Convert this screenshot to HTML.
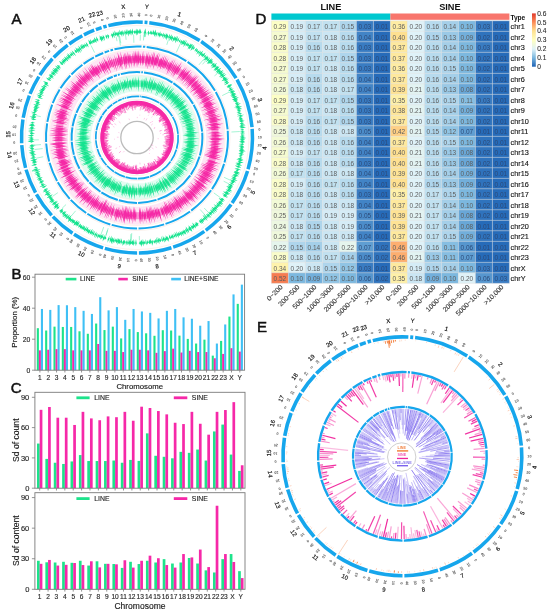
<!DOCTYPE html>
<html><head><meta charset="utf-8"><title>Figure</title><style>html,body{margin:0;padding:0;background:#fff;width:550px;height:614px;overflow:hidden}svg{display:block}</style></head><body>
<svg width="550" height="614" viewBox="0 0 550 614" font-family="'Liberation Sans', Arial, sans-serif">
<rect width="550" height="614" fill="#fff"/>
<g id="A">
<circle cx="137.0" cy="137.5" r="38.2" fill="none" stroke="#f7e2d6" stroke-width="0.5"/>
<circle cx="137.0" cy="137.5" r="43.2" fill="none" stroke="#f7e2d6" stroke-width="0.5"/>
<circle cx="137.0" cy="137.5" r="62.5" fill="none" stroke="#f7e2d6" stroke-width="0.5"/>
<circle cx="137.0" cy="137.5" r="67.3" fill="none" stroke="#f7e2d6" stroke-width="0.5"/>
<circle cx="137.0" cy="137.5" r="88.0" fill="none" stroke="#f7e2d6" stroke-width="0.5"/>
<circle cx="137.0" cy="137.5" r="93.0" fill="none" stroke="#f7e2d6" stroke-width="0.5"/>
<circle cx="137.0" cy="137.5" r="112.0" fill="none" stroke="#f7e2d6" stroke-width="0.5"/>
<path d="M149.27 22.65A115.5 115.5 0 0 1 199.65 40.47" stroke="#16a6ec" stroke-width="3.5" fill="none"/><path d="M201.17 41.47A115.5 115.5 0 0 1 236.05 78.1" stroke="#16a6ec" stroke-width="3.5" fill="none"/><path d="M236.98 79.66A115.5 115.5 0 0 1 252.03 127.13" stroke="#16a6ec" stroke-width="3.5" fill="none"/><path d="M252.18 128.94A115.5 115.5 0 0 1 248.05 169.24" stroke="#16a6ec" stroke-width="3.5" fill="none"/><path d="M247.54 170.98A115.5 115.5 0 0 1 232.13 203" stroke="#16a6ec" stroke-width="3.5" fill="none"/><path d="M231.09 204.49A115.5 115.5 0 0 1 205.78 230.29" stroke="#16a6ec" stroke-width="3.5" fill="none"/><path d="M204.32 231.35A115.5 115.5 0 0 1 173.17 247.19" stroke="#16a6ec" stroke-width="3.5" fill="none"/><path d="M171.44 247.74A115.5 115.5 0 0 1 138.91 252.98" stroke="#16a6ec" stroke-width="3.5" fill="none"/><path d="M137.1 253A115.5 115.5 0 0 1 104.87 248.44" stroke="#16a6ec" stroke-width="3.5" fill="none"/><path d="M103.13 247.92A115.5 115.5 0 0 1 74.01 234.31" stroke="#16a6ec" stroke-width="3.5" fill="none"/><path d="M72.5 233.31A115.5 115.5 0 0 1 52.87 216.64" stroke="#16a6ec" stroke-width="3.5" fill="none"/><path d="M51.64 215.31A115.5 115.5 0 0 1 36.42 194.29" stroke="#16a6ec" stroke-width="3.5" fill="none"/><path d="M35.54 192.7A115.5 115.5 0 0 1 26.06 169.63" stroke="#16a6ec" stroke-width="3.5" fill="none"/><path d="M25.57 167.88A115.5 115.5 0 0 1 21.75 145.05" stroke="#16a6ec" stroke-width="3.5" fill="none"/><path d="M21.64 143.24A115.5 115.5 0 0 1 22.91 119.53" stroke="#16a6ec" stroke-width="3.5" fill="none"/><path d="M23.2 117.74A115.5 115.5 0 0 1 29.35 95.64" stroke="#16a6ec" stroke-width="3.5" fill="none"/><path d="M30.02 93.95A115.5 115.5 0 0 1 38.89 76.55" stroke="#16a6ec" stroke-width="3.5" fill="none"/><path d="M39.86 75.02A115.5 115.5 0 0 1 52.46 58.8" stroke="#16a6ec" stroke-width="3.5" fill="none"/><path d="M53.71 57.48A115.5 115.5 0 0 1 67.73 45.08" stroke="#16a6ec" stroke-width="3.5" fill="none"/><path d="M69.19 44A115.5 115.5 0 0 1 82.33 35.76" stroke="#16a6ec" stroke-width="3.5" fill="none"/><path d="M83.94 34.91A115.5 115.5 0 0 1 94.2 30.22" stroke="#16a6ec" stroke-width="3.5" fill="none"/><path d="M95.89 29.56A115.5 115.5 0 0 1 101.6 27.56" stroke="#16a6ec" stroke-width="3.5" fill="none"/><path d="M103.33 27.02A115.5 115.5 0 0 1 106.62 26.07" stroke="#16a6ec" stroke-width="3.5" fill="none"/><path d="M108.37 25.6A115.5 115.5 0 0 1 142.74 22.14" stroke="#16a6ec" stroke-width="3.5" fill="none"/><path d="M144.55 22.25A115.5 115.5 0 0 1 147.47 22.48" stroke="#16a6ec" stroke-width="3.5" fill="none"/>
<path d="M146.67 47.02A91 91 0 0 1 186.36 61.05" stroke="#16a6ec" stroke-width="2" fill="none"/><path d="M187.56 61.84A91 91 0 0 1 215.04 90.7" stroke="#16a6ec" stroke-width="2" fill="none"/><path d="M215.77 91.93A91 91 0 0 1 227.63 129.33" stroke="#16a6ec" stroke-width="2" fill="none"/><path d="M227.75 130.76A91 91 0 0 1 224.5 162.51" stroke="#16a6ec" stroke-width="2" fill="none"/><path d="M224.09 163.88A91 91 0 0 1 211.95 189.11" stroke="#16a6ec" stroke-width="2" fill="none"/><path d="M211.13 190.28A91 91 0 0 1 191.19 210.6" stroke="#16a6ec" stroke-width="2" fill="none"/><path d="M190.04 211.45A91 91 0 0 1 165.5 223.92" stroke="#16a6ec" stroke-width="2" fill="none"/><path d="M164.14 224.36A91 91 0 0 1 138.51 228.49" stroke="#16a6ec" stroke-width="2" fill="none"/><path d="M137.08 228.5A91 91 0 0 1 111.69 224.91" stroke="#16a6ec" stroke-width="2" fill="none"/><path d="M110.32 224.5A91 91 0 0 1 87.37 213.78" stroke="#16a6ec" stroke-width="2" fill="none"/><path d="M86.18 212.99A91 91 0 0 1 70.72 199.85" stroke="#16a6ec" stroke-width="2" fill="none"/><path d="M69.75 198.8A91 91 0 0 1 57.76 182.24" stroke="#16a6ec" stroke-width="2" fill="none"/><path d="M57.07 180.99A91 91 0 0 1 49.59 162.81" stroke="#16a6ec" stroke-width="2" fill="none"/><path d="M49.2 161.44A91 91 0 0 1 46.19 143.45" stroke="#16a6ec" stroke-width="2" fill="none"/><path d="M46.11 142.02A91 91 0 0 1 47.11 123.34" stroke="#16a6ec" stroke-width="2" fill="none"/><path d="M47.34 121.93A91 91 0 0 1 52.19 104.52" stroke="#16a6ec" stroke-width="2" fill="none"/><path d="M52.72 103.19A91 91 0 0 1 59.7 89.48" stroke="#16a6ec" stroke-width="2" fill="none"/><path d="M60.47 88.27A91 91 0 0 1 70.39 75.5" stroke="#16a6ec" stroke-width="2" fill="none"/><path d="M71.37 74.46A91 91 0 0 1 82.43 64.68" stroke="#16a6ec" stroke-width="2" fill="none"/><path d="M83.58 63.83A91 91 0 0 1 93.93 57.34" stroke="#16a6ec" stroke-width="2" fill="none"/><path d="M95.19 56.67A91 91 0 0 1 103.28 52.98" stroke="#16a6ec" stroke-width="2" fill="none"/><path d="M104.61 52.46A91 91 0 0 1 109.11 50.88" stroke="#16a6ec" stroke-width="2" fill="none"/><path d="M110.47 50.45A91 91 0 0 1 113.06 49.7" stroke="#16a6ec" stroke-width="2" fill="none"/><path d="M114.45 49.34A91 91 0 0 1 141.52 46.61" stroke="#16a6ec" stroke-width="2" fill="none"/><path d="M142.95 46.69A91 91 0 0 1 145.25 46.87" stroke="#16a6ec" stroke-width="2" fill="none"/>
<path d="M143.95 72.47A65.4 65.4 0 0 1 172.48 82.56" stroke="#16a6ec" stroke-width="2" fill="none"/><path d="M173.33 83.12A65.4 65.4 0 0 1 193.09 103.87" stroke="#16a6ec" stroke-width="2" fill="none"/><path d="M193.61 104.75A65.4 65.4 0 0 1 202.14 131.63" stroke="#16a6ec" stroke-width="2" fill="none"/><path d="M202.22 132.65A65.4 65.4 0 0 1 199.88 155.47" stroke="#16a6ec" stroke-width="2" fill="none"/><path d="M199.59 156.46A65.4 65.4 0 0 1 190.87 174.59" stroke="#16a6ec" stroke-width="2" fill="none"/><path d="M190.28 175.43A65.4 65.4 0 0 1 175.95 190.04" stroke="#16a6ec" stroke-width="2" fill="none"/><path d="M175.12 190.64A65.4 65.4 0 0 1 157.48 199.61" stroke="#16a6ec" stroke-width="2" fill="none"/><path d="M156.5 199.92A65.4 65.4 0 0 1 138.08 202.89" stroke="#16a6ec" stroke-width="2" fill="none"/><path d="M137.06 202.9A65.4 65.4 0 0 1 118.81 200.32" stroke="#16a6ec" stroke-width="2" fill="none"/><path d="M117.82 200.03A65.4 65.4 0 0 1 101.33 192.32" stroke="#16a6ec" stroke-width="2" fill="none"/><path d="M100.48 191.75A65.4 65.4 0 0 1 89.36 182.31" stroke="#16a6ec" stroke-width="2" fill="none"/><path d="M88.67 181.56A65.4 65.4 0 0 1 80.05 169.65" stroke="#16a6ec" stroke-width="2" fill="none"/><path d="M79.55 168.76A65.4 65.4 0 0 1 74.18 155.69" stroke="#16a6ec" stroke-width="2" fill="none"/><path d="M73.9 154.7A65.4 65.4 0 0 1 71.74 141.78" stroke="#16a6ec" stroke-width="2" fill="none"/><path d="M71.68 140.75A65.4 65.4 0 0 1 72.4 127.33" stroke="#16a6ec" stroke-width="2" fill="none"/><path d="M72.56 126.31A65.4 65.4 0 0 1 76.05 113.8" stroke="#16a6ec" stroke-width="2" fill="none"/><path d="M76.43 112.84A65.4 65.4 0 0 1 81.45 102.99" stroke="#16a6ec" stroke-width="2" fill="none"/><path d="M82 102.12A65.4 65.4 0 0 1 89.13 92.94" stroke="#16a6ec" stroke-width="2" fill="none"/><path d="M89.84 92.19A65.4 65.4 0 0 1 97.78 85.17" stroke="#16a6ec" stroke-width="2" fill="none"/><path d="M98.61 84.56A65.4 65.4 0 0 1 106.04 79.89" stroke="#16a6ec" stroke-width="2" fill="none"/><path d="M106.95 79.41A65.4 65.4 0 0 1 112.77 76.76" stroke="#16a6ec" stroke-width="2" fill="none"/><path d="M113.72 76.38A65.4 65.4 0 0 1 116.95 75.25" stroke="#16a6ec" stroke-width="2" fill="none"/><path d="M117.93 74.94A65.4 65.4 0 0 1 119.8 74.4" stroke="#16a6ec" stroke-width="2" fill="none"/><path d="M120.79 74.14A65.4 65.4 0 0 1 140.25 72.18" stroke="#16a6ec" stroke-width="2" fill="none"/><path d="M141.28 72.24A65.4 65.4 0 0 1 142.93 72.37" stroke="#16a6ec" stroke-width="2" fill="none"/>
<path d="M141.38 96.53A41.2 41.2 0 0 1 159.35 102.89" stroke="#16a6ec" stroke-width="1.7" fill="none"/><path d="M159.89 103.24A41.2 41.2 0 0 1 172.33 116.31" stroke="#16a6ec" stroke-width="1.7" fill="none"/><path d="M172.66 116.87A41.2 41.2 0 0 1 178.03 133.8" stroke="#16a6ec" stroke-width="1.7" fill="none"/><path d="M178.09 134.45A41.2 41.2 0 0 1 176.61 148.82" stroke="#16a6ec" stroke-width="1.7" fill="none"/><path d="M176.43 149.44A41.2 41.2 0 0 1 170.93 160.87" stroke="#16a6ec" stroke-width="1.7" fill="none"/><path d="M170.56 161.4A41.2 41.2 0 0 1 161.54 170.6" stroke="#16a6ec" stroke-width="1.7" fill="none"/><path d="M161.01 170.98A41.2 41.2 0 0 1 149.9 176.63" stroke="#16a6ec" stroke-width="1.7" fill="none"/><path d="M149.29 176.83A41.2 41.2 0 0 1 137.68 178.69" stroke="#16a6ec" stroke-width="1.7" fill="none"/><path d="M137.04 178.7A41.2 41.2 0 0 1 125.54 177.07" stroke="#16a6ec" stroke-width="1.7" fill="none"/><path d="M124.92 176.89A41.2 41.2 0 0 1 114.53 172.03" stroke="#16a6ec" stroke-width="1.7" fill="none"/><path d="M113.99 171.68A41.2 41.2 0 0 1 106.99 165.73" stroke="#16a6ec" stroke-width="1.7" fill="none"/><path d="M106.55 165.25A41.2 41.2 0 0 1 101.12 157.76" stroke="#16a6ec" stroke-width="1.7" fill="none"/><path d="M100.81 157.19A41.2 41.2 0 0 1 97.43 148.96" stroke="#16a6ec" stroke-width="1.7" fill="none"/><path d="M97.25 148.34A41.2 41.2 0 0 1 95.89 140.19" stroke="#16a6ec" stroke-width="1.7" fill="none"/><path d="M95.85 139.55A41.2 41.2 0 0 1 96.3 131.09" stroke="#16a6ec" stroke-width="1.7" fill="none"/><path d="M96.41 130.45A41.2 41.2 0 0 1 98.6 122.57" stroke="#16a6ec" stroke-width="1.7" fill="none"/><path d="M98.84 121.97A41.2 41.2 0 0 1 102 115.76" stroke="#16a6ec" stroke-width="1.7" fill="none"/><path d="M102.35 115.21A41.2 41.2 0 0 1 106.84 109.43" stroke="#16a6ec" stroke-width="1.7" fill="none"/><path d="M107.29 108.96A41.2 41.2 0 0 1 112.29 104.53" stroke="#16a6ec" stroke-width="1.7" fill="none"/><path d="M112.81 104.15A41.2 41.2 0 0 1 117.5 101.21" stroke="#16a6ec" stroke-width="1.7" fill="none"/><path d="M118.07 100.91A41.2 41.2 0 0 1 121.73 99.23" stroke="#16a6ec" stroke-width="1.7" fill="none"/><path d="M122.34 99A41.2 41.2 0 0 1 124.37 98.28" stroke="#16a6ec" stroke-width="1.7" fill="none"/><path d="M124.99 98.09A41.2 41.2 0 0 1 126.16 97.75" stroke="#16a6ec" stroke-width="1.7" fill="none"/><path d="M126.79 97.59A41.2 41.2 0 0 1 139.05 96.35" stroke="#16a6ec" stroke-width="1.7" fill="none"/><path d="M139.69 96.39A41.2 41.2 0 0 1 140.73 96.47" stroke="#16a6ec" stroke-width="1.7" fill="none"/>
<circle cx="137.0" cy="137.5" r="16.2" fill="none" stroke="#bbbbbb" stroke-width="1.3"/>
<path d="M148.69 30.47L149.32 32.72L148.09 35.97L147.59 32.53ZM150.66 30.19L150.96 32.93L150.07 34.77L149.68 32.76ZM152.04 30.21L152.45 33.14L151.37 34.97L150.83 32.91ZM153.89 29.53L154.21 33.41L152.98 35.34L152.41 33.13ZM155.69 29.53L156.05 33.73L154.45 36.68L153.94 33.37ZM156.86 31.94L157.19 33.95L155.79 37.61L155.82 33.69ZM158.83 32.15L159.1 34.34L157.89 36.68L157.71 34.05ZM160.38 31.35L160.55 34.66L158.97 37.72L158.83 34.28ZM161.59 32.9L162.06 35.02L160.7 36.69L160.23 34.59ZM163.63 32.5L163.74 35.45L162.31 37.71L162.13 35.04ZM165.21 33.23L165.27 35.86L163.59 39.24L163.84 35.47ZM167.08 33.07L167.12 36.39L165.36 39.06L165.28 35.86ZM167.99 34.05L168.06 36.67L166.08 40.41L166.49 36.21ZM170.13 33.53L169.65 37.18L168.37 39.04L168.41 36.78ZM171.69 34.27L171.57 37.82L169.44 40.94L169.63 37.17ZM172.98 35.61L172.97 38.32L170.97 41.29L171.29 37.73ZM174.85 35.93L174.63 38.94L172.51 42.22L173.05 38.35ZM176.42 35.99L176.05 39.49L174.49 40.97L174.33 38.83ZM177.99 35.77L177.18 39.95L175.02 43.15L175.68 39.35ZM179.34 37.16L178.66 40.58L177.29 42.01L177.36 40.03ZM180.51 39.11L180.29 41.29L178.88 42.79L179.03 40.74ZM182.19 39.52L181.79 41.98L180.04 44.18L180.58 41.42ZM183.88 39.79L183.54 42.82L181.29 45.19L181.73 41.95ZM185.52 39.48L184.51 43.31L182.71 45.16L183.1 42.6ZM186.87 40.1L185.71 43.92L183.22 47.24L184.45 43.27ZM187.8 42.36L187.48 44.86L185.58 46.52L185.9 44.02ZM189.24 43.05L188.76 45.57L187.18 46.76L187.36 44.8ZM191.18 43.31L190.35 46.48L187.57 49.59L188.86 45.62ZM192.3 43.82L191.52 47.18L188.9 49.6L189.74 46.13ZM194.34 44.6L193.1 48.15L190.36 51.04L191.72 47.3ZM195.16 46.19L194.23 48.87L192.58 50.25L193.12 48.17ZM196.9 47.87L196.16 50.15L194.4 51.6L195.07 49.42ZM197.84 49.11L197.47 51.05L195.59 52.38L196.16 50.15ZM199.48 50.19L198.96 52.11L196.12 54.87L197.83 51.3ZM200.98 50.61L200.11 52.96L198 54.67L199.01 52.14ZM203.22 50.49L201.56 54.06L198.36 56.88L200.21 53.04ZM203.33 52.9L202.68 54.94L200.83 56.09L201.5 54.02ZM205.56 52.39L204.01 56.01L201.82 57.05L202.36 54.69ZM206.65 54.22L205.17 56.98L203.3 58.22L204.19 56.16ZM208.06 55.42L206.77 58.36L203.34 60.88L205.34 57.13ZM208.53 56.68L207.65 59.15L205.15 60.51L206.19 57.86ZM210.27 57.37L208.73 60.14L205.72 62.35L207.65 59.15ZM212.19 58.24L210.32 61.65L206.74 63.98L208.88 60.28ZM213.09 59.09L211.09 62.39L207.98 64.36L209.85 61.19ZM213.4 60.94L212.06 63.36L210.2 64.15L210.99 62.29ZM214.81 62.71L213.63 64.99L210.56 66.79L212.48 63.79ZM217.12 62.79L214.7 66.13L211.11 68.39L213.62 64.97ZM216.63 64.8L215.4 66.9L213.18 67.95L214.43 65.84ZM218.73 65.69L216.81 68.51L213.28 70.48L215.7 67.24ZM219.54 66.52L217.59 69.42L214.17 71.14L216.38 68.01ZM221.36 67.72L218.83 70.91L215.46 72.6L217.75 69.61ZM220.87 69.89L219.76 72.07L216.26 73.61L218.51 70.52ZM223.42 70.04L220.81 73.42L217.99 74.27L219.51 71.75ZM223.85 71.57L221.45 74.27L219.27 75.04L220.61 73.15ZM225.19 72.65L222.58 75.81L218.98 77.21L221.4 74.2ZM226.39 74L223.51 77.12L220.25 78.36L222.5 75.69ZM225.9 76.85L224.67 78.81L222.63 79.08L223.63 77.28ZM227.4 77.39L225.41 79.94L221.49 81.32L224.28 78.23ZM228.84 78.27L226.07 80.97L223.73 81.57L225.25 79.69ZM228.54 80.42L226.95 82.38L223.8 83.38L226.09 80.99ZM229.2 82.01L227.82 83.81L223.98 85.15L226.96 82.38ZM232.37 83.76L229.33 86.46L226.47 87.09L228.49 84.97ZM232.11 85.12L229.81 87.34L226.74 88.08L229.01 85.88ZM232.39 87.42L230.73 89.08L228.81 89.3L230.08 87.83ZM233.69 88.41L231.42 90.43L227.91 91.34L230.72 89.05ZM234.58 89.97L232.14 91.91L229.03 92.68L231.55 90.7ZM235.24 91.11L232.81 93.34L230.23 93.48L231.98 91.57ZM235.95 92.95L233.62 95.14L230.33 95.48L232.77 93.24ZM236.41 94.36L234.12 96.29L230.78 96.8L233.43 94.71ZM237.61 95.66L234.73 97.77L231.75 98.1L234.09 96.21ZM238.87 97.18L235.48 99.66L231.86 99.96L234.7 97.7ZM237.96 99.35L236.04 101.15L232.75 101.32L235.33 99.27ZM238.14 100.68L236.36 102.03L234.17 102.12L235.91 100.79ZM238.97 102.28L237.03 103.98L234.85 103.7L236.39 102.13ZM240.99 103.37L237.52 105.48L235.18 105.28L236.95 103.72ZM239.82 105.64L237.99 106.97L234.03 107.44L237.56 105.58ZM242.07 106.35L238.45 108.55L235.51 108.3L237.84 106.48ZM242.24 107.99L238.81 109.85L236.48 109.61L238.35 108.19ZM241.51 109.82L239.22 111.41L236.79 111.07L238.74 109.57ZM241.19 111.67L239.55 112.73L236.36 112.87L239.25 111.5ZM242.31 113.13L239.93 114.36L236.57 114.46L239.63 113.07ZM244.27 114.7L240.33 116.23L236.58 116.33L240.05 114.9ZM242.88 116.54L240.63 117.75L238.63 117.38L240.34 116.27ZM242.88 118.29L240.98 119.65L238.04 119.17L240.62 117.68ZM243.47 119.85L241.22 121.12L238.95 120.6L240.93 119.37ZM244.69 120.75L241.39 122.21L239.26 121.59L241.1 120.36ZM244.35 123.05L241.68 124.33L239.6 123.69L241.43 122.52ZM245.45 124.52L241.83 125.61L239.77 125.2L241.67 124.3ZM245.74 125.81L241.99 127.09L239.02 126.53L241.8 125.35ZM246.05 127.3L242.12 128.54L239.61 127.91L241.96 126.82ZM244.27 129.62L242.27 130.49L240.04 129.94L242.16 129.06ZM244.89 131.69L242.39 132.58L239.82 131.96L242.3 131.07ZM245.41 133.04L242.43 133.8L240.19 133.25L242.38 132.52ZM244.87 134.95L242.49 135.88L240.63 135.05L242.45 134.13ZM244.75 136.72L242.5 137.41L239.56 136.76L242.49 136.06ZM246.26 138.07L242.49 139.06L239.66 138.04L242.5 137.05ZM245.22 139.84L242.45 140.85L239.46 139.71L242.49 138.7ZM245.05 141.48L242.39 142.3L238.63 141.25L242.46 140.47ZM245.15 142.7L242.34 143.26L239.75 142.44L242.41 141.88ZM244.25 144.42L242.23 145L238.71 144.06L242.32 143.59ZM244.13 146.45L242.05 147.21L238.33 145.96L242.21 145.35ZM244.49 147.74L241.94 148.34L239.65 147.28L242.1 146.68ZM244.03 149.32L241.74 150.14L239.01 148.77L241.97 148.02ZM245.78 151.17L241.54 151.71L238.59 150.27L241.8 149.6ZM244 152.44L241.37 152.88L238.86 151.72L241.59 151.3ZM244.14 154.25L241.1 154.65L238.26 153.33L241.36 152.95ZM242.77 155.61L240.85 156.11L238.59 154.9L241.12 154.51ZM242.55 157.37L240.54 157.74L238.86 156.67L240.81 156.29ZM243.45 159.52L240.12 159.77L237.31 158.25L240.5 157.96ZM243.46 160.96L239.86 160.96L236.21 159.36L240.19 159.45ZM243.67 162.94L239.4 162.87L237.52 161.47L239.83 161.08ZM241.06 164.1L238.98 164.51L235.53 162.69L239.43 162.75ZM242.37 165.63L238.7 165.55L235.31 163.75L239.15 163.88ZM241.28 167.5L238.11 167.63L234.73 165.61L238.66 165.7ZM241.42 170.27L237.44 169.79L234.38 168.06L237.88 168.39ZM239.02 171L237.02 171.06L235.22 169.75L237.44 169.77ZM240.26 173.34L236.37 172.95L233.7 171.06L236.96 171.23ZM239.5 174.39L235.93 174.15L233.47 172.22L236.6 172.29ZM238.95 176.32L235.26 175.91L232.78 173.97L235.92 174.17ZM236.9 177.09L234.83 176.98L231.76 175.05L235.32 175.75ZM236.74 178.75L234.12 178.71L231.21 176.46L234.86 176.93ZM237.62 181.04L233.48 180.17L231.08 178.21L234.16 178.62ZM236.25 182.42L232.73 181.83L229.8 179.5L233.49 180.16ZM234.34 183.08L232.13 183.11L230.59 181.33L232.95 181.37ZM234.2 184.65L231.63 184.14L229.08 182.16L232.21 182.95ZM233.19 186.48L230.59 186.2L227.97 183.82L231.44 184.53ZM232.56 187.82L229.95 187.4L227.66 185.24L230.74 185.91ZM231.5 188.92L229.16 188.86L226.21 186.03L230.18 186.98ZM232.34 191.46L228.32 190.33L227.21 188.56L229.3 188.59ZM231.64 192.83L227.71 191.37L225.59 189.29L228.44 190.12ZM230.63 194.41L226.79 192.88L225.19 191.09L227.51 191.7ZM229.06 195.03L225.93 194.25L223 191.24L226.99 192.56ZM227.94 196.71L225.01 195.68L222.12 192.92L225.81 194.45ZM228.06 198.23L224.42 196.56L222.3 194.39L225.12 195.51ZM224.96 200.83L222.16 199.78L220.57 197.67L223.07 198.5ZM223.78 201.89L221.15 201.14L218.66 198.09L222.3 199.58ZM223.42 204.44L219.82 202.86L218.75 200.83L220.98 201.35ZM222.74 205.55L219.13 203.72L217.68 201.54L220.13 202.45ZM221.88 206.99L218.11 204.96L216.15 202.29L219.15 203.69ZM219.6 207.02L217.07 206.2L216.25 204.2L218.36 204.66ZM218.49 208.35L216.12 207.28L213.56 204.07L217.11 206.15ZM217.76 210L214.79 208.76L213.83 206.47L216.21 207.19ZM217.19 211.95L213.6 210.04L211.57 206.73L215.02 208.51ZM216.11 213.29L212.73 210.96L210.93 208.33L213.63 210.01ZM214.58 214.15L211.4 212.3L210 209.62L212.69 210.99ZM212.58 214.63L210.34 213.34L209.49 211.49L211.32 212.37ZM212 215.81L209.28 214.35L208.16 211.79L210.67 213.02ZM211.46 217.98L208.08 215.46L207 213.16L209.2 214.42ZM209.8 218.14L207.17 216.28L205.85 213.77L208.21 215.34ZM207.85 218.75L205.79 217.49L203.73 214.02L206.89 216.53ZM207.72 221.07L204.62 218.48L202.44 214.84L205.68 217.59ZM205.41 220.76L203.45 219.44L202.69 217.46L204.49 218.59ZM204.09 221.97L201.81 220.75L201.11 218.22L203.42 219.47ZM203.63 223.89L200.74 221.56L199.73 218.83L202.12 220.51ZM201.96 224.03L199.73 222.32L198.77 219.78L200.94 221.42ZM198.35 225.9L196.32 224.75L195.44 221.7L197.99 223.58ZM197.33 226.86L195.36 225.39L194.67 222.9L196.71 224.48ZM195.94 228.44L193.52 226.58L192.16 222.6L195.24 225.47ZM194.09 228.41L192.23 227.39L192.11 225.25L193.98 226.29ZM193.67 229.95L191.45 227.87L190.46 224.71L192.82 227.02ZM192.33 232.02L189.37 229.08L188.38 225.29L191.21 228.01ZM190.48 231.21L188.54 229.55L188.27 227.34L190.05 228.69ZM189.23 233.1L186.77 230.52L185.64 226.52L188.39 229.64ZM187.97 234L185.69 231.09L184.92 228.23L186.84 230.48ZM186.3 234.91L183.81 232.04L183.57 229.53L185.46 231.21ZM184.71 234.42L182.76 232.56L182.66 230.27L184.41 231.75ZM183.74 235.94L181.47 233.17L181.37 230.93L183.03 232.43ZM182.04 236.43L179.89 233.89L179.58 231.03L181.53 233.14ZM179.84 235.9L178.14 234.65L178.11 231.92L180.08 233.8ZM178.92 237.95L176.95 235.14L176.12 231.24L178.31 234.58ZM176.9 237.74L175.3 235.8L174.5 231.71L176.73 235.23ZM175.2 237.83L173.78 236.38L173.48 233.29L175.31 235.8ZM173.71 238.98L172.2 236.95L171.73 233.51L173.58 236.46ZM172.31 238.91L170.8 237.44L170.83 234.67L172.57 236.82ZM170.69 239.87L169.16 237.98L168.82 234.19L170.79 237.44ZM169.16 242.3L167.25 238.57L167.2 235.92L168.65 238.14ZM167.4 240.96L165.72 239.01L165.72 235.24L167.76 238.42ZM166.05 242.03L164.46 239.36L164.64 236.98L166.03 238.93ZM164.61 242.84L162.97 239.75L162.72 235.61L164.53 239.34ZM162.75 242.19L161.57 240.1L161.21 235.93L162.84 239.79ZM160.6 242.32L159.17 240.64L159.57 237.75L161.17 240.19ZM159.32 244.25L157.83 240.92L157.73 236.66L159.35 240.61ZM157.57 243.26L156.5 241.18L156.36 237.09L157.77 240.94ZM156.4 244.65L155.03 241.45L155.32 238.65L156.56 241.17ZM154.64 243.75L153.5 241.7L153.99 239.79L155.06 241.44ZM152.86 245.94L151.55 241.99L151.96 239.81L152.98 241.78ZM151.12 244.73L149.96 242.2L150.28 238.36L151.59 241.99ZM149.7 244.17L148.43 242.38L149.12 239.34L150.51 242.13ZM147.77 244.72L146.91 242.53L147.28 239.81L148.19 242.41ZM146.28 245.39L145.39 242.67L145.72 238.88L146.68 242.55ZM144.47 244.62L143.6 242.79L144.21 240.8L145.09 242.69ZM143.33 246.41L142.37 242.86L142.89 238.87L143.87 242.78ZM141.75 247L140.62 242.94L141.43 239.62L142.52 242.86ZM140.21 245.51L139.17 242.98L140.06 240.49L141.11 242.92ZM135.9 246.32L135.2 242.98L135.97 238.93L136.67 243ZM133.64 245.89L132.93 242.92L133.86 238.86L134.54 242.97ZM132.33 245.3L131.38 242.85L132.55 240.07L133.48 242.94ZM130.54 245.05L129.68 242.75L130.9 239.09L131.68 242.87ZM129.08 246.37L128.57 242.66L129.58 239.47L130.11 242.78ZM127.68 245.27L127.19 242.54L128.22 238.94L128.62 242.67ZM125.96 246.05L125.68 242.39L126.56 240.08L126.96 242.52ZM123.77 245.32L123.13 242.08L124.46 239.65L125.17 242.33ZM122.58 246.22L122.46 241.99L123.45 239.67L123.8 242.17ZM120.87 244.79L120.59 241.72L121.84 238.36L122.05 241.93ZM119.13 244.32L118.64 241.39L120.14 238.31L120.55 241.71ZM117.69 245.11L117.37 241.16L118.97 238L119.36 241.51ZM116.15 243.47L115.69 240.83L117.25 237.91L117.58 241.2ZM114.68 242.94L114.46 240.57L115.64 238.37L115.83 240.85ZM112.66 244.18L112.75 240.17L114.24 237.25L114.32 240.53ZM111.05 244.07L111.07 239.76L112.75 237.07L113 240.23ZM109.72 242.89L109.75 239.42L111.61 235.59L111.38 239.84ZM107.5 242.71L107.89 238.91L109.55 235.41L109.14 239.26ZM104.7 240.12L104.48 237.86L106.01 235.98L106.18 238.4ZM102.61 241.49L103.08 237.4L104.72 235.11L104.66 237.92ZM101.51 239.42L101.67 236.91L103.51 233.67L102.95 237.35ZM100.14 239.79L100.49 236.48L102.35 233.66L101.99 237.02ZM98.96 238.19L98.88 235.87L100.52 234.05L100.56 236.51ZM97.14 238.8L97.65 235.39L99.21 233.54L99.09 235.95ZM95.4 238.17L96.04 234.72L97.56 232.93L97.37 235.28ZM93.92 237.85L94.76 234.17L96.61 231.58L96 234.71ZM92.45 236.15L92.97 233.37L94.86 230.81L94.19 233.92ZM91.33 235.03L91.57 232.72L93.73 229.9L92.94 233.36ZM89.76 234.66L90.07 231.99L92.66 228.7L91.67 232.76ZM87.91 233.88L88.16 231.02L90.39 229.01L90.08 231.99ZM86.53 233.18L87.14 230.47L88.84 228.8L88.42 231.15ZM85.67 231.74L85.66 229.67L88.43 226.67L87.42 230.62ZM83.75 231.78L84.51 229.01L87.05 225.95L85.73 229.71ZM82.7 230.09L82.74 227.98L85.21 225.81L84.53 229.03ZM81.36 229.5L81.67 227.33L84.11 224.96L83.14 228.22ZM79.82 228.71L80.08 226.33L82.28 224.79L81.85 227.44ZM78.34 227.66L78.57 225.34L81.08 223.43L80.36 226.5ZM76.38 226.41L76.87 224.19L79.86 221.31L78.27 225.14ZM75.46 225.55L75.71 223.37L78.87 220.67L77.41 224.56ZM73.45 225.8L74.58 222.55L77.58 220.06L76.18 223.7ZM72.33 223.79L72.93 221.32L75.39 219.71L74.54 222.52ZM71.32 222.9L72 220.6L74.1 219.29L73.37 221.65ZM69.81 222.34L70.75 219.61L72.8 218.56L72.25 220.79ZM67.59 222.13L69.35 218.45L71.3 217.61L70.85 219.69ZM67.87 219.68L68.4 217.65L71.54 215.32L69.78 218.81ZM65.73 219.47L67.16 216.58L69.95 214.62L68.4 217.65ZM64.27 218.28L65.8 215.35L68.3 213.81L67.03 216.46ZM63.31 216.93L64.63 214.26L66.51 213.48L65.87 215.42ZM62.37 215.38L63.41 213.09L66.52 211.05L64.62 214.25ZM61.61 214.45L62.68 212.38L65.22 210.76L63.66 213.34ZM59.87 213.57L61.28 210.97L63.32 210.16L62.49 212.19ZM59.56 211.91L60.27 209.9L63.33 208.29L61.6 211.29ZM55.94 209.66L57.67 207.04L59.64 206.36L58.73 208.24ZM53.9 208.93L56.3 205.45L58.61 204.88L57.7 207.08ZM53.51 207.66L55.55 204.55L59.11 202.96L56.93 206.19ZM52.6 205.66L54.48 203.23L58.11 201.21L55.37 204.33ZM51.37 205.25L53.78 202.34L57.43 200.46L54.75 203.57ZM50.08 203.46L52.5 200.67L54.69 199.95L53.41 201.87ZM49.13 202.43L51.53 199.35L53.87 198.92L52.77 201.03ZM49.34 200.24L50.76 198.27L53.18 197.48L51.66 199.53ZM48.86 198.85L49.82 196.91L52.25 196.49L51.02 198.63ZM46.66 198.36L48.96 195.63L52.78 194.24L50.06 197.26ZM46.72 195.99L48.03 194.2L51.04 193.19L48.89 195.53ZM44.32 195.61L47.08 192.67L50.27 191.88L48.17 194.41ZM45.01 193.22L46.35 191.46L50.34 189.99L47.18 192.84ZM42.62 192.45L45.38 189.81L47.93 189.36L46.28 191.35ZM42.89 190.81L44.86 188.88L48.37 187.71L45.56 190.11ZM42.15 187.91L43.41 186.2L47.17 185.24L44.27 187.82ZM39.27 187.25L42.63 184.67L45.84 183.91L43.33 186.05ZM40.79 185.02L42.01 183.41L44.1 183.39L42.82 185.04ZM38.94 183.56L41.22 181.73L44.25 181.06L41.8 182.98ZM38.94 182.38L40.81 180.83L44.13 180.01L41.34 181.98ZM37.9 180.81L40.04 179.08L42.21 178.93L40.63 180.42ZM36.79 179.61L39.39 177.53L42.7 177.13L40.09 179.21ZM36.22 177.54L38.69 175.77L40.93 175.67L39.23 177.14ZM36.43 175.91L38.08 174.19L40.34 174.42L38.81 176.1ZM34.52 175.14L37.75 173.27L40.56 172.92L38.19 174.46ZM34.25 173.42L37.11 171.44L40.38 171.27L37.72 173.18ZM34.09 171.46L36.59 169.86L40.66 169.29L37.05 171.27ZM32.58 170.36L36.12 168.39L38.18 168.59L36.61 169.94ZM33.58 168.16L35.67 166.87L37.71 166.93L36.03 168.09ZM31.11 165.63L34.81 163.71L37.11 164.03L35.27 165.46ZM31.61 163.37L34.38 161.96L37.79 161.86L34.71 163.34ZM31.81 162.15L34.05 160.57L36.74 161L34.52 162.58ZM30.34 160.83L33.72 159.05L37.37 159.29L34.16 161.03ZM29.99 158.71L33.35 157.19L36.37 157.45L33.68 158.83ZM30.97 157.19L33.16 156.12L35.29 156.39L33.39 157.4ZM30.37 155.32L32.78 153.9L36.49 154.3L33.12 155.89ZM29.24 153.93L32.58 152.59L35.12 153.04L32.83 154.22ZM28.84 152.51L32.38 151.09L35.53 151.58L32.63 152.91ZM28.16 150.51L32.17 149.39L34.55 149.75L32.32 150.66ZM29.67 148.78L31.97 147.47L34.43 148.28L32.19 149.57ZM28.34 147.16L31.85 146.07L34.49 146.61L31.99 147.62ZM29.43 145.59L31.73 144.47L35.76 145.11L31.87 146.35ZM27.43 141.62L31.54 140.52L34.5 141.36L31.61 142.41ZM27.67 140.03L31.51 139.05L34.38 139.87L31.55 140.83ZM28.97 138.43L31.5 137.74L33.81 138.39L31.51 139.07ZM27.51 137.17L31.5 136.51L33.65 137.19L31.5 137.86ZM27.49 135.44L31.53 134.87L34.15 135.56L31.51 136.16ZM29.67 133.53L31.61 132.66L35.03 133.73L31.54 134.54ZM28.08 131.84L31.69 131.24L33.6 132.13L31.6 132.82ZM28 129.98L31.8 129.58L35.51 130.5L31.71 130.9ZM28.01 128.28L31.93 127.93L35.86 128.95L31.82 129.29ZM29.68 127.38L32.07 126.59L34.03 127.79L31.88 128.6ZM28.46 125.08L32.29 124.59L35.48 125.88L32.08 126.41ZM29.85 124.07L32.44 123.41L34.34 124.63L32.2 125.34ZM30.29 122.26L32.65 121.95L35.1 122.95L32.47 123.22ZM30.67 118.7L33.25 118.37L36.58 119.74L32.98 119.89ZM29.42 116.46L33.64 116.36L36.41 117.83L33.29 118.15ZM31.89 115.56L33.93 114.99L36.46 116.52L33.53 116.9ZM31.51 113.74L34.24 113.61L37.48 115.09L33.92 115.03ZM30.72 111.67L34.65 111.9L36.45 113.06L34.32 113.27ZM33.12 110.62L35.14 110.03L37.08 111.64L34.6 112.11ZM33.48 109.21L35.5 108.74L38.1 110.48L34.98 110.65ZM33.48 107.62L35.92 107.28L38.51 109.07L35.37 109.21ZM33.76 106.04L36.3 106.05L39.97 107.93L35.87 107.44ZM33.21 104.26L36.81 104.45L39.38 106.24L36.25 106.2ZM35.26 102.8L37.47 102.52L40.64 104.64L36.83 104.38ZM34.5 101.01L37.88 101.36L40.11 103L37.34 102.88ZM34.58 98.93L38.5 99.72L40.15 101.03L38.04 100.92ZM37.16 96.49L39.72 96.68L43.08 98.92L39.11 98.16ZM36.42 94.42L40.37 95.17L42.19 96.89L39.68 96.77ZM37.41 92.92L41.03 93.67L44 95.87L40.39 95.11ZM39.09 91.73L41.82 91.98L43.4 93.74L41.04 93.66ZM38.78 90.05L42.43 90.73L43.99 92.57L41.58 92.49ZM39.87 88.73L43.18 89.24L44.6 91.11L42.26 91.08ZM41.29 87.73L43.84 87.99L45.4 89.87L42.97 89.67ZM40.73 85.68L44.46 86.84L46.01 88.53L43.75 88.15ZM42.62 84.83L45.25 85.41L47.54 87.58L44.5 86.77ZM43.9 83.25L46.19 83.8L49.42 86.47L45.51 84.97ZM43.02 81.08L47.11 82.28L48.3 84.25L46 84.12ZM45.88 77.57L49.37 78.76L51.23 81.09L48.36 80.29ZM48.12 76.93L50.18 77.56L51.71 79.38L49.45 78.63ZM48.59 75.03L51.34 75.92L53.86 78.75L50.35 77.32ZM48.88 73.66L52.1 74.88L53.92 77.31L51.04 76.34ZM50.6 72.25L53.31 73.27L55.66 76.08L52.31 74.58ZM51.08 70.95L54.04 72.32L56.44 75.1L53.14 73.48ZM51.97 69.25L55.32 70.73L57.77 73.91L54.13 72.21ZM52.71 67.84L56.21 69.65L58.32 72.48L55.15 70.94ZM54.53 67.68L57.01 68.71L59.01 71.47L55.96 69.96ZM54.99 65.43L58.24 67.31L60.39 70.18L57.26 68.42ZM56.72 64.78L59.36 66.07L60.95 68.61L58.27 67.28ZM58.86 60.74L62.43 62.87L63.34 65.14L61.06 64.27ZM61.1 60.34L63.48 61.84L65.1 64.41L62.56 62.75ZM61.93 59.02L64.84 60.54L65.59 62.84L63.32 61.99ZM63.07 58.02L65.78 59.66L66.53 61.75L64.51 60.85ZM64 56.53L67.1 58.48L68.38 61.4L65.61 59.82ZM65.69 55.65L68.25 57.48L69.53 60.05L67.15 58.43ZM66.6 54.36L69.35 56.55L70.59 59.08L68.3 57.43ZM67.05 53.05L70.28 55.77L71.39 58.29L69.12 56.73ZM69.4 52.94L71.77 54.59L72.27 56.53L70.49 55.61ZM70.17 51.42L72.88 53.72L73.92 56.26L71.73 54.62ZM71.56 50.23L74.29 52.66L76.14 56.34L73.13 53.53ZM74.33 49.25L76.71 50.92L77.25 53.37L75.12 52.06ZM75.29 47.36L78.13 49.95L79.28 53.19L76.68 50.95ZM77.37 47.64L79.43 49.09L80.94 53.02L77.91 50.1ZM78.04 45.51L80.71 48.27L82.1 51.84L79.43 49.09ZM79.99 45.05L82.3 47.29L82.73 49.49L80.95 48.12ZM80.76 43.73L83.38 46.64L84 49.12L82.1 47.41ZM82.49 43.89L84.74 45.85L85.04 48.27L83.09 46.82ZM84.26 43.28L86.21 45.03L86.63 47.53L84.73 45.86ZM85.73 42.07L87.77 44.19L88.65 47.5L86.37 44.94ZM88.33 39.58L90.97 42.57L90.91 44.76L89.12 43.49ZM89.89 39L92.31 41.93L92.41 44.25L90.66 42.72ZM92.24 39.94L93.84 41.23L93.76 43.27L92.16 42ZM93.01 38.97L94.66 40.87L94.82 43.03L93.32 41.47ZM94.02 37.16L96.41 40.12L96.5 42.94L94.51 40.94ZM95.98 36.3L98.21 39.39L98.2 41.77L96.54 40.07ZM99.63 35.21L101.74 38.07L102.15 42.11L99.85 38.76ZM101.39 35.78L103.06 37.61L103.29 41.19L101.24 38.25ZM102.77 34.7L104.39 37.17L104.91 41.12L102.96 37.64ZM105.71 34.51L107.14 36.32L107.2 39.41L105.53 36.8ZM107.55 33.96L108.98 35.79L108.95 38.89L107.3 36.27ZM111.74 33.2L113.03 34.76L113.07 38.67L111.31 35.17ZM112.92 31.3L114.47 34.43L114.52 38.33L112.87 34.8ZM114.56 30.22L116.3 34.05L115.8 36.17L114.5 34.43ZM116.64 32.08L118.03 33.72L117.62 37.12L115.97 34.12ZM118.01 31.09L119.3 33.5L119.19 37.73L117.63 33.79ZM119.54 29.45L121.07 33.21L120.47 35.21L119.27 33.5ZM121.14 30.56L122.36 33.02L122.1 36.97L120.69 33.27ZM122.61 29.9L123.83 32.82L123.5 36.55L122.2 33.04ZM124.67 29.89L125.75 32.6L125.35 35.79L124.24 32.77ZM126 28.77L127.13 32.46L126.66 35.29L125.63 32.61ZM127.81 29.37L129.05 32.3L128.42 36.5L127.08 32.47ZM129.25 29.68L130.33 32.21L129.62 34.83L128.54 32.34ZM130.67 28.86L131.82 32.13L131.08 35.85L129.91 32.24ZM132.3 28.18L133.24 32.07L132.6 35.2L131.71 32.13ZM134.59 30.21L135.53 32.01L134.68 34.28L133.72 32.05ZM136.19 28.62L137.13 32L136.25 35.7L135.31 32.01ZM137.7 28.72L138.58 32.01L137.66 35.31L136.78 32ZM139.34 28.59L140.1 32.05L139.21 34.33L138.43 32.01ZM140.68 28.43L141.2 32.08L140.48 34.1L139.91 32.04ZM145.36 28.33L146.05 32.39L144.79 35.67L144.05 32.24Z" fill="#16e38f"/>
<path d="M148.23 32.42L149.05 33.45L150 33.27L151.01 32.68L151.93 32.88L152.81 33.27L153.86 32.54L154.78 32.75L155.55 33.74L156.49 33.78L157.7 32.46L158.18 34.8L159.36 33.69L160.24 34.06L161.04 34.72L161.94 34.98L162.9 34.97L163.72 35.5L164.88 34.77L165.56 35.83L166.44 36.12L167.37 36.28L168.38 36.15L168.86 37.73L169.92 37.45L170.65 38.19L172.04 37L172.54 38.39L173.26 39.12L174.04 39.67L175.21 39.21L175.95 39.84L177.15 39.36L177.89 40.02L178.6 40.71L179.39 41.22L180.15 41.8L180.93 42.32L182.19 41.81L182.28 43.77L183.7 42.96L184.65 43.14L185.5 43.53L185.99 44.6L187.22 44.27L187.5 45.68L188.88 45.12L189.28 46.3L190.71 45.69L192.48 44.55L192.25 46.75L193.25 46.92L193.4 48.44L194.4 48.6" fill="none" stroke="#16e38f" stroke-width="0.5" stroke-linejoin="round"/><path d="M196.16 48.96L197.12 49.22L197.22 50.73L197.51 51.93L198.33 52.38L199.46 52.41L200.48 52.6L200.89 53.61L201.44 54.42L201.57 55.75L202.77 55.73L204.16 55.5L204.92 56.04L205.43 56.9L206.16 57.48L206.38 58.63L207.42 58.86L208.25 59.34L208.42 60.53L209.26 60.99L210.14 61.42L211.73 61.12L211.12 63.08L212.45 63.07L213.1 63.74L213.47 64.68L214.29 65.19L215.53 65.32L215.53 66.59L216.92 66.61L215.96 68.69L217.35 68.72L217.98 69.41L218 70.61L219.06 70.94L219.54 71.75L219.19 73.21L220.74 73.18L220.54 74.5L220.95 75.34L222.19 75.58L223.21 76L223.11 77.21L223.94 77.77L224.55 78.48L225.79 78.78L225.67 79.97L225.95 80.91L226.85 81.44L226.8 82.56L227.52 83.22" fill="none" stroke="#16e38f" stroke-width="0.5" stroke-linejoin="round"/><path d="M227.72 85.01L229.13 85.29L229.25 86.29L228.98 87.51L230.41 87.79L230.17 88.98L231.33 89.43L231.84 90.23L230.72 91.82L233.07 91.73L232.13 93.2L233.7 93.51L233.77 94.51L234.04 95.42L232.79 96.97L234.74 97.16L234.9 98.1L235.25 98.98L235.83 99.75L235.86 100.75L235.85 101.74L236.22 102.6L236.95 103.34L237.86 104.02L237.54 105.12L237.68 106.05L238.25 106.86L238.64 107.72L239.07 108.58L239.42 109.46L238.66 110.63L239.28 111.44L237.91 112.73L239.71 113.26L240.32 114.08L240.67 114.96L241.23 115.81L240.07 117L240.16 117.93L239.85 118.94L241.35 119.62L241.03 120.62L241.42 121.51L241.9 122.38L242.59 123.24L242.04 124.26L242.51 125.15L241.77 126.18L240.98 127.2L241.67 128.07" fill="none" stroke="#16e38f" stroke-width="0.5" stroke-linejoin="round"/><path d="M241.47 129.74L243.19 130.55L242.39 131.53L243.01 132.44L242.06 133.41L241.52 134.35L241.37 135.28L242.52 136.18L242.18 137.11L240.89 138.03L241.81 138.96L241.42 139.88L241.91 140.82L242.64 141.77L242.33 142.69L242.96 143.66L241.11 144.47L241.06 145.39L241.53 146.35L241.96 147.32L241.31 148.19L242.15 149.21L242.08 150.14L241.88 151.06L241.95 152.01L242.72 153.06L241.4 153.81L241.53 154.78L240.21 155.5L240.25 156.44L240.78 157.49L240.32 158.34L240.88 159.41L240.26 160.23L240.02 161.13L239.68 162.01L239.81 163L238.04 163.51L239.79 164.93L238.42 165.52L237.71 166.28" fill="none" stroke="#16e38f" stroke-width="0.5" stroke-linejoin="round"/><path d="M238.15 168.14L237.66 168.96L237.89 170.01L236.36 170.49L237.33 171.8L236.48 172.49L236.07 173.33L236.17 174.36L236.13 175.35L234.63 175.76L235.07 176.94L234.98 177.91L234.26 178.62L234.37 179.69L233.27 180.22L233.1 181.16L233.72 182.48L232.54 182.96L231.32 183.41L230.92 184.24L231.25 185.45L230.77 186.25L230.42 187.12L229.79 187.84L230.52 189.31L229.32 189.72L228.97 190.59L228.25 191.26L226.35 191.21L226.86 192.6L226.32 193.36L226.77 194.75L224.7 194.53L225.15 195.93L223.96 196.26L223.75 197.23" fill="none" stroke="#16e38f" stroke-width="0.5" stroke-linejoin="round"/><path d="M222.05 198.05L222.53 199.53L222.09 200.35L221.87 201.34L221.01 201.84L220.06 202.28L219.45 202.97L219.38 204.09L218.56 204.61L217.91 205.27L216.9 205.62L217.22 207.11L215.61 206.93L216.06 208.56L214.39 208.29L213.3 208.53L213.78 210.23L213.18 210.94L212.41 211.48L211.5 211.87L211.34 213.02L210.34 213.32L209.57 213.83L208.61 214.16L208.15 215.01L207.6 215.77L207.43 216.97L206.9 217.77L206.17 218.35L205.37 218.83L203.96 218.59L203.75 219.78L202.72 219.98L201.99 220.53L201.07 220.85L200.77 221.98L199.51 221.82" fill="none" stroke="#16e38f" stroke-width="0.5" stroke-linejoin="round"/><path d="M198.62 223.42L197.28 223.15L197.73 225.45L195.76 224.24L196.18 226.56L194.85 226.27L193.85 226.46L192.74 226.47L192.15 227.3L191.63 228.27L190.16 227.63L190.22 229.6L189.08 229.51L188.33 230.12L187.4 230.39L186.1 229.95L185.14 230.13L184.57 231.07L184.1 232.22L182.78 231.68L182.07 232.36L181.27 232.85L180.75 233.98L179.87 234.33L179.15 235.06L178.23 235.32L177 234.82L175.83 234.42L175.3 235.62L174.42 235.95L173.64 236.55L172.45 236.05L171.7 236.75L170.95 237.44L170.04 237.7" fill="none" stroke="#16e38f" stroke-width="0.5" stroke-linejoin="round"/><path d="M168.62 238.7L167.47 238.19L166.76 239.1L165.77 239.07L165.07 240.11L163.69 238.61L163.08 239.99L162.28 240.72L161.15 240.05L160.26 240.4L159.2 239.95L158.42 240.84L157.39 240.47L156.43 240.45L155.64 241.38L154.79 241.98L153.92 242.57L152.67 240.69L151.9 241.86L150.96 241.99L150.04 242.21L149.08 242.13L148.17 242.47L147.26 242.85L146.39 243.79L145.35 242.72L144.4 242.72L143.54 244.05L142.5 242.46L141.54 242.09L140.61 242.18L139.71 243.53L138.75 243.3" fill="none" stroke="#16e38f" stroke-width="0.5" stroke-linejoin="round"/><path d="M137.09 243.19L136.16 243.44L135.23 242.58L134.29 243.34L133.38 242.55L132.48 241.73L131.47 243.48L130.6 242.27L129.63 242.86L128.63 243.74L127.77 242.77L126.83 242.76L125.85 243.12L125.12 241.28L124.05 242.42L123.13 242.21L122.14 242.55L121.33 241.63L120.28 242.33L119.57 240.89L118.77 240.12L117.94 239.54L116.58 241.68L115.86 240.54L114.89 240.64L113.76 241.42L112.92 240.87L111.94 240.95L111.21 239.98L110.41 239.36L109.68 238.47L108.42 239.55L107.33 239.96" fill="none" stroke="#16e38f" stroke-width="0.5" stroke-linejoin="round"/><path d="M105.97 238.69L105.47 237.18L104.18 238.21L103.35 237.77L102.8 236.55L101.39 237.78L101.11 235.83L100.27 235.48L99.36 235.29L97.95 236.37L97.05 236.14L96.49 235.07L96.11 233.6L94.54 234.91L94.05 233.74L92.83 234.2L92.62 232.46L91.3 233.1L90.43 232.77L89.48 232.61L88.69 232.1L88.33 230.79L88.03 229.41L86.66 230.01L85.64 229.96L85.03 229.18L83.67 229.68L83.74 227.74L82.12 228.65L81.87 227.28L80.97 227L80.53 225.97L79.51 225.86" fill="none" stroke="#16e38f" stroke-width="0.5" stroke-linejoin="round"/><path d="M79.27 223.25L77.61 224.03L76.58 223.87L75.98 223.09L74.64 223.34L74.53 221.89L73.78 221.33L73.05 220.73L72.62 219.77L70.9 220.43L69.64 220.47L69.67 218.94L68.85 218.45L68.4 217.52L66.61 218.14L66.44 216.89L65.9 216.07L65.98 214.59L62.9 216.5L64.55 213.38L63.96 212.63L63.06 212.22L62.29 211.66L62.37 210.26L60.34 210.92L59.33 210.57" fill="none" stroke="#16e38f" stroke-width="0.5" stroke-linejoin="round"/><path d="M59.14 208.47L58.42 207.84L57.83 207.1L56.83 206.7L56.76 205.52L55.64 205.21L55.37 204.2L54.86 203.4L53.53 203.23L52.99 202.44L53.02 201.22L52.41 200.49L52.2 199.47L52.11 198.37L50.65 198.25L49.83 197.66L49.41 196.79L49.33 195.7L49.28 194.6L47.57 194.58L47.48 193.5L46.45 193.02L46.72 191.74L45.42 191.41L45.11 190.48L45.68 189.06" fill="none" stroke="#16e38f" stroke-width="0.5" stroke-linejoin="round"/><path d="M43.81 188.21L43.1 187.5L42.53 186.71L42.76 185.52L42.48 184.59L41.6 183.96L41.74 182.84L42.11 181.61L40.52 181.3L40.76 180.15L40.38 179.28L40.16 178.34L39.85 177.44L39.46 176.58L38.67 175.87L39.19 174.65L38.73 173.82L37.55 173.24L37.32 172.31L37.02 171.41L36.76 170.49L31.93 171.03L36.76 168.5L36.6 167.56L35.85 166.79" fill="none" stroke="#16e38f" stroke-width="0.5" stroke-linejoin="round"/><path d="M35.45 165.19L35.22 164.3L33.82 163.7L34 162.7L34.72 161.58L34.73 160.64L34.08 159.85L33.98 158.93L34.29 157.93L34.2 157.02L33.3 156.25L33.33 155.31L32.35 154.54L32.92 153.52L32.62 152.63L32.04 151.78L32.34 150.81L32.65 149.85L31.79 149.02L31.21 148.15L32.66 147.09L31.67 146.25L31.14 145.37L32.14 144.37" fill="none" stroke="#16e38f" stroke-width="0.5" stroke-linejoin="round"/><path d="M31.53 142.75L31.89 141.79L30.78 140.88L32.77 139.89L32.17 138.96L31.56 138.02L31.12 137.08L31.59 136.14L32.11 135.2L30.96 134.23L30.68 133.27L31.38 132.35L31.44 131.4L31.51 130.46L31.4 129.5L31.91 128.59L32.31 127.68L31.6 126.66L32.16 125.77L32.35 124.84L33.1 123.99L32.57 122.96L32.42 121.99L33.29 121.17" fill="none" stroke="#16e38f" stroke-width="0.5" stroke-linejoin="round"/><path d="M33.18 119.47L33.32 118.53L33.95 117.68L32.87 116.49L34.74 115.91L33.59 114.69L34.2 113.85L34.07 112.83L35.17 112.12L35.83 111.31L34.13 109.87L35.38 109.22L33.78 107.77L35.6 107.3L35.1 106.14L36.24 105.49L37.22 104.81L37.65 103.95L37.57 102.92L38.25 102.15L38.53 101.24L38.39 100.18L38.14 99.06" fill="none" stroke="#16e38f" stroke-width="0.5" stroke-linejoin="round"/><path d="M38.72 97.49L39.71 96.88L40.5 96.2L40.58 95.21L40.31 94.06L41.15 93.41L40.44 92.04L42 91.73L42.66 91.01L42.28 89.77L43.24 89.2L43.12 88.07L43.46 87.18L44.25 86.54L44.8 85.76L44.71 84.63L45.39 83.93L46.32 83.38L47.16 82.79L47.65 81.99" fill="none" stroke="#16e38f" stroke-width="0.5" stroke-linejoin="round"/><path d="M47.87 80.17L48.23 79.28L49.87 79.24L50.31 78.41L51.26 77.93L50.2 76.04L51.99 76.17L51.72 74.81L51.59 73.53L53.77 74.01L53.2 72.38L53.81 71.66L54.28 70.82L56.11 71.1L57.06 70.68L56.12 68.66L57.54 68.65L59.06 68.74L58.27 66.79L58.4 65.62L60.17 65.98" fill="none" stroke="#16e38f" stroke-width="0.5" stroke-linejoin="round"/><path d="M60.48 63.99L61.9 64.05L62.24 63.05L62.84 62.3L63.34 61.44L64.5 61.28L64.97 60.4L65.54 59.61L65.72 58.38L66.77 58.12L67.5 57.5L68.52 57.23L69.3 56.67L69.91 55.92L70.3 54.88L71.4 54.73L71.88 53.8L72.32 52.81L74.2 53.71" fill="none" stroke="#16e38f" stroke-width="0.5" stroke-linejoin="round"/><path d="M75.46 52.64L75.17 50.62L76.86 51.37L77.55 50.7L78.4 50.29L78.85 49.26L79.91 49.14L81.14 49.34L81.45 48.06L82.41 47.81L82.57 46.25L83.37 45.74L84.63 46.02L85.28 45.24L86.54 45.57L87.27 44.95" fill="none" stroke="#16e38f" stroke-width="0.5" stroke-linejoin="round"/><path d="M88.81 44.34L89.58 43.79L89.95 42.44L91.16 42.77L91.93 42.22L92.53 41.28L93.31 40.72L94.14 40.25L95.44 40.89L96.06 39.95L96.66 38.94L97.94 39.6" fill="none" stroke="#16e38f" stroke-width="0.5" stroke-linejoin="round"/><path d="M99.91 40.12L100.27 38.46L101.42 38.95L102.41 39.01L102.78 37.25L103.63 36.91L104.77 37.41" fill="none" stroke="#16e38f" stroke-width="0.5" stroke-linejoin="round"/><path d="M105.99 35.75L107.2 36.14L108.04 35.25L109.37 36.16" fill="none" stroke="#16e38f" stroke-width="0.5" stroke-linejoin="round"/><path d="M111.08 36.19L111.54 34.17L112.64 34.75L113.59 34.75L114.47 34.4L115.27 33.69L116.34 34.27L116.99 32.68L118.1 33.53L119.16 34.19L119.92 33.08L120.9 33.33L121.63 31.9L122.73 32.94L123.8 34L124.69 33.69L125.48 32.39L126.55 33.67L127.35 32.35L128.34 33L129.15 31.45L130.17 32.58L131.06 31.89L132.01 32.29L132.96 32.67L133.84 31.24L134.81 32.76L135.72 31.57L136.66 32.65L137.6 30.91L138.52 32.08L139.45 32.1L140.36 32.88L141.3 32.51L142.25 31.96" fill="none" stroke="#16e38f" stroke-width="0.5" stroke-linejoin="round"/><path d="M143.89 32.36L144.86 37.05L146.55 32.57" fill="none" stroke="#16e38f" stroke-width="0.5" stroke-linejoin="round"/>
<path d="M34.28 145.12L41.01 144.62M203.83 59.12L198.92 64.87M139.42 240.47L139.31 236.03M220.54 197.75L213.8 192.88M116.11 36.64L117.05 41.19M34.7 149.51L42.65 148.58M229.42 92.02L222.2 95.58M180.22 44.01L176.34 52.42M131.34 240.34L131.74 233.1M101.13 234.05L103.74 227.01M143.85 34.73L143.47 40.43M52.5 196.4L57.84 192.68M105.9 235.69L107.63 230.26M125.61 35.13L126.13 39.8M36.11 158.22L43.26 156.75M230.67 180.34L224.13 177.34M119.57 35.99L120.82 43.25M204.91 214.94L200.14 209.49M217.61 73.38L214.47 75.87M140.4 34.56L140.19 40.71M90.98 45.35L94.6 52.6M70.89 216.49L75.66 210.79M239.83 131.52L231.43 132.01M205.68 60.74L202.44 64.36M36.34 115.68L40.74 116.64M168.53 39.44L166.79 44.85M228.96 183.9L223.65 181.22M105.82 235.67L108.17 228.27M118.73 36.13L120.41 45.48M34.03 139.95L38.83 139.84M130.45 240.29L130.85 234.06M133.6 34.56L133.87 42.76M62.13 208.24L66.07 204.52M208.06 212.07L204.2 208.02" stroke="#16e38f" stroke-width="0.7" stroke-opacity="0.55"/>
<path d="M137 59.2A78.3 78.3 0 1 1 136.99 59.2" stroke="#f52aa6" stroke-width="18" fill="none" stroke-opacity="0.12"/>
<path d="M137 59.2A78.3 78.3 0 1 1 136.99 59.2" stroke="#f52aa6" stroke-width="7" fill="none" stroke-opacity="0.45"/>
<path d="M146.89 52.14L146.74 59.81L145.08 67.73L145.29 59.64ZM148.3 51.8L148.08 59.99L146.22 67.52L146.38 59.76ZM149.82 53.85L149.76 60.25L147.42 69.54L147.97 59.97ZM151.48 52.82L150.84 60.43L148.95 67.6L149.55 60.21ZM153.68 51.16L152.65 60.78L150.4 68.13L151.05 60.47ZM154.98 52L154.04 61.08L151.84 66.94L152.19 60.69ZM156.64 54.18L155.91 61.52L153.08 69.27L154.01 61.07ZM158.44 52.53L157.08 61.82L154.88 66.64L155.24 61.35ZM159.85 53.15L158.15 62.11L156.01 67.34L156.8 61.74ZM160.87 57.16L160.08 62.68L157.36 68.94L158.51 62.21ZM162.68 55.88L161.47 63.12L158.86 68L159.52 62.51ZM164.67 55.26L162.85 63.59L159.66 70.16L161.08 63ZM166.48 55.55L164.21 64.08L161.55 69.23L162.79 63.57ZM167.43 57.17L165.42 64.54L162.54 70.06L164.04 64.02ZM168.6 58.37L166.81 65.1L164.15 69.51L165.26 64.48ZM169.78 60.61L168.36 65.76L165.4 70.89L167.05 65.2ZM171.87 60.07L169.72 66.37L166.6 71.77L168.57 65.85ZM173.63 59.16L170.87 66.9L166.23 74.99L169.46 66.25ZM175.57 59.23L172.16 67.54L168.03 74.52L171.06 67ZM176.46 61.64L173.77 68.37L169.98 74.1L172.49 67.7ZM177.88 62.59L175.16 69.13L170.56 76L173.85 68.41ZM179.31 63.52L176.46 69.87L171.96 76.38L175.29 69.2ZM181.91 61.64L177.64 70.57L172.53 77.49L176.13 69.68ZM181.88 65.37L179 71.42L175.54 75.56L177.72 70.62ZM185.51 66.75L181.78 73.27L175.91 80.76L180.78 72.58ZM186.98 67.19L183.14 74.24L178.13 79.64L181.59 73.14ZM188.01 69.04L184.41 75.19L179.38 80.62L183.16 74.25ZM189.52 69.7L185.64 76.14L180.32 81.58L184.25 75.06ZM191.18 69.43L186.45 76.79L181.4 81.72L185.07 75.69ZM192.25 71.5L187.75 77.88L181.58 84.24L186.76 77.05ZM192.43 73.85L188.9 78.87L184.89 82.51L187.94 78.04ZM193.08 75.31L189.89 79.76L183.56 85.86L188.97 78.93ZM196.24 74.19L190.95 80.75L184.66 86.58L190.05 79.91ZM197.53 75.35L192.36 82.12L186.68 86.49L190.89 80.7ZM198.95 75.87L193.03 82.8L185.87 88.88L191.99 81.76ZM199.42 78.5L194.39 84.24L190.25 87.17L193.41 83.2ZM199.27 80.22L195.27 85.2L189.8 88.94L193.97 83.79ZM201.53 80.53L196.1 86.14L190.03 90.68L195.29 85.22ZM201.81 82.78L197.44 87.72L189.7 93.01L196.21 86.26ZM202.36 83.81L198.02 88.43L192.86 91.61L196.97 87.16ZM204.01 84.93L199.12 89.84L192.84 93.69L198.08 88.51ZM204.86 86.1L200 91.01L192.23 95.66L198.81 89.44ZM206.64 86.91L200.83 92.15L196.1 94.57L199.86 90.82ZM207 88.68L201.63 93.29L194.8 97.18L200.81 92.12ZM209.67 89.16L202.71 94.92L196.82 97.71L201.67 93.36ZM209.81 91.24L203.5 96.17L196.95 99.41L202.66 94.85ZM211.72 91.61L204.17 97.27L199.22 99.29L203.27 95.79ZM212.91 93.75L205.17 98.99L200.2 101.08L204.5 97.82ZM214.06 95.19L206.02 100.53L198.79 103.57L205.24 99.11ZM213.6 96.96L206.52 101.48L198.8 104.79L205.88 100.27ZM215.29 98.43L207.36 103.15L201.94 105.1L206.75 101.93ZM212.65 101.45L208.11 104.72L202.74 106.17L207.25 102.92ZM214.62 101.94L208.59 105.78L200.64 108.34L207.77 104ZM216.47 102.77L209.1 106.96L203.46 108.46L208.39 105.33ZM214.21 105.67L209.65 108.3L200.9 111.16L209.12 107.02ZM217.38 106.34L210.24 109.82L203.86 111.58L209.77 108.58ZM219.58 107.5L210.82 111.38L204.37 113.02L210.37 110.14ZM219.51 108.98L211.2 112.5L201.65 115.15L210.8 111.35ZM218.01 111.11L211.7 114.03L203.65 115.79L211.19 112.46ZM217.22 113.39L212.21 115.71L204.98 117.07L211.76 114.22ZM220.51 114.21L212.59 117.09L207.05 117.96L212.25 115.84ZM222.14 115.58L213.03 118.77L203.16 120.47L212.62 117.19ZM219.44 117.83L213.34 120.11L206.61 120.89L212.97 118.54ZM222.88 118.55L213.66 121.57L208.12 121.81L213.25 119.69ZM221.55 120.27L213.85 122.51L206.17 123.4L213.59 121.23ZM220.35 122.67L214.21 124.47L204.77 125.44L213.97 123.11ZM223.82 123.6L214.47 126.11L209.22 125.94L214.15 124.13ZM221.2 125.7L214.63 127.25L204.91 127.99L214.45 126.03ZM221.32 127.06L214.81 128.78L207.51 128.77L214.59 126.98ZM220.74 128.79L214.94 130.02L205.99 130.33L214.81 128.78ZM220.62 132.37L215.2 133.55L207.41 133.18L215.1 131.86ZM222.52 133.72L215.25 134.68L210.06 134.27L215.19 133.4ZM223.51 135.38L215.29 136.32L209.62 135.72L215.25 134.83ZM222.17 136.77L215.3 137.5L206.98 136.9L215.29 136.16ZM225 138.89L215.27 139.7L208.63 138.63L215.3 137.77ZM222.66 140L215.23 140.75L209.52 139.62L215.29 138.82ZM220.77 141.84L215.16 142.19L207.72 141.16L215.23 140.91ZM222.42 143.57L215.04 143.86L209.3 142.64L215.16 142.24ZM221.8 145.07L214.93 145.14L209.02 143.93L215.05 143.78ZM220.41 146.86L214.72 147.04L208.65 145.54L214.9 145.43ZM224 149.01L214.51 148.56L209.59 147.1L214.73 146.97ZM223.29 150.43L214.33 149.79L206.67 147.94L214.54 148.42ZM222.87 151.77L214.14 150.93L208.55 149.39L214.34 149.73ZM220.83 153.1L213.79 152.78L206.52 150.44L214.15 150.87ZM219.01 154.35L213.52 154.09L205.97 151.67L213.86 152.43ZM222.11 156.58L213.25 155.31L205.06 152.76L213.55 153.95ZM220.83 157.97L212.86 156.91L203.43 153.72L213.26 155.24ZM220.82 159.89L212.4 158.61L203.88 155.36L212.89 156.8ZM220.81 164.01L211.42 161.84L206.84 159.59L211.88 160.38ZM218 164.35L211.03 163L206.16 160.43L211.6 161.28ZM218.73 166.42L210.6 164.23L205.39 161.7L211.03 163ZM215.91 167.12L209.94 165.96L204.6 162.87L210.65 164.07ZM219.01 170.2L209.43 167.25L201.41 163.18L210.03 165.75ZM217.29 171.51L208.76 168.83L200.31 164.32L209.43 167.24ZM213.95 171.91L208.09 170.31L201.06 166.15L208.85 168.61ZM212.93 172.86L207.7 171.16L200.19 166.93L208.26 169.96ZM216.04 176.47L206.94 172.71L199.73 168.43L207.51 171.54ZM214.62 177.76L206.08 174.36L197.91 169.09L206.92 172.74ZM213.96 179.06L205.52 175.39L197.97 170.43L206.26 174.02ZM213.02 180.67L204.73 176.79L197.33 171.76L205.44 175.54ZM212.74 182.51L203.98 178.06L197.73 173.59L204.64 176.95ZM212.14 183.58L203.25 179.24L196.13 173.76L204.24 177.62ZM208.07 183.14L202.51 180.39L197.85 176.57L203.26 179.22ZM208.18 185.34L201.48 181.92L194.07 175.85L202.48 180.43ZM207.6 188.72L199.79 184.28L193.12 178.21L200.96 182.67ZM207.01 189.87L199.17 185.1L194.07 180.19L200.22 183.7ZM205.83 191.5L198.01 186.58L193.33 181.7L199.18 185.08ZM204.66 192.62L197.32 187.42L193.81 183.78L198.08 186.49ZM201.01 191.66L196.22 188.72L189.86 182.22L197.32 187.42ZM201.36 193.92L195.38 189.68L190.86 184.72L196.36 188.56ZM201.66 196.49L194.42 190.74L188.86 184.82L195.27 189.8ZM198.37 195.81L193.15 192.07L187.59 185.58L194.36 190.8ZM199.03 198.98L192.18 193.05L188.64 188.67L193.05 192.18ZM198.1 200.02L191.01 194.19L187.59 189.26L192.44 192.79ZM195.02 199.77L189.74 195.37L186.2 190.31L190.99 194.2ZM195.78 202.68L188.69 196.31L184.77 190.47L190.18 194.97ZM193.41 202.2L187.74 197.14L181.92 189.02L189.17 195.89ZM191.14 201.87L186.89 197.85L182.49 191.58L187.91 196.99ZM191.94 206.28L185.32 199.11L181.33 193L186.41 198.24ZM188.94 204.86L184.04 200.09L181.45 195.15L185.57 198.92ZM187.92 206.64L182.64 201.12L179.35 195.01L184.21 199.96ZM184.93 206.09L181.02 202.25L177.2 195.03L182.67 201.1ZM184.3 208.25L179.89 203.01L175.9 195.69L181.14 202.17ZM183.22 209.92L178.44 203.94L174.61 196.44L179.8 203.07ZM181.88 209.83L177.47 204.53L173.07 195.64L179.09 203.53ZM181.08 212.18L176.01 205.39L172.84 198.22L177.58 204.46ZM179.97 214.01L174.81 206.07L171.11 198.23L175.87 205.47ZM177.05 212.39L173.06 207L171.24 201.54L174.78 206.08ZM175.41 212.23L172.24 207.42L169.16 200.08L173.34 206.86ZM174.48 214.08L170.77 208.14L167.58 199.98L172.06 207.51ZM173.84 216.44L169.41 208.78L167.39 202.6L170.82 208.12ZM172.6 218.19L167.8 209.49L165.28 201.59L169.41 208.78ZM169.95 216.07L166.46 210.05L163.49 200.66L168.1 209.36ZM168.33 216.18L165.09 210.59L163.82 204.85L166.85 209.89ZM168 219.08L164.05 210.98L162.42 204.4L165.57 210.4ZM166.19 220.18L162.44 211.55L161.13 205.85L163.7 211.11ZM163.99 217.95L161.18 211.97L160.23 206.74L162.62 211.49ZM161.84 222.04L158.11 212.9L157.4 206.93L160.02 212.34ZM159.12 218.83L156.93 213.22L155.82 206.68L158.17 212.88ZM157.67 219.54L155.16 213.67L154.43 206.67L157.11 213.17ZM155.77 220.03L153.6 214.02L153.03 207.98L155.13 213.67ZM154.85 223.14L152.27 214.3L151.31 206.14L153.69 214ZM152.77 220.07L150.87 214.56L150.04 205.78L152.51 214.25ZM151.75 222.89L149.59 214.78L148.84 206.02L151.07 214.53ZM150.29 224.38L147.99 215.03L147.68 207.34L149.69 214.76ZM148.35 221.33L146.56 215.21L146.32 206.32L148.44 214.96ZM146.33 223.13L144.78 215.41L144.75 208.61L146.18 215.26ZM144.79 221.66L143.31 215.55L143.73 210.14L145.13 215.38ZM143.17 223.97L141.93 215.64L142.07 208.56L143.21 215.55ZM141.31 222.23L140.11 215.74L140.56 207.49L141.84 215.65ZM140.13 224.2L138.83 215.78L139.5 206.88L140.82 215.71ZM135.67 222.5L135.03 215.78L135.88 208.83L136.51 215.8ZM134.24 221.68L133.62 215.73L134.74 206.4L135.25 215.78ZM132.77 224.04L132.44 215.67L133.64 206.21L133.91 215.74ZM131.08 220.92L130.5 215.53L131.96 208.56L132.41 215.67ZM129.28 223.79L129.19 215.41L130.72 207.63L130.86 215.56ZM127.59 221.64L127.35 215.2L129.32 206.15L129.25 215.42ZM126.08 220.84L126.03 215.03L127.92 206.85L127.63 215.24ZM123.94 224.31L124.42 214.78L126.76 205.54L126.29 215.06ZM122.89 222.89L123.35 214.6L125.76 205.48L125.12 214.89ZM121.11 222.85L122.06 214.36L124.15 206.55L123.28 214.59ZM119.58 222.04L120.53 214.05L123.04 205.26L121.87 214.32ZM118.13 219.78L118.52 213.59L120.72 208.49L120.48 214.04ZM115.84 222.21L117.42 213.31L119.67 206.87L118.63 213.62ZM114.63 222.08L116.14 212.97L118.67 206.79L117.81 213.41ZM113.94 218.27L114.75 212.57L117.25 206.66L116.25 213ZM110.3 220.65L112.45 211.85L114.65 207.1L113.67 212.24ZM109.95 217.47L111.22 211.43L114.52 203.95L112.61 211.9ZM107.56 218.46L109.6 210.85L112.32 205.36L110.89 211.32ZM105.69 219.2L108.41 210.4L112.22 202.17L109.55 210.83ZM104.27 218.31L106.89 209.78L109.53 205.31L108.32 210.36ZM104 214.33L105.32 209.11L109.31 201.96L106.87 209.77ZM101.92 215.25L104.17 208.58L107.91 201.98L105.43 209.15ZM99.3 216.62L102.42 207.75L107.61 199.18L104.23 208.61ZM99.43 213.69L101.65 207.37L106.76 198.82L103.08 208.07ZM98.07 211.9L99.91 206.46L104.07 200.44L101.5 207.29ZM96.17 212.7L98.97 205.94L102.84 200.42L100.31 206.67ZM94.85 210.98L97.34 205.01L101.01 200.24L98.75 205.82ZM93.07 210.84L96.19 204.32L99.84 199.53L97.35 205.02ZM92.13 209.26L94.64 203.35L99.62 197.28L96.35 204.42ZM89.33 210.32L93.36 202.51L99.45 194.86L94.87 203.5ZM89.61 206.39L91.83 201.46L96.04 197.04L93.42 202.55ZM86.24 208.05L90.67 200.62L96.03 194.44L91.88 201.49ZM86.2 204.55L89.14 199.47L94.64 193.4L90.29 200.34ZM85.61 203.34L88.06 198.62L92.44 194.6L89.6 199.82ZM82.1 205.4L87.28 197.98L92.35 192.73L88.27 198.79ZM82.72 201.7L85.67 196.63L92.18 190.51L87.22 197.94ZM79 203.49L84.6 195.68L91.23 189.57L86.02 196.93ZM80.34 199.44L83.56 194.72L87.89 191.18L84.75 195.82ZM79.14 198.87L82.58 193.8L87.58 189.92L84.01 195.14ZM75.77 199.1L81.25 192.48L88.66 186.13L82.36 193.58ZM74.6 198.07L80.16 191.35L85.78 187.22L81.48 192.72ZM75.21 193.46L78.46 189.5L83.46 185.99L79.47 190.62ZM74.08 192.16L77.37 188.25L84.8 182.85L78.41 189.44ZM73.02 191.18L76.61 187.34L84.25 181.75L77.42 188.3ZM70.77 190.64L75.43 185.87L82.26 181.42L76.43 187.12ZM68.77 190.66L74.64 184.85L79.99 181.92L75.84 186.4ZM68.66 188.4L73.82 183.74L78.63 180.97L74.59 184.79ZM68.44 186.55L72.82 182.35L79.24 178.82L73.83 183.76ZM65.62 186.95L72.12 181.34L78.55 177.99L73.15 182.82ZM67.29 183.58L71.2 179.94L77.82 176.62L72.17 181.41ZM63.54 183.87L70.32 178.54L76.03 175.98L71.26 180.04ZM63.61 181.68L69.48 177.15L74.81 174.94L70.36 178.61ZM64.53 179.2L68.79 175.95L74.5 173.46L69.48 177.15ZM60.01 178.54L67.48 173.53L75.95 170.04L68.34 175.13ZM62.49 175.16L66.7 171.98L72 170.35L67.55 173.65ZM61.98 174.15L66.22 170.98L71.36 169.57L67.09 172.76ZM60.29 172.68L65.47 169.35L73.43 166.66L66.19 170.93ZM56.63 173.08L65.16 168.65L71.18 166.64L65.65 169.75ZM56.5 170.72L64.28 166.54L69.72 165.26L64.97 168.19ZM58.72 168.62L63.94 165.67L72.64 163.09L64.54 167.18ZM58.36 166.54L63.21 163.69L71.93 161.53L63.89 165.54ZM58.38 165.05L62.8 162.5L71.84 160.34L63.42 164.29ZM55.48 164.3L62.33 161.07L70.31 159.43L62.91 162.84ZM57.02 162.14L61.96 159.87L67.21 159L62.39 161.24ZM56.51 159.1L61.14 156.88L69.8 155.53L61.63 158.71ZM52.19 158.46L60.78 155.44L68.06 154.54L61.2 157.13ZM54.76 156.17L60.43 153.85L67.61 153.25L60.87 155.82ZM52.76 154.95L60.15 152.49L66.95 152.01L60.52 154.26ZM50.95 153.6L59.9 151.16L69.12 150.2L60.18 152.64ZM53.34 151.47L59.63 149.56L68.46 148.95L59.91 151.24ZM49.76 150.45L59.46 148.38L68.3 147.7L59.64 149.62ZM53.77 147.85L59.2 146.35L67.7 146.12L59.4 147.97ZM51.89 146.42L59.04 144.8L66.13 144.93L59.22 146.53ZM49.43 144.86L58.9 143.08L67.61 143.33L59.06 145.04ZM49.73 143.67L58.84 142.14L67.46 142.42L58.96 143.9ZM51.6 140.57L58.72 139.32L68.14 139.97L58.79 141.31ZM51.5 138.88L58.7 138.05L67.24 138.63L58.73 139.49ZM51.96 137.35L58.71 136.58L65.32 137.37L58.7 138.15ZM48.83 135.09L58.76 134.44L67 135.59L58.71 136.28ZM49.6 133.56L58.81 133.26L68.74 134.42L58.75 134.68ZM52.6 132.54L58.88 132.22L65.88 133.32L58.8 133.6ZM49.55 130.47L59.03 130.31L68.53 132L58.88 132.15ZM50.29 128.55L59.2 128.64L68.51 130.43L59.03 130.27ZM53.76 127.6L59.35 127.4L68.31 129.33L59.15 129.11ZM52.73 125.41L59.59 125.72L67.1 127.47L59.4 127.04ZM51.93 121.54L60.19 122.31L67.6 124.48L59.9 123.82ZM50.97 119.63L60.47 120.95L68.61 123.29L60.21 122.19ZM54.74 118.8L60.78 119.56L66.92 121.57L60.52 120.73ZM54.89 117.12L61.17 117.99L69.33 120.7L60.85 119.29ZM54.39 115.51L61.57 116.48L69.49 119.53L61.11 118.24ZM53.23 113.77L61.83 115.58L67.67 117.86L61.5 116.75ZM54 112.26L62.39 113.76L67.87 116.48L61.8 115.68ZM54.8 110.5L62.88 112.26L70.17 115.55L62.35 113.87ZM54.96 109.22L63.18 111.39L69.14 114.1L62.77 112.57ZM58.73 108.77L63.72 109.92L69.89 112.87L63.28 111.13ZM55.62 103.64L65.07 106.57L72.5 110.66L64.36 108.27ZM59.91 103.66L65.62 105.32L70.34 108.23L65 106.73ZM58.37 100.86L66.3 103.85L72.58 107.48L65.76 105ZM58.03 98.76L66.97 102.47L72.73 105.97L66.44 103.56ZM59.25 97.48L67.82 100.83L72.83 104.47L66.96 102.5ZM60.46 96.87L68.16 100.19L73.48 103.78L67.53 101.38ZM60.45 94.46L69.17 98.39L73.8 101.96L68.34 99.86ZM62.16 93.91L69.66 97.54L74.44 101.06L69.02 98.64ZM61.82 91.36L70.71 95.83L76.16 100.16L69.83 97.26ZM66.99 91.77L71.8 94.14L75.69 97.46L71.09 95.23ZM64.11 87.98L72.6 92.96L77.87 97.33L71.87 94.04ZM65.65 87.3L73.44 91.78L78.08 96.04L72.5 93.11ZM69.52 87.72L74.42 90.44L79.01 94.72L73.57 91.59ZM69.19 85.91L75.1 89.55L81.71 95.43L74.28 90.63ZM70.88 85.05L76.2 88.16L81.08 93.14L75.12 89.52ZM70.79 83.15L77.04 87.14L83.71 93.75L75.93 88.5ZM70.45 80.72L77.95 86.09L82.13 90.68L76.93 87.27ZM74.54 81.52L79.12 84.77L84.13 90.11L78.27 85.71ZM75.38 80.58L79.96 83.86L84.92 89.39L79.02 84.88ZM76.93 78.94L81.49 82.28L84.76 86.57L80.38 83.41ZM75.05 75.02L82.36 81.42L87.34 87.42L81.38 82.39ZM77.31 74.18L84.03 79.84L88.65 86.21L82.57 81.22ZM78.19 72.59L85.03 78.93L88.15 83.59L83.82 80.03ZM81.43 73.84L86.03 78.06L89.36 82.92L85 78.96ZM83.2 73.36L87.29 77.01L90.74 82.36L86.07 78.02ZM82.16 70.02L88.19 76.28L91 80.91L87.05 77.2ZM85.03 71.09L89.26 75.44L93.87 82.38L88.24 76.24ZM83.87 67.07L90.33 74.63L94.31 80.9L89.37 75.35ZM87.44 67.37L92.56 73.03L94.77 77.74L91.07 74.08ZM88.75 66.33L93.77 72.22L96.52 77.8L92.36 73.17ZM89.98 64.83L95.3 71.23L97.57 76.57L93.63 72.31ZM90.9 63.72L96.34 70.58L100.43 78.97L94.68 71.62ZM93.88 65.17L97.75 69.75L100.05 75.51L96.07 70.75ZM95.21 64.97L98.59 69.27L100.95 74.93L97.24 70.05ZM96.87 63.7L100.34 68.31L102.44 73.95L98.85 69.12ZM98.89 61.18L102.92 67.01L105.77 74.96L101.13 67.9ZM101.01 61.08L104.55 66.24L106.79 73.34L102.74 67.09ZM102.02 59.2L105.69 65.73L109.13 75.1L104.44 66.29ZM103.09 56.87L107.38 65.02L108.98 70.86L105.92 65.63ZM105.36 59.22L108.37 64.62L111.33 74L106.95 65.2ZM106.62 56.36L110.16 63.94L111.34 68.96L108.92 64.41ZM108.06 54.99L111.75 63.38L112.74 68.33L110.42 63.85ZM110.29 56.2L113.19 62.91L115 70.53L111.94 63.32ZM112.69 57.2L114.94 62.37L117.16 71.94L113.69 62.75ZM114.16 54.68L116.78 61.86L118.28 69.64L115.59 62.19ZM116.48 55.9L118.65 61.38L119.84 69.25L117.16 61.75ZM117.51 51.95L120.58 60.94L121.45 69.26L118.63 61.39ZM119.49 54.69L121.41 60.77L122.81 70.39L120.2 61.02ZM120.22 51.24L122.75 60.51L123.1 66.06L121.34 60.78ZM122.96 53.93L124.79 60.16L125.65 69.98L123.26 60.41ZM124.34 52.49L126.33 59.93L126.83 69.2L124.6 60.19ZM125.61 52.39L127.49 59.78L127.36 65.43L125.75 60.01ZM127.64 51.78L129.5 59.56L129.47 68.62L127.5 59.78ZM129.45 53.58L130.82 59.44L130.47 64.87L129.16 59.59ZM130.65 53.53L131.79 59.37L131.74 67.86L130.41 59.48ZM132.49 52.49L133.47 59.28L133.25 66.92L132.22 59.35ZM133.92 50.55L135.1 59.22L134.51 67.37L133.34 59.29ZM135.58 50.21L136.61 59.2L135.81 64.26L134.84 59.23ZM137.05 50.65L138.05 59.21L137.04 67.44L136.05 59.21ZM138.89 50.29L139.7 59.25L138.57 65.38L137.7 59.2ZM140.79 53.25L141.49 59.33L140.2 66.32L139.54 59.24ZM143.18 50.74L143.48 59.47L142.08 66.18L141.65 59.34ZM144.28 53.88L144.5 59.56L143.26 65.59L143.09 59.44Z" fill="#f52aa6"/>
<path d="M137 83.5A54 54 0 1 1 136.99 83.5" stroke="#16e38f" stroke-width="16" fill="none" stroke-opacity="0.12"/>
<path d="M137 83.5A54 54 0 1 1 136.99 83.5" stroke="#16e38f" stroke-width="6.5" fill="none" stroke-opacity="0.45"/>
<path d="M143.29 78.75L143.37 83.88L142.08 90.02L142.12 83.74ZM145.28 77.06L145.06 84.11L143.17 92.47L143.59 83.9ZM146.77 76.75L146.36 84.32L144.56 90.48L144.78 84.06ZM147.89 79.95L147.78 84.59L145.66 91.72L146.3 84.31ZM150.81 76.4L149.75 85.03L147.19 92.43L148.06 84.64ZM152.24 78.2L151.1 85.37L148.57 92.49L149.78 85.03ZM153.57 77.97L152.38 85.74L149.92 91.06L150.57 85.23ZM155.41 79.25L154.07 86.27L150.81 93.78L152.46 85.76ZM156.24 81.35L155.35 86.71L153.02 90.73L153.64 86.13ZM157.57 81.49L156.24 87.04L153.96 91.32L154.99 86.58ZM159.94 80.45L157.8 87.67L155.46 91.59L156.48 87.14ZM161.41 80.99L159 88.18L154.94 95.95L157.82 87.67ZM163.45 80.85L160.51 88.89L156.18 96.43L159.18 88.26ZM164.38 83.28L162.05 89.66L158.69 94.54L160.63 88.94ZM165.15 84.95L163.08 90.21L160.26 94.07L161.91 89.59ZM166.58 86.58L164.74 91.17L160.52 97.02L163.51 90.46ZM169.36 84.73L165.91 91.89L161.24 97.98L164.54 91.05ZM171.73 85.55L167.56 92.98L163.17 98.35L166.46 92.24ZM172.94 87.62L169.13 94.1L164.97 98.69L168.01 93.29ZM174.25 88.03L170.15 94.87L164.7 100.71L168.8 93.86ZM174.35 91.41L171.71 96.14L166.25 101.41L170.27 94.96ZM175.65 92.27L172.72 97L168.9 100.18L171.45 95.91ZM176.59 93.63L173.65 97.84L169.61 101.36L172.7 96.98ZM179.1 93.05L174.69 98.83L170.33 102.31L173.57 97.77ZM179.91 94.43L175.75 99.89L169.74 104.64L174.47 98.61ZM180.39 96.86L177.01 101.24L172.21 104.51L175.8 99.94ZM182.57 96.73L177.73 102.04L171 107.08L176.76 100.96ZM183.82 97.86L178.66 103.14L173.92 106.24L177.76 102.08ZM185.51 99.18L179.99 104.82L173.05 109.02L178.75 103.25ZM186.47 100.26L180.68 105.75L175.48 108.53L179.6 104.31ZM184.81 103.37L181.31 106.63L175.16 110.26L180.59 105.63ZM187.69 104.09L182.61 108.59L177.78 110.61L181.55 106.98ZM188.12 105.16L183.06 109.32L178.11 111.49L182.2 107.95ZM189.43 108.2L184.58 111.97L177.52 114.85L183.68 110.35ZM189.2 110.09L185.18 113.11L180.56 114.63L184.43 111.69ZM190.46 111.18L185.76 114.3L178.83 116.9L185.12 112.99ZM192.2 112.61L186.53 115.99L179.33 118.41L185.91 114.62ZM192.79 114.3L187.18 117.56L179.02 120.03L186.53 115.98ZM191.97 116.21L187.61 118.66L181.33 120.33L187.09 117.33ZM192.33 118.01L188.14 120.17L179.71 122.45L187.71 118.94ZM194.47 118.6L188.49 121.22L181.49 122.87L188.1 120.04ZM196.18 119.94L188.94 122.74L181.28 124.36L188.59 121.53ZM195.25 122.33L189.41 124.48L184.51 125.12L189.1 123.29ZM195.08 123.52L189.65 125.48L181.91 126.69L189.35 124.24ZM194.58 125.58L190.06 127.49L184.78 127.61L189.68 125.63ZM195.34 127.26L190.32 128.93L185.02 129.07L190.05 127.4ZM196.26 128.44L190.52 130.34L185.41 130.1L190.22 128.34ZM195.59 130.53L190.73 132.09L185.04 131.78L190.5 130.15ZM199.15 132L190.86 133.59L184.28 133.32L190.71 131.89ZM197.38 133.66L190.93 134.72L183.33 134.55L190.85 133.42ZM196.28 134.96L190.98 136.13L182.34 135.56L190.9 134.25ZM196.95 136.7L191 137.58L185.43 136.85L190.98 135.99ZM199.75 138.83L190.97 139.37L185.85 138.53L191 137.91ZM196.19 140.06L190.92 140.51L183.25 139.5L190.97 139.16ZM197.12 142.12L190.77 142.48L182.83 141.03L190.9 140.8ZM195.24 143.44L190.61 143.95L182.98 142.19L190.81 142.01ZM199.05 145.75L190.4 145.55L184.67 143.84L190.65 143.68ZM195.93 146.69L190.24 146.55L184.35 144.88L190.47 145.08ZM196.15 148.31L189.93 148.17L185.23 146.32L190.29 146.24ZM195.87 150.41L189.54 149.96L182.68 147.52L189.93 148.17ZM194.8 151.82L189.16 151.47L181.21 148.45L189.65 149.49ZM196.39 153.98L188.84 152.61L181.57 149.87L189.22 151.26ZM194.3 155.74L188.2 154.67L180.73 151.42L188.7 153.1ZM193.55 157.4L187.61 156.32L180.36 152.76L188.25 154.52ZM195.08 159.62L187.1 157.64L179.73 153.77L187.81 155.79ZM193.89 161.38L186.55 158.96L179.96 155.53L187.03 157.83ZM193.76 163.05L185.93 160.34L179.99 156.85L186.54 158.99ZM192.56 164.71L185.19 161.86L178.44 157.79L185.8 160.63ZM190.34 164.9L184.69 162.82L180.08 159.63L185.36 161.52ZM188.33 165.79L183.99 164.11L177.35 159.74L184.59 163.02ZM187.69 167.28L183.15 165.53L176.93 160.96L183.96 164.17ZM187.79 169.87L182.14 167.13L175.83 162.25L182.93 165.9ZM187.88 171.55L181.33 168.34L174.94 162.89L182.41 166.72ZM185 173.23L179.93 170.26L173.69 164.81L180.7 169.23ZM184.94 175.26L178.92 171.54L173.09 165.92L179.91 170.28ZM183.25 176.18L177.98 172.66L172.07 166.83L178.86 171.62ZM181.85 177.44L176.73 174.07L172.8 169.38L177.92 172.74ZM180.4 177.53L176.11 174.73L170.5 168.4L177.26 173.49ZM180.03 179.83L175.05 175.82L170.09 170.05L175.94 174.91ZM178.93 181.46L173.73 177.08L168.73 170.76L174.81 176.05ZM176.82 181.65L172.65 178.06L168.01 171.88L173.68 177.13ZM177.62 184.74L171.63 178.93L166.49 171.8L172.78 177.95ZM175.94 185.17L170.6 179.77L165.79 172.74L171.72 178.86ZM173.61 184.93L169.34 180.75L165.32 174.19L170.65 179.73ZM171.82 188.04L166.79 182.54L164.73 177.76L168.47 181.38ZM170.59 188.32L165.95 183.08L162.41 175.94L167.59 182ZM168.75 189.44L164.52 183.96L161.11 176.95L165.8 183.18ZM168.6 191.39L163.61 184.49L161.58 179.43L165.01 183.67ZM166.47 192.46L161.8 185.47L158.56 177.71L163.23 184.7ZM165.5 193.14L160.85 185.95L158.47 179.41L162.38 185.16ZM163.42 193.54L159.39 186.64L157.33 180.63L160.66 186.04ZM161 192.15L157.98 187.26L156.17 181.17L159.43 186.62ZM159.28 192.02L156.59 187.82L155.71 183.3L158.25 187.14ZM158.8 195.24L155.31 188.3L154.13 182.86L156.83 187.73ZM155.98 193.63L153.65 188.87L152.02 181.94L154.94 188.43ZM154.27 196.63L151.28 189.58L149.98 181.92L153 189.08ZM152 195.26L149.97 189.92L148.53 181.92L151.17 189.61ZM151.6 198.33L149 190.15L148.11 183.78L150.21 189.86ZM149.74 198.1L147.33 190.5L146.58 183.09L148.88 190.18ZM147.8 197.79L145.61 190.81L144.97 182L147.43 190.48ZM145.98 196.37L144.38 190.99L144.34 185.59L145.91 190.76ZM144.54 198.19L142.98 191.17L142.94 185.33L144.34 191ZM142.53 196.1L141.27 191.33L141.58 185.95L142.88 191.18ZM140.85 196.66L139.5 191.44L140.08 184.84L141.51 191.31ZM139.23 198.05L138.31 191.48L138.67 182.91L139.67 191.43ZM136.36 196.62L135.52 191.48L136.47 186.27L137.31 191.5ZM134.39 200.1L133.97 191.42L135.01 185.22L135.52 191.48ZM132.81 197.37L132.57 191.32L133.75 183.92L133.89 191.41ZM131.2 199.45L131.01 191.17L132.61 184.33L132.92 191.35ZM129.12 198.63L129.12 190.92L130.87 185.08L131.08 191.17ZM127.87 197.03L127.99 190.74L129.78 184.59L129.63 191ZM125.58 197.78L126.3 190.43L128.37 183.03L127.59 190.67ZM124.29 196.21L124.75 190.09L127.3 182.3L126.4 190.45ZM122.24 197.11L123.22 189.71L125.45 184.13L124.83 190.11ZM121.44 195.69L122.11 189.41L124.42 184.56L124 189.91ZM118.58 193.15L119.27 188.51L121.88 183.17L120.8 189.01ZM116.63 194L117.92 188.02L121.52 180.45L119.46 188.57ZM114.1 195.65L116.53 187.47L119.87 181L117.9 188.01ZM113.22 192.77L115.01 186.82L118.47 180.56L116.31 187.38ZM111.98 192.14L113.63 186.18L117.09 180.99L115.42 187ZM110.17 192.08L112.34 185.54L115.69 180.86L114.03 186.37ZM109.61 189.97L111.41 185.05L115.46 178.75L112.61 185.68ZM108.3 188.77L110.02 184.28L114.51 177.67L111.23 184.95ZM106.56 187.75L108.26 183.21L111.94 178.87L109.8 184.15ZM103.3 190.03L107.02 182.41L112.47 175.74L108.68 183.48ZM102.16 189.36L106.13 181.81L110.43 177.04L107.65 182.82ZM100.95 188.18L104.92 180.94L109.27 176.48L106.49 182.06ZM99.35 186.43L103.59 179.92L108.38 174.69L104.55 180.67ZM100.38 183.43L102.64 179.16L106.48 175.79L104.04 180.28ZM97.46 184.22L101.6 178.28L105.33 174.91L102.63 179.15ZM95.83 182.67L100.07 176.9L105.6 171.95L101.18 177.91ZM93.78 182.93L99.27 176.14L104.17 172.01L100.29 177.1ZM94.53 179.17L97.83 174.67L104.66 169.23L99.08 175.95ZM93.07 177.29L96.37 173.07L100.8 170.29L97.59 174.42ZM92.23 175.55L95.46 172.01L101.02 168.08L96.25 172.94ZM89.96 175.37L94.45 170.75L101.09 166.41L95.44 171.98ZM87.52 175.33L93.64 169.69L99.73 166L94.57 170.9ZM86.03 173.77L92.53 168.13L99.68 164.06L93.49 169.49ZM88.1 170.72L91.84 167.1L96.68 164.89L92.84 168.57ZM87.56 168.8L90.95 165.7L98.09 162.13L91.82 167.07ZM86.83 167.63L90.26 164.54L97.51 161.22L91.16 166.05ZM82.26 165.82L88.58 161.42L94.59 159.43L89.5 163.19ZM80.91 165.06L88.21 160.63L94.95 158.16L88.87 161.99ZM82.62 162.02L87.4 158.85L95.42 156.25L88.16 160.54ZM79.79 161.49L86.92 157.71L95.28 154.99L87.49 159.05ZM79.42 159.84L86.42 156.41L91.9 155L86.9 157.65ZM78.5 158.59L85.88 154.89L92.41 153.58L86.54 156.74ZM81 155.62L85.42 153.5L93.71 151.51L85.83 154.75ZM77.69 154.78L84.93 151.79L91.84 150.66L85.4 153.41ZM76.45 153.04L84.54 150.3L89.42 149.71L84.86 151.54ZM78.78 150.67L84.16 148.65L89.2 148.31L84.51 150.17ZM76.56 149.51L83.87 147.17L89.53 146.93L84.21 148.88ZM78.91 147.38L83.65 145.88L90.29 145.45L83.88 147.23ZM76.33 146.34L83.43 144.31L89.2 144.46L83.71 146.26ZM74.87 144.75L83.27 142.93L92.1 142.74L83.47 144.59ZM75.26 142.95L83.13 141.29L90.94 141.57L83.3 143.21ZM74.47 140.18L83.02 138.9L89.58 139.53L83.1 140.72ZM77.88 138.43L83 137.34L90.43 138.23L83.03 139.37ZM76.18 136.72L83.02 135.94L90.69 136.9L83 137.67ZM76.95 134.6L83.1 134.29L88.63 135.16L83.04 135.5ZM76.62 132.88L83.24 132.41L88.02 133.75L83.09 134.35ZM78.64 131.65L83.37 131.22L89.73 132.76L83.19 133.01ZM75.91 129.33L83.57 129.68L89.4 131.14L83.39 131.01ZM78.59 128.58L83.73 128.68L91.53 130.55L83.52 130.01ZM78.14 126.14L84.13 126.49L89.09 128.26L83.83 128.05ZM76.59 124.11L84.43 125.14L89.72 127.02L84.14 126.49ZM76.49 122.27L84.87 123.43L91.55 126.06L84.42 125.22ZM78.06 120.99L85.22 122.18L91.54 124.77L84.8 123.69ZM80.71 120.07L85.69 120.68L93.47 124.02L85.16 122.37ZM78.51 117.84L86.12 119.4L91.03 122.05L85.52 121.19ZM78.13 116.1L86.56 118.22L94.21 121.94L85.95 119.88ZM81.47 114.15L87.53 115.84L92.03 118.6L86.92 117.31ZM81.85 112.32L88.23 114.32L93.02 117.42L87.54 115.83ZM81.48 110.42L88.9 112.96L94.79 116.91L88.05 114.71ZM84.01 109.19L89.68 111.48L96.98 116.12L89.07 112.63ZM83.81 107.62L90.33 110.33L97.47 115.29L89.52 111.78ZM85.59 106.85L90.95 109.29L94.59 112.22L90.29 110.41ZM85.95 103.73L92.46 106.97L97.74 111.52L91.48 108.45ZM87.73 103.16L93.18 105.95L99.74 111.53L92.23 107.3ZM86.86 100.67L93.99 104.85L99.43 109.9L92.98 106.22ZM89.76 100.84L94.97 103.6L101.19 109.71L93.73 105.19ZM91.71 100.03L95.83 102.55L98.89 105.97L94.96 103.61ZM91.46 97.39L97.06 101.15L100.24 105.12L95.9 102.47ZM92.11 95.55L98.16 99.99L103.75 106.42L96.95 101.28ZM95.58 96.17L99.49 98.65L102.11 102.69L98.07 100.08ZM95.63 94.26L100.23 97.95L104.47 103.5L99.11 99.02ZM95.56 90.87L101.58 96.74L105.8 102.39L100.68 97.54ZM98.81 92.04L102.76 95.74L105.66 100.19L101.78 96.56ZM98.17 88.52L104.09 94.68L106.96 99.61L102.82 95.69ZM100.86 89.74L105.13 93.91L109.64 101.34L103.71 94.98ZM100.44 87.34L105.93 93.33L110.33 100.91L104.46 94.41ZM103.35 88.23L107.27 92.42L109.44 97.15L105.82 93.41ZM103.51 84.61L108.84 91.42L112.8 99.29L107.39 92.34ZM105.49 84.91L109.96 90.76L111.92 95.63L108.54 91.61ZM107.31 85.31L110.87 90.24L114.44 97.84L109.73 90.89ZM110.24 84.76L113.16 89.05L115.74 95.62L111.97 89.65ZM110.91 82.73L114.48 88.42L116.78 95.04L113.09 89.08ZM112.06 82.01L115.58 87.93L116.74 92.41L114.16 88.57ZM114.24 82.51L117.22 87.25L119.31 94.77L115.48 87.98ZM116.34 82.35L118.75 86.68L120.35 93.07L117.37 87.2ZM117.12 78.99L120.53 86.07L121.38 91.54L118.73 86.68ZM120.11 79.23L122.61 85.45L124.33 93.77L121.32 85.83ZM122.26 80.52L124.32 85.01L124.96 90.96L122.64 85.45ZM123.8 78.64L126.15 84.6L126.46 90.49L124.22 85.03ZM125.45 79.08L127.25 84.39L127.53 89.59L125.81 84.67ZM126.69 75.95L128.74 84.14L129.32 91.68L127.42 84.36ZM129.18 79.33L130.67 83.87L130.48 88.96L128.95 84.1ZM130.24 78.71L131.63 83.77L131.65 91L130.02 83.95ZM132.26 77.75L133.63 83.61L133.12 88.59L131.83 83.75ZM133.83 76.89L134.96 83.54L134.46 88.79L133.4 83.62ZM135.66 76.17L136.42 83.5L135.93 88.4L135.23 83.53ZM136.89 78.04L137.53 83.5L136.91 89.71L136.27 83.5ZM138.68 76.07L139.19 83.54L138.24 92.29L137.77 83.51ZM142.12 78.26L142.42 83.77L141.11 89.9L140.87 83.64Z" fill="#16e38f"/>
<path d="M137 102.5A35 35 0 1 1 136.99 102.5" stroke="#f52aa6" stroke-width="3.4" fill="none"/>
<path d="M141.03 103.22L141.7 104.43L140.68 106.18L140.09 104.24ZM141.85 103.28L142.24 104.51L141.44 106.22L141.14 104.36ZM143.17 102.57L143.39 104.72L142.49 106.37L142.22 104.51ZM144.15 102.33L144.18 104.88L143.2 107.03L143.13 104.67ZM145.13 103.28L145.43 105.18L144.44 106.17L144 104.84ZM145.92 103.32L146.15 105.38L144.79 107.66L144.72 105ZM147.16 103.29L146.99 105.63L146.17 106.61L146.02 105.34ZM148.08 103.95L148.17 106.02L146.8 107.83L146.77 105.56ZM148.93 104.61L149.17 106.4L147.66 108.11L147.6 105.83ZM149.88 104.85L149.94 106.71L148.89 107.37L148.56 106.16ZM151.15 104.63L150.93 107.14L149.41 108.67L149.47 106.51ZM152.11 105.32L151.85 107.58L150.69 108.34L150.54 106.97ZM152.54 106.8L152.79 108.07L151.6 108.65L151.37 107.35ZM154.42 106L153.83 108.65L152.44 109.59L152.49 107.91ZM155.27 106.73L154.67 109.15L153.06 110.45L153.44 108.42ZM155.97 107L155.21 109.5L153.64 110.76L154.07 108.79ZM156.83 108.73L156.53 110.4L155.05 111.32L155.38 109.61ZM157.57 109.49L157.3 110.98L155.92 111.74L156.23 110.19ZM158.49 109.79L158 111.53L156.2 112.74L156.93 110.7ZM159.33 110.76L158.99 112.36L156.98 113.58L157.82 111.38ZM160.45 111.21L159.73 113.02L158.3 113.62L158.73 112.13ZM160.91 111.94L160.35 113.62L158.82 114.18L159.27 112.61ZM162.26 112.26L161.03 114.3L159.38 115.15L160.23 113.5ZM162.46 113.3L161.63 114.94L160.07 115.57L160.78 114.05ZM163.5 113.72L162.24 115.62L160.24 116.65L161.47 114.77ZM164.37 114.65L163.09 116.64L161.07 117.4L162.18 115.55ZM164.76 115.36L163.49 117.16L161.99 117.57L162.73 116.2ZM164.68 116.99L164.26 118.2L161.8 119.13L163.4 117.04ZM166.44 116.87L164.7 118.83L162.48 119.64L164 117.84ZM166.01 118.69L165.38 119.89L163.12 120.57L164.66 118.78ZM166.86 119.26L165.88 120.73L164.28 120.84L165.11 119.46ZM168.41 120.41L166.64 122.1L164.24 122.68L166.03 120.98ZM168.09 121.65L167 122.82L164.48 123.49L166.5 121.84ZM168.63 122.86L167.56 124.02L165.06 124.51L167.05 122.92ZM169.82 123.29L167.87 124.74L165.42 125.19L167.42 123.72ZM170.06 124.2L168.28 125.79L166.5 125.63L167.68 124.29ZM170.01 125.57L168.6 126.69L166.87 126.7L168.21 125.6ZM169.69 126.69L168.86 127.48L167.17 127.52L168.55 126.54ZM170.53 127.49L169.21 128.65L166.88 128.58L168.79 127.25ZM171.17 128.27L169.43 129.49L167.99 129.13L169.05 128.09ZM171.43 129.37L169.68 130.6L168.08 130.16L169.32 129.06ZM172.16 130.47L169.88 131.63L168.41 131.22L169.61 130.28ZM171.41 131.58L170.03 132.54L168.87 132.02L169.79 131.13ZM172 132.46L170.14 133.3L168.26 133L169.97 132.19ZM171.69 133.67L170.28 134.63L168.54 134.01L170.1 133.03ZM172.9 135.11L170.36 135.86L168.94 135.37L170.28 134.71ZM172.3 135.86L170.39 136.72L168.76 136.03L170.32 135.19ZM172.7 137.23L170.4 137.91L168.97 137.26L170.39 136.59ZM172.97 138.14L170.38 138.66L169.31 138.07L170.4 137.52ZM172.35 139.38L170.31 139.96L168.11 139.16L170.38 138.59ZM171.92 140.1L170.26 140.56L168.03 139.81L170.35 139.4ZM172.37 141.58L170.12 141.85L168.49 141.13L170.24 140.81ZM171.83 142.16L170.03 142.44L168.78 141.75L170.17 141.41ZM171.06 143.28L169.81 143.74L168.36 142.82L170.03 142.43ZM171.18 144.39L169.57 144.92L167.66 143.68L169.9 143.28ZM170.77 145.36L169.38 145.67L167.76 144.66L169.67 144.46ZM171.55 146.81L169.08 146.78L167.96 145.84L169.4 145.59ZM170.79 148.01L168.73 147.91L167.08 146.85L169.04 146.92ZM171 149.12L168.36 148.98L167.1 147.79L168.83 147.62ZM169.97 149.98L167.95 150.06L166.81 148.79L168.51 148.59ZM169.19 151.09L167.53 151.05L166.23 149.84L168.01 149.92ZM168.91 151.98L167.11 151.95L166.27 150.78L167.71 150.64ZM168.61 152.79L166.72 152.73L165.58 151.33L167.39 151.35ZM168.12 153.79L166.24 153.65L164.53 151.91L166.93 152.33ZM166.91 154.59L165.63 154.7L164.82 153.4L166.35 153.44ZM167.37 155.84L165.3 155.24L164.05 153.84L165.88 154.29ZM166.08 156.39L164.69 156.17L163.31 154.58L165.32 155.2ZM164.89 158.01L163.51 157.82L162.31 156.11L164.3 156.75ZM164.5 159L162.9 158.59L161.83 156.91L163.71 157.55ZM164.17 160.18L162.17 159.46L161.71 158.13L163.1 158.34ZM163.26 161.05L161.4 160.31L160.38 158.48L162.32 159.28ZM162.15 161.49L160.69 161.05L159.93 159.37L161.64 160.05ZM162.13 162.72L159.98 161.74L159.46 160.04L161.16 160.56ZM161.55 163.44L159.44 162.24L158.55 160.27L160.46 161.27ZM159.65 163.46L158.4 163.15L157.32 160.79L159.52 162.17ZM159.36 164.2L157.84 163.6L156.93 161.3L159.04 162.6ZM158.56 165.36L156.93 164.3L156.81 163.1L157.95 163.51ZM156.84 166.94L155.2 165.51L154.63 163.66L156.13 164.88ZM156.43 167.61L154.6 165.89L154.27 164.27L155.62 165.23ZM154.62 167.17L153.6 166.48L153.49 165.26L154.51 165.94ZM153.92 167.74L152.6 167.03L152.59 165.37L154.01 166.24ZM153.29 169.43L151.6 167.54L151.09 165.12L152.75 166.95ZM152.28 169.74L150.6 168.01L150.68 166.37L152 167.34ZM151.59 169.94L149.95 168.29L150.14 166.72L151.44 167.62ZM150.2 170.22L148.99 168.67L148.75 166.64L149.99 168.27ZM149.33 170.81L147.98 169.04L147.99 167.19L149.2 168.59ZM148.27 170.34L147.13 169.33L147.02 166.7L148.55 168.84ZM146.59 170.95L145.66 169.76L145.62 167.58L146.75 169.45ZM145.58 171.17L144.6 170.02L144.63 167.42L145.9 169.69ZM144.51 171.89L143.39 170.28L143.9 169.11L144.86 169.96ZM143.82 172.65L142.76 170.4L143.06 168.75L143.96 170.17ZM142.64 172.62L141.63 170.58L141.97 168.45L142.96 170.36ZM141.44 171.86L140.62 170.7L140.97 168.18L141.94 170.53ZM140.4 173L139.58 170.8L140.06 169.44L140.8 170.68ZM139.53 173.11L138.66 170.86L139.29 169.67L140.08 170.76ZM138.32 172.65L137.69 170.89L138.19 169.27L138.82 170.85ZM136.68 171.9L135.91 170.88L136.71 168.62L137.47 170.9ZM135.46 172.75L135.01 170.84L135.63 168.91L136.08 170.89ZM134.28 173.04L133.69 170.74L134.56 169.34L135.21 170.85ZM133.41 172.8L132.9 170.65L133.86 168.44L134.35 170.79ZM132.44 173.13L132.13 170.54L132.93 169.34L133.39 170.7ZM131.44 172.27L130.94 170.35L131.92 169.26L132.51 170.6ZM130.45 171.9L130.08 170.17L130.99 169.09L131.44 170.43ZM129.35 171.35L129.01 169.93L130.03 168.36L130.27 170.21ZM128.43 171.65L128.08 169.69L129.44 167.63L129.66 170.08ZM127.24 170.82L126.95 169.35L127.91 168.54L128.28 169.74ZM126.35 170.58L126.06 169.06L127.46 167.15L127.48 169.51ZM125.23 170.21L125.11 168.71L126.34 167.12L126.28 169.13ZM124.11 170.22L124.08 168.3L125.16 167.55L125.44 168.84ZM123.31 169.32L123.32 167.97L124.54 166.45L124.28 168.38ZM122.16 170.02L122.61 167.64L124.13 165.71L123.66 168.12ZM121.72 168.47L121.63 167.15L122.84 166.19L122.82 167.74ZM120.53 168.16L120.65 166.63L121.9 165.62L121.75 167.21ZM119.32 168.47L119.95 166.22L121.51 164.63L120.94 166.79ZM119.06 166.86L118.96 165.61L120.38 164.7L120.22 166.38ZM116.37 166.99L117.24 164.43L118.62 163.78L118.48 165.3ZM115.94 165.52L116.46 163.83L118.43 162.21L117.41 164.55ZM115.41 164.43L115.61 163.15L117.68 161.59L116.61 163.95ZM114.13 164.13L114.74 162.4L116.69 161.14L115.74 163.26ZM113.6 163.11L114.01 161.73L115.58 160.94L114.94 162.58ZM112.44 163.07L113.37 161.11L115.18 160.22L114.37 162.06ZM112.04 161.74L112.68 160.4L114.4 159.45L113.41 161.14ZM110.41 161.48L111.73 159.34L114.1 158.15L112.68 160.39ZM109.88 160.27L111.08 158.57L113.22 157.47L111.77 159.39ZM109.56 159.04L110.38 157.68L112.41 156.8L111.08 158.56ZM108.51 158.55L109.85 156.95L111.79 156.13L110.44 157.75ZM108.17 157.53L109.23 156.05L110.82 155.69L109.92 157.05ZM108.07 156.49L108.67 155.18L110.81 154.69L109.51 156.47ZM107.16 155.58L108.16 154.35L110.04 153.84L108.71 155.26ZM106.01 154.97L107.66 153.46L108.87 153.36L108.15 154.33ZM105.93 153.59L107.04 152.27L108.48 152.27L107.65 153.45ZM105.37 152.64L106.62 151.38L107.95 151.4L107.13 152.45ZM104.14 152.08L106.24 150.52L107.94 150.39L106.7 151.56ZM103.68 151L105.76 149.32L107.45 149.48L106.35 150.77ZM104.21 149.82L105.55 148.75L107.8 148.47L105.92 149.74ZM104.31 148.42L105.15 147.55L106.95 147.54L105.5 148.61ZM103.46 147.86L104.93 146.84L107.21 146.7L105.25 147.88ZM102.97 146.04L104.47 145.07L107.03 145.02L104.75 146.18ZM102.6 145.42L104.31 144.36L106.07 144.62L104.6 145.62ZM101.78 144.26L104.07 143.07L105.66 143.52L104.35 144.52ZM102.97 143.18L103.96 142.41L106.5 142.59L104.16 143.59ZM101.77 142.19L103.83 141.38L104.91 141.77L103.97 142.44ZM102.04 141.19L103.73 140.44L104.8 140.9L103.85 141.57ZM102.57 140.07L103.65 139.32L104.83 139.91L103.75 140.66ZM101.33 139.24L103.62 138.55L105.3 139.04L103.67 139.7ZM101.26 137.96L103.6 137.4L104.68 137.91L103.61 138.45ZM101.09 136.95L103.63 136.19L105.26 137.01L103.6 137.78ZM102.48 135.89L103.68 135.25L104.74 136L103.61 136.64ZM101.54 134.87L103.74 134.47L105.13 135.13L103.66 135.58ZM102.09 133.82L103.85 133.41L105.23 134.15L103.73 134.59ZM102.45 133.02L103.99 132.44L105.89 133.46L103.79 133.97ZM102.84 131.04L104.31 130.64L105.34 131.51L104.06 131.95ZM102.27 129.89L104.55 129.57L105.93 130.7L104.21 131.14ZM103.26 128.84L104.87 128.39L107.14 129.83L104.45 130.01ZM102.49 127.56L105.11 127.58L106.26 128.65L104.72 128.94ZM103.91 126.96L105.42 126.63L107.65 128.15L104.95 128.11ZM103.74 125.7L105.71 125.82L106.58 126.71L105.34 126.86ZM104.45 125.15L106.01 125.04L107.63 126.35L105.55 126.26ZM105.22 123.94L106.54 123.79L108.17 125.2L106.03 125ZM104.82 122.65L106.91 123L108.58 124.38L106.45 124.01ZM104.91 121.32L107.46 121.91L108.63 123.2L106.9 123.02ZM105.83 120.49L107.99 120.95L109.6 122.55L107.38 122.06ZM106.43 119.83L108.5 120.08L109.66 121.7L107.68 121.51ZM107.58 117.37L109.89 118L111.57 120.1L109 119.29ZM108.95 116.92L110.56 117.09L111.84 119.04L109.59 118.41ZM108.72 115.66L111.04 116.49L112.47 118.56L110.1 117.7ZM109.85 115.15L111.71 115.68L112.37 117.23L110.73 116.87ZM110.18 113.87L112.31 115.01L113.7 116.97L111.58 115.83ZM111.6 112.97L113.34 113.92L113.94 115.23L112.61 114.68ZM112.78 112.73L114.22 113.08L115.15 115.15L113.09 114.18ZM113.36 111.79L114.83 112.52L115.99 114.65L113.97 113.31ZM114.12 110.97L115.66 111.81L115.85 112.98L114.72 112.62ZM115.29 110.79L116.31 111.28L117.43 113.43L115.55 111.89ZM115.14 108.98L117.08 110.69L117.51 112.08L116.29 111.3ZM116.22 108.67L117.94 110.07L118.6 111.97L117.01 110.74ZM117.43 108.65L118.95 109.4L119.68 111.97L117.56 110.34ZM117.96 107.16L119.67 108.95L119.88 110.22L118.83 109.48ZM118.96 106.88L120.64 108.38L121.21 110.7L119.46 109.07ZM119.75 106.24L121.38 107.98L121.47 109.35L120.36 108.54ZM121.45 106.47L122.72 107.31L122.99 109.55L121.36 107.99ZM122.23 105.32L123.77 106.83L123.88 108.93L122.36 107.48ZM123.24 104.99L124.55 106.51L124.57 108.14L123.41 106.99ZM124.84 104.75L126.04 105.95L126.11 108.19L124.7 106.45ZM125.59 103.93L126.87 105.67L127.06 108.24L125.64 106.09ZM126.93 103.34L128.24 105.27L127.98 106.91L126.88 105.67ZM129.35 103.55L130.18 104.8L130.12 106.96L129.14 105.04ZM130.18 103.56L131.23 104.6L130.77 106.51L129.62 104.93ZM131.16 101.98L132.29 104.43L131.86 106.23L130.88 104.66ZM132.15 103.16L132.84 104.36L132.69 106.96L131.82 104.5ZM133.26 102.58L134.07 104.23L133.55 105.31L132.81 104.36ZM134.4 101.67L135.35 104.14L134.71 105.84L133.83 104.25ZM135.27 102.2L136.03 104.11L135.43 105.52L134.71 104.18ZM136.42 102.47L137.05 104.1L136.48 106.14L135.84 104.12ZM137.34 102.13L137.93 104.11L137.3 106.7L136.72 104.1ZM138.3 103.11L138.9 104.15L138.22 105.27L137.63 104.11ZM140.35 102.14L140.84 104.32L139.91 106.78L139.46 104.19Z" fill="#f52aa6"/>
<g stroke="#f52aa6" stroke-width="0.75"><path d="M141.26 101.35L140.73 105.85" stroke-opacity="0.72"/><path d="M142.05 101.45L141.21 107.45" stroke-opacity="0.58"/><path d="M142.84 101.57L141.96 106.94" stroke-opacity="0.77"/><path d="M143.62 101.71L142.75 106.38" stroke-opacity="0.88"/><path d="M144.4 101.86L142.71 109.98" stroke-opacity="0.6"/><path d="M145.17 102.03L143.67 108.54" stroke-opacity="0.99"/><path d="M145.94 102.22L144.31 108.65" stroke-opacity="0.95"/><path d="M146.71 102.42L145.33 107.42" stroke-opacity="0.96"/><path d="M147.48 102.64L144.83 111.44" stroke-opacity="0.66"/><path d="M148.23 102.88L146.55 108.06" stroke-opacity="0.68"/><path d="M148.99 103.13L146.24 111.01" stroke-opacity="0.7"/><path d="M149.73 103.4L147.35 109.79" stroke-opacity="0.81"/><path d="M150.47 103.69L147.44 111.3" stroke-opacity="1"/><path d="M151.21 103.99L149 109.19" stroke-opacity="0.8"/><path d="M151.94 104.31L148.08 112.88" stroke-opacity="0.83"/><path d="M152.66 104.64L150.04 110.13" stroke-opacity="0.79"/><path d="M153.37 104.99L149.17 113.33" stroke-opacity="0.56"/><path d="M154.07 105.35L150.94 111.26" stroke-opacity="0.58"/><path d="M154.77 105.73L151.55 111.49" stroke-opacity="0.84"/><path d="M155.46 106.13L151.8 112.35" stroke-opacity="0.72"/><path d="M156.14 106.54L152.85 111.87" stroke-opacity="0.79"/><path d="M157.55 107.46L154.55 111.84" stroke-opacity="0.81"/><path d="M158.2 107.91L153.05 115.1" stroke-opacity="0.98"/><path d="M158.84 108.38L155.37 113.01" stroke-opacity="0.72"/><path d="M159.47 108.87L155.45 113.99" stroke-opacity="0.63"/><path d="M160.09 109.36L156.01 114.34" stroke-opacity="0.97"/><path d="M160.7 109.87L157.33 113.8" stroke-opacity="0.77"/><path d="M161.3 110.4L156.63 115.6" stroke-opacity="0.93"/><path d="M161.88 110.93L157.87 115.22" stroke-opacity="0.97"/><path d="M162.46 111.48L158.73 115.29" stroke-opacity="0.62"/><path d="M163.02 112.04L159.26 115.72" stroke-opacity="0.87"/><path d="M163.57 112.62L160.06 115.9" stroke-opacity="0.91"/><path d="M164.1 113.2L160.49 116.45" stroke-opacity="0.92"/><path d="M164.63 113.8L159.2 118.46" stroke-opacity="0.97"/><path d="M165.14 114.41L159.58 118.97" stroke-opacity="0.55"/><path d="M165.63 115.03L158.57 120.57" stroke-opacity="0.59"/><path d="M166.12 115.66L159.06 120.95" stroke-opacity="0.84"/><path d="M166.59 116.3L158.9 121.8" stroke-opacity="0.7"/><path d="M167.04 116.95L159.4 122.18" stroke-opacity="0.69"/><path d="M167.48 117.61L162.28 121" stroke-opacity="0.93"/><path d="M167.91 118.28L163.5 121.02" stroke-opacity="0.66"/><path d="M168.7 119.62L164.49 121.99" stroke-opacity="0.94"/><path d="M169.09 120.31L162.72 123.73" stroke-opacity="0.86"/><path d="M169.45 121.02L165.17 123.19" stroke-opacity="0.9"/><path d="M169.81 121.73L163.12 124.94" stroke-opacity="0.59"/><path d="M170.14 122.45L164.29 125.11" stroke-opacity="0.76"/><path d="M170.46 123.18L164.05 125.92" stroke-opacity="0.6"/><path d="M170.77 123.91L164.55 126.41" stroke-opacity="0.62"/><path d="M171.06 124.65L165.08 126.9" stroke-opacity="0.59"/><path d="M171.33 125.39L166.89 126.96" stroke-opacity="0.66"/><path d="M171.58 126.15L165.23 128.23" stroke-opacity="0.73"/><path d="M171.82 126.9L167.44 128.24" stroke-opacity="0.7"/><path d="M172.05 127.67L165.82 129.41" stroke-opacity="0.87"/><path d="M172.25 128.43L164.41 130.45" stroke-opacity="0.86"/><path d="M172.44 129.2L167.12 130.45" stroke-opacity="0.68"/><path d="M172.61 129.98L166.4 131.29" stroke-opacity="0.65"/><path d="M172.77 130.76L167.65 131.72" stroke-opacity="0.94"/><path d="M172.91 131.54L167.28 132.47" stroke-opacity="0.72"/><path d="M173.03 132.32L163.81 133.65" stroke-opacity="0.75"/><path d="M173.13 133.11L166.53 133.91" stroke-opacity="0.67"/><path d="M173.22 133.9L168.49 134.37" stroke-opacity="0.78"/><path d="M173.33 135.2L166.37 135.64" stroke-opacity="0.74"/><path d="M173.37 135.99L165.43 136.32" stroke-opacity="0.72"/><path d="M173.39 136.79L164.22 136.97" stroke-opacity="0.72"/><path d="M173.4 137.58L167.31 137.57" stroke-opacity="0.88"/><path d="M173.39 138.37L164.91 138.17" stroke-opacity="0.69"/><path d="M173.36 139.17L168.15 138.93" stroke-opacity="0.75"/><path d="M173.32 139.96L166.55 139.5" stroke-opacity="0.96"/><path d="M173.25 140.75L165.35 140.04" stroke-opacity="0.98"/><path d="M173.17 141.54L166.41 140.79" stroke-opacity="0.84"/><path d="M173.08 142.33L165.41 141.3" stroke-opacity="1"/><path d="M172.96 143.12L166.42 142.09" stroke-opacity="0.92"/><path d="M172.83 143.9L166.36 142.74" stroke-opacity="0.65"/><path d="M172.69 144.68L164.93 143.12" stroke-opacity="0.73"/><path d="M172.52 145.46L166.18 144.04" stroke-opacity="0.88"/><path d="M172.34 146.23L165.6 144.56" stroke-opacity="0.65"/><path d="M172.14 147L166.79 145.55" stroke-opacity="0.81"/><path d="M171.72 148.43L162.82 145.63" stroke-opacity="0.83"/><path d="M171.47 149.19L166.96 147.65" stroke-opacity="0.58"/><path d="M171.21 149.93L165.61 147.9" stroke-opacity="0.75"/><path d="M170.93 150.68L163.72 147.88" stroke-opacity="0.71"/><path d="M170.64 151.42L166.08 149.53" stroke-opacity="0.97"/><path d="M170.32 152.15L164.96 149.79" stroke-opacity="0.74"/><path d="M170 152.87L165.2 150.64" stroke-opacity="0.77"/><path d="M169.65 153.59L163.42 150.51" stroke-opacity="0.8"/><path d="M169.29 154.29L165.18 152.16" stroke-opacity="0.62"/><path d="M168.92 154.99L163.26 151.89" stroke-opacity="0.95"/><path d="M168.53 155.69L162.94 152.46" stroke-opacity="0.75"/><path d="M168.13 156.37L163.14 153.35" stroke-opacity="0.57"/><path d="M167.71 157.04L162.5 153.73" stroke-opacity="0.86"/><path d="M167.27 157.71L161.62 153.94" stroke-opacity="0.92"/><path d="M166.42 158.93L162.65 156.19" stroke-opacity="0.8"/><path d="M165.95 159.57L161.92 156.5" stroke-opacity="0.57"/><path d="M165.46 160.2L161.87 157.34" stroke-opacity="0.88"/><path d="M164.96 160.81L160.96 157.48" stroke-opacity="0.75"/><path d="M164.44 161.42L160.7 158.15" stroke-opacity="0.63"/><path d="M163.91 162.01L158.1 156.72" stroke-opacity="0.87"/><path d="M163.37 162.59L158.65 158.1" stroke-opacity="0.82"/><path d="M162.82 163.16L158.93 159.3" stroke-opacity="0.8"/><path d="M162.25 163.72L157.44 158.72" stroke-opacity="0.85"/><path d="M161.67 164.26L157.54 159.78" stroke-opacity="0.6"/><path d="M161.08 164.79L157.72 160.99" stroke-opacity="0.93"/><path d="M160.48 165.31L156.86 161.02" stroke-opacity="0.94"/><path d="M159.87 165.82L154.43 159.08" stroke-opacity="0.69"/><path d="M159.25 166.31L155.42 161.35" stroke-opacity="0.68"/><path d="M157.89 167.31L153.56 161.13" stroke-opacity="0.89"/><path d="M157.24 167.76L153.6 162.32" stroke-opacity="0.99"/><path d="M156.57 168.19L152.83 162.32" stroke-opacity="0.55"/><path d="M155.9 168.61L152.48 162.98" stroke-opacity="0.8"/><path d="M155.21 169.02L152 163.45" stroke-opacity="0.69"/><path d="M154.52 169.41L151.41 163.74" stroke-opacity="0.8"/><path d="M153.82 169.78L150.14 162.71" stroke-opacity="0.57"/><path d="M153.11 170.14L149.95 163.72" stroke-opacity="0.76"/><path d="M152.4 170.48L150.22 165.82" stroke-opacity="0.85"/><path d="M151.67 170.81L148.28 163.12" stroke-opacity="0.75"/><path d="M150.94 171.12L147.69 163.27" stroke-opacity="0.64"/><path d="M150.21 171.42L148.03 165.83" stroke-opacity="0.88"/><path d="M149.46 171.7L147.66 166.74" stroke-opacity="0.7"/><path d="M148.72 171.96L146.99 166.88" stroke-opacity="0.88"/><path d="M147.48 172.36L146.06 167.64" stroke-opacity="0.88"/><path d="M146.71 172.58L145.01 166.43" stroke-opacity="0.62"/><path d="M145.94 172.78L144.68 167.81" stroke-opacity="0.78"/><path d="M145.17 172.97L143.67 166.43" stroke-opacity="0.97"/><path d="M144.4 173.14L143.1 166.9" stroke-opacity="0.86"/><path d="M143.62 173.29L142.68 168.24" stroke-opacity="0.98"/><path d="M142.84 173.43L141.79 166.97" stroke-opacity="0.7"/><path d="M142.05 173.55L141.36 168.6" stroke-opacity="0.74"/><path d="M141.26 173.65L140.49 167.12" stroke-opacity="0.93"/><path d="M140.47 173.73L140.04 169.22" stroke-opacity="0.95"/><path d="M139.68 173.8L139.31 168.78" stroke-opacity="0.6"/><path d="M138.89 173.85L138.64 169.06" stroke-opacity="0.63"/><path d="M138.1 173.88L137.92 167.94" stroke-opacity="0.75"/><path d="M136.63 173.9L136.69 168.08" stroke-opacity="0.9"/><path d="M135.84 173.88L136.08 166.35" stroke-opacity="0.96"/><path d="M135.05 173.85L135.49 165.67" stroke-opacity="0.76"/><path d="M134.25 173.8L134.62 168.97" stroke-opacity="0.95"/><path d="M133.46 173.73L133.92 169" stroke-opacity="0.97"/><path d="M132.67 173.64L133.46 167.09" stroke-opacity="0.87"/><path d="M131.89 173.54L132.71 167.76" stroke-opacity="0.93"/><path d="M131.1 173.42L132.03 167.75" stroke-opacity="0.85"/><path d="M130.32 173.28L131.43 167.32" stroke-opacity="0.74"/><path d="M129.54 173.13L130.99 166.21" stroke-opacity="0.87"/><path d="M128.77 172.96L129.94 167.91" stroke-opacity="0.6"/><path d="M127.99 172.77L129.43 167.13" stroke-opacity="0.63"/><path d="M127.23 172.56L129.05 166.02" stroke-opacity="0.83"/><path d="M125.95 172.18L128.04 165.63" stroke-opacity="0.65"/><path d="M125.19 171.93L127.76 164.45" stroke-opacity="0.97"/><path d="M124.45 171.67L126.34 166.51" stroke-opacity="0.98"/><path d="M123.7 171.38L126.23 164.95" stroke-opacity="0.95"/><path d="M122.97 171.09L125.23 165.68" stroke-opacity="0.97"/><path d="M122.24 170.77L124.92 164.72" stroke-opacity="0.9"/><path d="M121.52 170.44L125.05 162.93" stroke-opacity="0.59"/><path d="M120.8 170.1L123.83 164" stroke-opacity="0.9"/><path d="M120.09 169.74L123.56 163.14" stroke-opacity="0.86"/><path d="M119.39 169.36L122.48 163.78" stroke-opacity="0.57"/><path d="M118.7 168.97L122.55 162.35" stroke-opacity="0.91"/><path d="M118.02 168.56L121.43 162.99" stroke-opacity="0.69"/><path d="M117.35 168.14L119.81 164.3" stroke-opacity="0.77"/><path d="M116.34 167.47L120.12 162" stroke-opacity="0.85"/><path d="M115.69 167.01L119.75 161.39" stroke-opacity="0.98"/><path d="M115.06 166.54L119.12 161.16" stroke-opacity="0.87"/><path d="M114.43 166.06L119.59 159.53" stroke-opacity="0.56"/><path d="M113.81 165.56L118.79 159.53" stroke-opacity="0.82"/><path d="M113.2 165.04L117.99 159.5" stroke-opacity="0.56"/><path d="M112.61 164.52L117.51 159.09" stroke-opacity="0.57"/><path d="M112.02 163.98L116.82 158.9" stroke-opacity="0.88"/><path d="M111.45 163.43L114.87 159.96" stroke-opacity="0.95"/><path d="M110.89 162.87L115.17 158.71" stroke-opacity="0.61"/><path d="M109.83 161.73L114.96 157.16" stroke-opacity="0.55"/><path d="M109.31 161.13L112.84 158.11" stroke-opacity="1"/><path d="M108.8 160.52L114.14 156.16" stroke-opacity="0.93"/><path d="M108.31 159.9L113.53 155.82" stroke-opacity="0.86"/><path d="M107.82 159.27L112.42 155.84" stroke-opacity="0.62"/><path d="M107.36 158.62L112.65 154.85" stroke-opacity="0.61"/><path d="M106.9 157.97L113.32 153.61" stroke-opacity="0.67"/><path d="M106.46 157.31L111.2 154.24" stroke-opacity="0.84"/><path d="M106.04 156.64L111.76 153.1" stroke-opacity="0.78"/><path d="M105.63 155.96L111.64 152.42" stroke-opacity="0.65"/><path d="M104.84 154.55L109.54 152.05" stroke-opacity="0.69"/><path d="M104.47 153.84L109.43 151.35" stroke-opacity="0.57"/><path d="M104.13 153.13L111.31 149.71" stroke-opacity="0.95"/><path d="M103.79 152.41L109.56 149.82" stroke-opacity="0.89"/><path d="M103.48 151.68L109.3 149.22" stroke-opacity="0.64"/><path d="M103.17 150.94L108.74 148.73" stroke-opacity="0.9"/><path d="M102.89 150.2L107.91 148.33" stroke-opacity="0.92"/><path d="M102.62 149.46L111.53 146.36" stroke-opacity="0.6"/><path d="M102.37 148.7L106.9 147.24" stroke-opacity="0.88"/><path d="M102.13 147.94L110.22 145.52" stroke-opacity="0.9"/><path d="M101.78 146.69L107.49 145.2" stroke-opacity="0.96"/><path d="M101.59 145.92L107.56 144.5" stroke-opacity="0.81"/><path d="M101.41 145.15L107.66 143.8" stroke-opacity="0.81"/><path d="M101.25 144.37L106.72 143.32" stroke-opacity="0.74"/><path d="M101.11 143.59L106.93 142.6" stroke-opacity="0.71"/><path d="M100.99 142.8L106.5 141.99" stroke-opacity="0.72"/><path d="M100.88 142.01L107.6 141.18" stroke-opacity="0.56"/><path d="M100.79 141.23L108.44 140.44" stroke-opacity="0.75"/><path d="M100.72 140.44L106.12 140" stroke-opacity="0.66"/><path d="M100.63 138.91L107.31 138.65" stroke-opacity="0.97"/><path d="M100.61 138.12L106.27 138.02" stroke-opacity="0.7"/><path d="M100.6 137.33L107.33 137.36" stroke-opacity="0.93"/><path d="M100.61 136.53L105.75 136.67" stroke-opacity="0.86"/><path d="M100.64 135.74L108.54 136.12" stroke-opacity="0.72"/><path d="M100.69 134.95L107.17 135.4" stroke-opacity="0.94"/><path d="M100.75 134.15L107.57 134.78" stroke-opacity="0.82"/><path d="M100.84 133.36L109.43 134.35" stroke-opacity="0.76"/><path d="M100.93 132.58L105.54 133.2" stroke-opacity="0.88"/><path d="M101.21 130.88L107.62 132.07" stroke-opacity="0.85"/><path d="M101.36 130.1L107.95 131.47" stroke-opacity="0.97"/><path d="M101.53 129.33L106.16 130.39" stroke-opacity="0.81"/><path d="M101.72 128.56L106.68 129.81" stroke-opacity="0.97"/><path d="M101.92 127.79L108.54 129.62" stroke-opacity="0.65"/><path d="M102.14 127.02L107.82 128.73" stroke-opacity="0.7"/><path d="M102.38 126.27L108.59 128.28" stroke-opacity="0.63"/><path d="M102.63 125.51L109.7 127.98" stroke-opacity="0.98"/><path d="M102.9 124.77L109.91 127.38" stroke-opacity="0.82"/><path d="M103.44 123.41L108.53 125.55" stroke-opacity="0.83"/><path d="M103.75 122.68L108.65 124.86" stroke-opacity="0.57"/><path d="M104.08 121.96L109.42 124.48" stroke-opacity="0.63"/><path d="M104.43 121.24L109.84 123.94" stroke-opacity="0.96"/><path d="M104.79 120.54L109.34 122.93" stroke-opacity="0.81"/><path d="M105.17 119.84L110.82 122.97" stroke-opacity="0.62"/><path d="M105.56 119.15L110.4 121.97" stroke-opacity="0.96"/><path d="M105.97 118.47L110.22 121.07" stroke-opacity="0.61"/><path d="M106.6 117.48L111.05 120.41" stroke-opacity="0.73"/><path d="M107.05 116.82L113.39 121.2" stroke-opacity="0.76"/><path d="M107.51 116.17L112.72 119.94" stroke-opacity="0.96"/><path d="M107.98 115.53L113.4 119.64" stroke-opacity="0.66"/><path d="M108.46 114.9L114.8 119.92" stroke-opacity="0.86"/><path d="M108.96 114.29L112.95 117.59" stroke-opacity="0.61"/><path d="M109.48 113.68L115.21 118.64" stroke-opacity="0.86"/><path d="M110 113.08L114.32 116.99" stroke-opacity="0.64"/><path d="M111.03 112L114.84 115.74" stroke-opacity="0.86"/><path d="M111.59 111.44L114.73 114.66" stroke-opacity="0.87"/><path d="M112.16 110.89L115.35 114.31" stroke-opacity="0.67"/><path d="M112.75 110.35L117.12 115.24" stroke-opacity="0.8"/><path d="M113.35 109.83L116.68 113.72" stroke-opacity="0.68"/><path d="M113.96 109.32L117.35 113.48" stroke-opacity="0.91"/><path d="M114.58 108.83L119.87 115.6" stroke-opacity="0.95"/><path d="M115.95 107.8L118.72 111.7" stroke-opacity="0.57"/><path d="M116.61 107.35L119.49 111.61" stroke-opacity="0.79"/><path d="M117.27 106.91L121.74 113.85" stroke-opacity="0.74"/><path d="M117.94 106.49L121.58 112.41" stroke-opacity="0.89"/><path d="M118.62 106.08L120.95 110.06" stroke-opacity="0.99"/><path d="M119.31 105.69L122.53 111.47" stroke-opacity="0.6"/><path d="M120.63 104.99L123.06 109.8" stroke-opacity="0.95"/><path d="M121.34 104.64L123.39 108.93" stroke-opacity="0.64"/><path d="M122.06 104.31L125.94 112.91" stroke-opacity="0.84"/><path d="M122.79 103.99L124.82 108.78" stroke-opacity="0.67"/><path d="M124.42 103.34L126.82 109.88" stroke-opacity="0.57"/><path d="M125.16 103.08L126.91 108.16" stroke-opacity="0.63"/><path d="M126.77 102.57L128.69 109.12" stroke-opacity="0.66"/><path d="M128.36 102.14L129.8 108.04" stroke-opacity="0.85"/><path d="M129.14 101.96L130.21 106.79" stroke-opacity="0.94"/><path d="M129.91 101.8L130.87 106.64" stroke-opacity="0.66"/><path d="M130.69 101.65L131.68 107.26" stroke-opacity="0.8"/><path d="M131.48 101.52L132.87 110.6" stroke-opacity="0.76"/><path d="M132.26 101.41L133.12 107.93" stroke-opacity="0.56"/><path d="M133.05 101.31L133.58 106.14" stroke-opacity="0.82"/><path d="M133.84 101.24L134.44 108.1" stroke-opacity="0.68"/><path d="M134.64 101.18L135.19 109.73" stroke-opacity="0.6"/><path d="M135.43 101.13L135.71 107.61" stroke-opacity="0.73"/><path d="M136.22 101.11L136.35 107.25" stroke-opacity="0.69"/><path d="M137.02 101.1L137.01 106.01" stroke-opacity="0.73"/><path d="M137.81 101.11L137.69 106.57" stroke-opacity="0.8"/><path d="M138.6 101.14L138.36 106.64" stroke-opacity="0.91"/><path d="M139.78 101.21L139.37 106.52" stroke-opacity="0.97"/></g>
<g stroke="#f52aa6" stroke-width="0.6"><path d="M140.62 106.71L140.18 110.45" stroke-opacity="0.61"/><path d="M141.9 106.89L141.47 109.57" stroke-opacity="0.35"/><path d="M143.82 107.26L143.38 109.18" stroke-opacity="0.46"/><path d="M146.32 107.93L145.3 111.17" stroke-opacity="0.65"/><path d="M148.16 108.58L147.05 111.45" stroke-opacity="0.45"/><path d="M149.95 109.34L148.96 111.5" stroke-opacity="0.62"/><path d="M152.83 110.84L151.78 112.62" stroke-opacity="0.58"/><path d="M154.49 111.91L152.64 114.61" stroke-opacity="0.52"/><path d="M156.06 113.06L153.97 115.74" stroke-opacity="0.42"/><path d="M157.56 114.3L156.82 115.14" stroke-opacity="0.62"/><path d="M160.73 117.55L159.73 118.39" stroke-opacity="0.36"/><path d="M161.94 119.08L159.46 120.91" stroke-opacity="0.67"/><path d="M163.39 121.23L162.15 122" stroke-opacity="0.51"/><path d="M163.99 122.26L162.72 122.98" stroke-opacity="0.51"/><path d="M164.31 122.83L161.45 124.36" stroke-opacity="0.46"/><path d="M165.18 124.57L162.13 125.97" stroke-opacity="0.57"/><path d="M166.16 126.97L164.19 127.68" stroke-opacity="0.65"/><path d="M166.94 129.45L164.44 130.12" stroke-opacity="0.68"/><path d="M167.25 130.71L164.18 131.4" stroke-opacity="0.5"/><path d="M167.38 131.35L165.97 131.63" stroke-opacity="0.44"/><path d="M167.61 132.62L165.52 132.96" stroke-opacity="0.7"/><path d="M167.94 139.42L164.43 139.2" stroke-opacity="0.52"/><path d="M167.57 142.64L163.76 142" stroke-opacity="0.59"/><path d="M167.46 143.28L166.25 143.05" stroke-opacity="0.35"/><path d="M166.87 145.81L163.49 144.87" stroke-opacity="0.68"/><path d="M159.58 158.74L156.93 156.25" stroke-opacity="0.64"/><path d="M159.13 159.21L157.37 157.48" stroke-opacity="0.37"/><path d="M157.72 160.56L156.83 159.56" stroke-opacity="0.3"/><path d="M154.8 162.88L153.65 161.23" stroke-opacity="0.66"/><path d="M152.62 164.28L151.22 161.89" stroke-opacity="0.63"/><path d="M150.32 165.49L148.68 162.05" stroke-opacity="0.34"/><path d="M149.14 166.03L148.12 163.63" stroke-opacity="0.68"/><path d="M147.32 166.73L146.73 165.04" stroke-opacity="0.52"/><path d="M145.31 167.37L144.28 163.67" stroke-opacity="0.65"/><path d="M144.05 167.69L143.81 166.66" stroke-opacity="0.47"/><path d="M143.42 167.83L143.05 166.1" stroke-opacity="0.45"/><path d="M139.57 168.39L139.47 167.18" stroke-opacity="0.58"/><path d="M136.7 168.5L136.74 165.1" stroke-opacity="0.48"/><path d="M136.05 168.49L136.17 164.58" stroke-opacity="0.67"/><path d="M133.46 168.3L133.83 165.13" stroke-opacity="0.57"/><path d="M132.82 168.22L133.12 166.01" stroke-opacity="0.52"/><path d="M132.18 168.12L132.43 166.54" stroke-opacity="0.64"/><path d="M129 167.45L129.6 165.21" stroke-opacity="0.37"/><path d="M123.39 165.35L124.96 162.13" stroke-opacity="0.65"/><path d="M121.66 164.44L123.05 162.01" stroke-opacity="0.45"/><path d="M118.37 162.27L119.34 160.97" stroke-opacity="0.33"/><path d="M115.88 160.19L117.22 158.75" stroke-opacity="0.43"/><path d="M113.03 157.16L114.23 156.17" stroke-opacity="0.34"/><path d="M111.84 155.61L112.91 154.84" stroke-opacity="0.6"/><path d="M110.09 152.88L112.19 151.68" stroke-opacity="0.49"/><path d="M108.01 148.48L111.74 147.07" stroke-opacity="0.52"/><path d="M106.57 143.44L108.71 143.02" stroke-opacity="0.68"/><path d="M106.26 141.52L107.86 141.31" stroke-opacity="0.44"/><path d="M106.18 140.87L107.37 140.74" stroke-opacity="0.42"/><path d="M106.01 138.07L109.01 138.01" stroke-opacity="0.3"/><path d="M106.34 132.89L108.56 133.22" stroke-opacity="0.68"/><path d="M107.09 129.35L108.07 129.61" stroke-opacity="0.4"/><path d="M107.46 128.1L109.84 128.86" stroke-opacity="0.31"/><path d="M108.11 126.26L109.34 126.75" stroke-opacity="0.61"/><path d="M109.52 123.16L112.85 124.9" stroke-opacity="0.67"/><path d="M111.47 119.92L113.95 121.63" stroke-opacity="0.55"/><path d="M112.62 118.35L114.66 119.95" stroke-opacity="0.31"/><path d="M114.31 116.38L117.02 118.9" stroke-opacity="0.63"/><path d="M116.76 114.02L118.96 116.57" stroke-opacity="0.62"/><path d="M119.06 112.22L121.08 115.06" stroke-opacity="0.51"/><path d="M120.14 111.49L120.88 112.63" stroke-opacity="0.43"/><path d="M121.24 110.8L122.38 112.74" stroke-opacity="0.61"/><path d="M121.81 110.48L123.15 112.87" stroke-opacity="0.69"/><path d="M123.05 109.82L124.75 113.19" stroke-opacity="0.69"/><path d="M124.22 109.26L124.91 110.79" stroke-opacity="0.43"/><path d="M125.41 108.75L125.85 109.84" stroke-opacity="0.47"/><path d="M126.88 108.2L127.69 110.55" stroke-opacity="0.58"/><path d="M128.27 107.75L128.84 109.68" stroke-opacity="0.47"/><path d="M130.9 107.11L131.28 109" stroke-opacity="0.64"/></g>
<path d="M161.26 130.6L159.14 131.21M123.2 152.35L124.39 151.06M149.71 153.83L149.06 153M118.74 121.43L120.53 123.01M155.22 127.79L153.75 128.57M144.63 117.91L144 119.51M140.09 164.42L139.89 162.65M118.86 152.99L120.49 151.6M150.4 149.52L148.57 147.88M118.41 132.43L119.37 132.69M161.21 133.24L160.2 133.42M139.87 114.74L139.77 115.54M158.79 138.72L157.64 138.66M137.32 116.9L137.3 118.12M156.78 147.46L155.52 146.82M153.26 145.66L151.27 144.67M114.13 139.19L114.94 139.13M163.86 134.67L162.29 134.83M162.17 130.24L159.95 130.88M152.98 120.94L151.76 122.21M151.25 121.81L150 123.18M115.47 148.73L117.11 147.87M149.97 150.96L149.39 150.36M114.28 123.57L116.28 124.79M148.81 114.68L148.31 115.65M153.45 148.87L151.59 147.59M113.11 126.43L114.43 127.04M128.94 118.54L129.64 120.17M118.98 146.92L120.26 146.25M152.29 116.51L151.64 117.41M152.67 123.86L151.25 125.1M119.36 152.64L121.06 151.17M116.9 137.19L118.61 137.22M154.85 127.6L153.94 128.1M147 118.47L145.93 120.51" stroke="#f52aa6" stroke-width="0.7" stroke-opacity="0.35"/>
<text x="179.6" y="14.47" transform="rotate(19.1 179.6 14.47)" font-size="6.0" text-anchor="middle" dominant-baseline="central" fill="#111" stroke="#111" stroke-width="0.15">1</text><text x="151.33" y="15.54" transform="rotate(-83.3 151.33 15.54)" font-size="3.7" text-anchor="middle" dominant-baseline="central" fill="#555" font-weight="bold">0</text><text x="159.17" y="16.72" transform="rotate(-79.6 159.17 16.72)" font-size="3.7" text-anchor="middle" dominant-baseline="central" fill="#555" font-weight="bold">10</text><text x="166.92" y="18.4" transform="rotate(-75.9 166.92 18.4)" font-size="3.7" text-anchor="middle" dominant-baseline="central" fill="#555" font-weight="bold">20</text><text x="174.54" y="20.58" transform="rotate(-72.2 174.54 20.58)" font-size="3.7" text-anchor="middle" dominant-baseline="central" fill="#555" font-weight="bold">30</text><text x="182.01" y="23.24" transform="rotate(-68.5 182.01 23.24)" font-size="3.7" text-anchor="middle" dominant-baseline="central" fill="#555" font-weight="bold">40</text><text x="189.29" y="26.39" transform="rotate(-64.8 189.29 26.39)" font-size="3.7" text-anchor="middle" dominant-baseline="central" fill="#555" font-weight="bold">50</text><text x="196.35" y="29.99" transform="rotate(-61.1 196.35 29.99)" font-size="3.7" text-anchor="middle" dominant-baseline="central" fill="#555" font-weight="bold">60</text><text x="231.55" y="48.71" transform="rotate(46.8 231.55 48.71)" font-size="6.0" text-anchor="middle" dominant-baseline="central" fill="#111" stroke="#111" stroke-width="0.15">2</text><text x="206.29" y="36.12" transform="rotate(-55.65 206.29 36.12)" font-size="3.7" text-anchor="middle" dominant-baseline="central" fill="#555" font-weight="bold">0</text><text x="212.69" y="40.8" transform="rotate(-51.95 212.69 40.8)" font-size="3.7" text-anchor="middle" dominant-baseline="central" fill="#555" font-weight="bold">10</text><text x="218.77" y="45.88" transform="rotate(-48.25 218.77 45.88)" font-size="3.7" text-anchor="middle" dominant-baseline="central" fill="#555" font-weight="bold">20</text><text x="224.51" y="51.35" transform="rotate(-44.55 224.51 51.35)" font-size="3.7" text-anchor="middle" dominant-baseline="central" fill="#555" font-weight="bold">30</text><text x="229.89" y="57.18" transform="rotate(-40.85 229.89 57.18)" font-size="3.7" text-anchor="middle" dominant-baseline="central" fill="#555" font-weight="bold">40</text><text x="234.88" y="63.34" transform="rotate(-37.15 234.88 63.34)" font-size="3.7" text-anchor="middle" dominant-baseline="central" fill="#555" font-weight="bold">50</text><text x="239.46" y="69.81" transform="rotate(-33.45 239.46 69.81)" font-size="3.7" text-anchor="middle" dominant-baseline="central" fill="#555" font-weight="bold">60</text><text x="260.01" y="99.66" transform="rotate(72.9 260.01 99.66)" font-size="6.0" text-anchor="middle" dominant-baseline="central" fill="#111" stroke="#111" stroke-width="0.15">3</text><text x="243.93" y="77.12" transform="rotate(-29.45 243.93 77.12)" font-size="3.7" text-anchor="middle" dominant-baseline="central" fill="#555" font-weight="bold">0</text><text x="247.61" y="84.15" transform="rotate(-25.75 247.61 84.15)" font-size="3.7" text-anchor="middle" dominant-baseline="central" fill="#555" font-weight="bold">10</text><text x="250.82" y="91.4" transform="rotate(-22.05 250.82 91.4)" font-size="3.7" text-anchor="middle" dominant-baseline="central" fill="#555" font-weight="bold">20</text><text x="253.56" y="98.84" transform="rotate(-18.35 253.56 98.84)" font-size="3.7" text-anchor="middle" dominant-baseline="central" fill="#555" font-weight="bold">30</text><text x="255.81" y="106.44" transform="rotate(-14.65 255.81 106.44)" font-size="3.7" text-anchor="middle" dominant-baseline="central" fill="#555" font-weight="bold">40</text><text x="257.56" y="114.17" transform="rotate(-10.95 257.56 114.17)" font-size="3.7" text-anchor="middle" dominant-baseline="central" fill="#555" font-weight="bold">50</text><text x="258.82" y="122" transform="rotate(-7.25 258.82 122)" font-size="3.7" text-anchor="middle" dominant-baseline="central" fill="#555" font-weight="bold">60</text><text x="264.65" y="148.22" transform="rotate(-85.2 264.65 148.22)" font-size="6.0" text-anchor="middle" dominant-baseline="central" fill="#111" stroke="#111" stroke-width="0.15">4</text><text x="259.55" y="129.68" transform="rotate(-3.65 259.55 129.68)" font-size="3.7" text-anchor="middle" dominant-baseline="central" fill="#555" font-weight="bold">0</text><text x="259.8" y="137.61" transform="rotate(0.05 259.8 137.61)" font-size="3.7" text-anchor="middle" dominant-baseline="central" fill="#555" font-weight="bold">10</text><text x="259.54" y="145.53" transform="rotate(3.75 259.54 145.53)" font-size="3.7" text-anchor="middle" dominant-baseline="central" fill="#555" font-weight="bold">20</text><text x="258.76" y="153.42" transform="rotate(7.45 258.76 153.42)" font-size="3.7" text-anchor="middle" dominant-baseline="central" fill="#555" font-weight="bold">30</text><text x="257.48" y="161.25" transform="rotate(11.15 257.48 161.25)" font-size="3.7" text-anchor="middle" dominant-baseline="central" fill="#555" font-weight="bold">40</text><text x="255.7" y="168.97" transform="rotate(14.85 255.7 168.97)" font-size="3.7" text-anchor="middle" dominant-baseline="central" fill="#555" font-weight="bold">50</text><text x="252.81" y="192.49" transform="rotate(-64.6 252.81 192.49)" font-size="6.0" text-anchor="middle" dominant-baseline="central" fill="#111" stroke="#111" stroke-width="0.15">5</text><text x="254.15" y="174.32" transform="rotate(17.45 254.15 174.32)" font-size="3.7" text-anchor="middle" dominant-baseline="central" fill="#555" font-weight="bold">0</text><text x="251.53" y="181.81" transform="rotate(21.15 251.53 181.81)" font-size="3.7" text-anchor="middle" dominant-baseline="central" fill="#555" font-weight="bold">10</text><text x="248.43" y="189.11" transform="rotate(24.85 248.43 189.11)" font-size="3.7" text-anchor="middle" dominant-baseline="central" fill="#555" font-weight="bold">20</text><text x="244.87" y="196.19" transform="rotate(28.55 244.87 196.19)" font-size="3.7" text-anchor="middle" dominant-baseline="central" fill="#555" font-weight="bold">30</text><text x="240.86" y="203.03" transform="rotate(32.25 240.86 203.03)" font-size="3.7" text-anchor="middle" dominant-baseline="central" fill="#555" font-weight="bold">40</text><text x="229.21" y="226.86" transform="rotate(-45.9 229.21 226.86)" font-size="6.0" text-anchor="middle" dominant-baseline="central" fill="#111" stroke="#111" stroke-width="0.15">6</text><text x="236.28" y="209.77" transform="rotate(36.05 236.28 209.77)" font-size="3.7" text-anchor="middle" dominant-baseline="central" fill="#555" font-weight="bold">0</text><text x="231.41" y="216.02" transform="rotate(39.75 231.41 216.02)" font-size="3.7" text-anchor="middle" dominant-baseline="central" fill="#555" font-weight="bold">10</text><text x="226.15" y="221.95" transform="rotate(43.45 226.15 221.95)" font-size="3.7" text-anchor="middle" dominant-baseline="central" fill="#555" font-weight="bold">20</text><text x="220.51" y="227.53" transform="rotate(47.15 220.51 227.53)" font-size="3.7" text-anchor="middle" dominant-baseline="central" fill="#555" font-weight="bold">30</text><text x="214.53" y="232.73" transform="rotate(50.85 214.53 232.73)" font-size="3.7" text-anchor="middle" dominant-baseline="central" fill="#555" font-weight="bold">40</text><text x="194.81" y="252.94" transform="rotate(-26.6 194.81 252.94)" font-size="6.0" text-anchor="middle" dominant-baseline="central" fill="#111" stroke="#111" stroke-width="0.15">7</text><text x="207.52" y="238.03" transform="rotate(54.95 207.52 238.03)" font-size="3.7" text-anchor="middle" dominant-baseline="central" fill="#555" font-weight="bold">0</text><text x="200.89" y="242.37" transform="rotate(58.65 200.89 242.37)" font-size="3.7" text-anchor="middle" dominant-baseline="central" fill="#555" font-weight="bold">10</text><text x="193.99" y="246.28" transform="rotate(62.35 193.99 246.28)" font-size="3.7" text-anchor="middle" dominant-baseline="central" fill="#555" font-weight="bold">20</text><text x="186.85" y="249.73" transform="rotate(66.05 186.85 249.73)" font-size="3.7" text-anchor="middle" dominant-baseline="central" fill="#555" font-weight="bold">30</text><text x="179.5" y="252.71" transform="rotate(69.75 179.5 252.71)" font-size="3.7" text-anchor="middle" dominant-baseline="central" fill="#555" font-weight="bold">40</text><text x="157.16" y="266.23" transform="rotate(-8.9 157.16 266.23)" font-size="6.0" text-anchor="middle" dominant-baseline="central" fill="#111" stroke="#111" stroke-width="0.15">8</text><text x="172.39" y="255.09" transform="rotate(73.25 172.39 255.09)" font-size="3.7" text-anchor="middle" dominant-baseline="central" fill="#555" font-weight="bold">0</text><text x="164.73" y="257.13" transform="rotate(76.95 164.73 257.13)" font-size="3.7" text-anchor="middle" dominant-baseline="central" fill="#555" font-weight="bold">10</text><text x="156.95" y="258.67" transform="rotate(80.65 156.95 258.67)" font-size="3.7" text-anchor="middle" dominant-baseline="central" fill="#555" font-weight="bold">20</text><text x="149.09" y="259.7" transform="rotate(84.35 149.09 259.7)" font-size="3.7" text-anchor="middle" dominant-baseline="central" fill="#555" font-weight="bold">30</text><text x="141.18" y="260.23" transform="rotate(88.05 141.18 260.23)" font-size="3.7" text-anchor="middle" dominant-baseline="central" fill="#555" font-weight="bold">40</text><text x="119.12" y="266.37" transform="rotate(7.9 119.12 266.37)" font-size="6.0" text-anchor="middle" dominant-baseline="central" fill="#111" stroke="#111" stroke-width="0.15">9</text><text x="135.82" y="260.29" transform="rotate(90.55 135.82 260.29)" font-size="3.7" text-anchor="middle" dominant-baseline="central" fill="#555" font-weight="bold">0</text><text x="127.9" y="259.96" transform="rotate(94.25 127.9 259.96)" font-size="3.7" text-anchor="middle" dominant-baseline="central" fill="#555" font-weight="bold">10</text><text x="120.02" y="259.12" transform="rotate(97.95 120.02 259.12)" font-size="3.7" text-anchor="middle" dominant-baseline="central" fill="#555" font-weight="bold">20</text><text x="112.2" y="257.77" transform="rotate(101.65 112.2 257.77)" font-size="3.7" text-anchor="middle" dominant-baseline="central" fill="#555" font-weight="bold">30</text><text x="104.49" y="255.92" transform="rotate(105.35 104.49 255.92)" font-size="3.7" text-anchor="middle" dominant-baseline="central" fill="#555" font-weight="bold">40</text><text x="81.42" y="254.02" transform="rotate(25.5 81.42 254.02)" font-size="6.0" text-anchor="middle" dominant-baseline="central" fill="#111" stroke="#111" stroke-width="0.15">10</text><text x="99.77" y="254.52" transform="rotate(107.65 99.77 254.52)" font-size="3.7" text-anchor="middle" dominant-baseline="central" fill="#555" font-weight="bold">0</text><text x="92.29" y="251.87" transform="rotate(111.35 92.29 251.87)" font-size="3.7" text-anchor="middle" dominant-baseline="central" fill="#555" font-weight="bold">10</text><text x="85.01" y="248.75" transform="rotate(115.05 85.01 248.75)" font-size="3.7" text-anchor="middle" dominant-baseline="central" fill="#555" font-weight="bold">20</text><text x="77.93" y="245.16" transform="rotate(118.75 77.93 245.16)" font-size="3.7" text-anchor="middle" dominant-baseline="central" fill="#555" font-weight="bold">30</text><text x="71.11" y="241.13" transform="rotate(122.45 71.11 241.13)" font-size="3.7" text-anchor="middle" dominant-baseline="central" fill="#555" font-weight="bold">40</text><text x="53.01" y="235.15" transform="rotate(40.7 53.01 235.15)" font-size="6.0" text-anchor="middle" dominant-baseline="central" fill="#111" stroke="#111" stroke-width="0.15">11</text><text x="67.36" y="238.64" transform="rotate(124.55 67.36 238.64)" font-size="3.7" text-anchor="middle" dominant-baseline="central" fill="#555" font-weight="bold">0</text><text x="60.98" y="233.94" transform="rotate(128.25 60.98 233.94)" font-size="3.7" text-anchor="middle" dominant-baseline="central" fill="#555" font-weight="bold">10</text><text x="54.91" y="228.83" transform="rotate(131.95 54.91 228.83)" font-size="3.7" text-anchor="middle" dominant-baseline="central" fill="#555" font-weight="bold">20</text><text x="49.19" y="223.34" transform="rotate(135.65 49.19 223.34)" font-size="3.7" text-anchor="middle" dominant-baseline="central" fill="#555" font-weight="bold">30</text><text x="31.92" y="211.63" transform="rotate(54.8 31.92 211.63)" font-size="6.0" text-anchor="middle" dominant-baseline="central" fill="#111" stroke="#111" stroke-width="0.15">12</text><text x="45.38" y="219.27" transform="rotate(138.25 45.38 219.27)" font-size="3.7" text-anchor="middle" dominant-baseline="central" fill="#555" font-weight="bold">0</text><text x="40.3" y="213.19" transform="rotate(141.95 40.3 213.19)" font-size="3.7" text-anchor="middle" dominant-baseline="central" fill="#555" font-weight="bold">10</text><text x="35.62" y="206.79" transform="rotate(145.65 35.62 206.79)" font-size="3.7" text-anchor="middle" dominant-baseline="central" fill="#555" font-weight="bold">20</text><text x="31.36" y="200.1" transform="rotate(149.35 31.36 200.1)" font-size="3.7" text-anchor="middle" dominant-baseline="central" fill="#555" font-weight="bold">30</text><text x="16.53" y="184.47" transform="rotate(68.7 16.53 184.47)" font-size="6.0" text-anchor="middle" dominant-baseline="central" fill="#111" stroke="#111" stroke-width="0.15">13</text><text x="28.52" y="195.06" transform="rotate(152.05 28.52 195.06)" font-size="3.7" text-anchor="middle" dominant-baseline="central" fill="#555" font-weight="bold">0</text><text x="25.04" y="187.94" transform="rotate(155.75 25.04 187.94)" font-size="3.7" text-anchor="middle" dominant-baseline="central" fill="#555" font-weight="bold">10</text><text x="22.01" y="180.61" transform="rotate(159.45 22.01 180.61)" font-size="3.7" text-anchor="middle" dominant-baseline="central" fill="#555" font-weight="bold">20</text><text x="19.47" y="173.1" transform="rotate(163.15 19.47 173.1)" font-size="3.7" text-anchor="middle" dominant-baseline="central" fill="#555" font-weight="bold">30</text><text x="9.36" y="154.76" transform="rotate(82.3 9.36 154.76)" font-size="6.0" text-anchor="middle" dominant-baseline="central" fill="#111" stroke="#111" stroke-width="0.15">14</text><text x="18.19" y="168.56" transform="rotate(165.35 18.19 168.56)" font-size="3.7" text-anchor="middle" dominant-baseline="central" fill="#555" font-weight="bold">0</text><text x="16.44" y="160.83" transform="rotate(169.05 16.44 160.83)" font-size="3.7" text-anchor="middle" dominant-baseline="central" fill="#555" font-weight="bold">10</text><text x="15.18" y="153" transform="rotate(172.75 15.18 153)" font-size="3.7" text-anchor="middle" dominant-baseline="central" fill="#555" font-weight="bold">20</text><text x="8.24" y="134.35" transform="rotate(-88.6 8.24 134.35)" font-size="6.0" text-anchor="middle" dominant-baseline="central" fill="#111" stroke="#111" stroke-width="0.15">15</text><text x="14.29" y="142.32" transform="rotate(177.75 14.29 142.32)" font-size="3.7" text-anchor="middle" dominant-baseline="central" fill="#555" font-weight="bold">0</text><text x="14.24" y="134.39" transform="rotate(181.45 14.24 134.39)" font-size="3.7" text-anchor="middle" dominant-baseline="central" fill="#555" font-weight="bold">10</text><text x="14.7" y="126.48" transform="rotate(185.15 14.7 126.48)" font-size="3.7" text-anchor="middle" dominant-baseline="central" fill="#555" font-weight="bold">20</text><text x="11.71" y="105.56" transform="rotate(-75.7 11.71 105.56)" font-size="6.0" text-anchor="middle" dominant-baseline="central" fill="#111" stroke="#111" stroke-width="0.15">16</text><text x="16.24" y="115.23" transform="rotate(190.45 16.24 115.23)" font-size="3.7" text-anchor="middle" dominant-baseline="central" fill="#555" font-weight="bold">0</text><text x="17.93" y="107.48" transform="rotate(194.15 17.93 107.48)" font-size="3.7" text-anchor="middle" dominant-baseline="central" fill="#555" font-weight="bold">10</text><text x="20.11" y="99.86" transform="rotate(197.85 20.11 99.86)" font-size="3.7" text-anchor="middle" dominant-baseline="central" fill="#555" font-weight="bold">20</text><text x="20.02" y="81.71" transform="rotate(-64.5 20.02 81.71)" font-size="6.0" text-anchor="middle" dominant-baseline="central" fill="#111" stroke="#111" stroke-width="0.15">17</text><text x="23.75" y="90.01" transform="rotate(202.75 23.75 90.01)" font-size="3.7" text-anchor="middle" dominant-baseline="central" fill="#555" font-weight="bold">0</text><text x="27.05" y="82.8" transform="rotate(206.45 27.05 82.8)" font-size="3.7" text-anchor="middle" dominant-baseline="central" fill="#555" font-weight="bold">10</text><text x="30.81" y="75.82" transform="rotate(210.15 30.81 75.82)" font-size="3.7" text-anchor="middle" dominant-baseline="central" fill="#555" font-weight="bold">20</text><text x="32.98" y="60.53" transform="rotate(-53.5 32.98 60.53)" font-size="6.0" text-anchor="middle" dominant-baseline="central" fill="#111" stroke="#111" stroke-width="0.15">18</text><text x="34.42" y="69.99" transform="rotate(213.35 34.42 69.99)" font-size="3.7" text-anchor="middle" dominant-baseline="central" fill="#555" font-weight="bold">0</text><text x="38.99" y="63.51" transform="rotate(217.05 38.99 63.51)" font-size="3.7" text-anchor="middle" dominant-baseline="central" fill="#555" font-weight="bold">10</text><text x="43.97" y="57.34" transform="rotate(220.75 43.97 57.34)" font-size="3.7" text-anchor="middle" dominant-baseline="central" fill="#555" font-weight="bold">20</text><text x="49.18" y="42.33" transform="rotate(-42.7 49.18 42.33)" font-size="6.0" text-anchor="middle" dominant-baseline="central" fill="#111" stroke="#111" stroke-width="0.15">19</text><text x="49.34" y="51.5" transform="rotate(224.45 49.34 51.5)" font-size="3.7" text-anchor="middle" dominant-baseline="central" fill="#555" font-weight="bold">0</text><text x="55.07" y="46.03" transform="rotate(228.15 55.07 46.03)" font-size="3.7" text-anchor="middle" dominant-baseline="central" fill="#555" font-weight="bold">10</text><text x="61.14" y="40.93" transform="rotate(231.85 61.14 40.93)" font-size="3.7" text-anchor="middle" dominant-baseline="central" fill="#555" font-weight="bold">20</text><text x="66.58" y="29.06" transform="rotate(-33 66.58 29.06)" font-size="6.0" text-anchor="middle" dominant-baseline="central" fill="#111" stroke="#111" stroke-width="0.15">20</text><text x="65.95" y="37.34" transform="rotate(234.65 65.95 37.34)" font-size="3.7" text-anchor="middle" dominant-baseline="central" fill="#555" font-weight="bold">0</text><text x="72.56" y="32.96" transform="rotate(238.35 72.56 32.96)" font-size="3.7" text-anchor="middle" dominant-baseline="central" fill="#555" font-weight="bold">10</text><text x="81.56" y="19.69" transform="rotate(-25.2 81.56 19.69)" font-size="6.0" text-anchor="middle" dominant-baseline="central" fill="#111" stroke="#111" stroke-width="0.15">21</text><text x="81.73" y="27.84" transform="rotate(243.25 81.73 27.84)" font-size="3.7" text-anchor="middle" dominant-baseline="central" fill="#555" font-weight="bold">0</text><text x="88.92" y="24.5" transform="rotate(246.95 88.92 24.5)" font-size="3.7" text-anchor="middle" dominant-baseline="central" fill="#555" font-weight="bold">10</text><text x="92.08" y="14.76" transform="rotate(-20.1 92.08 14.76)" font-size="6.0" text-anchor="middle" dominant-baseline="central" fill="#111" stroke="#111" stroke-width="0.15">22</text><text x="94.5" y="22.29" transform="rotate(249.75 94.5 22.29)" font-size="3.7" text-anchor="middle" dominant-baseline="central" fill="#555" font-weight="bold">0</text><text x="99.73" y="13.27" transform="rotate(-16.7 99.73 13.27)" font-size="6.0" text-anchor="middle" dominant-baseline="central" fill="#111" stroke="#111" stroke-width="0.15">23</text><text x="102.43" y="19.67" transform="rotate(253.65 102.43 19.67)" font-size="3.7" text-anchor="middle" dominant-baseline="central" fill="#555" font-weight="bold">0</text><text x="123.28" y="6.92" transform="rotate(-6 123.28 6.92)" font-size="6.0" text-anchor="middle" dominant-baseline="central" fill="#111" stroke="#111" stroke-width="0.15">X</text><text x="107.81" y="18.22" transform="rotate(256.25 107.81 18.22)" font-size="3.7" text-anchor="middle" dominant-baseline="central" fill="#555" font-weight="bold">0</text><text x="115.57" y="16.58" transform="rotate(259.95 115.57 16.58)" font-size="3.7" text-anchor="middle" dominant-baseline="central" fill="#555" font-weight="bold">10</text><text x="123.42" y="15.45" transform="rotate(263.65 123.42 15.45)" font-size="3.7" text-anchor="middle" dominant-baseline="central" fill="#555" font-weight="bold">20</text><text x="131.32" y="14.83" transform="rotate(267.35 131.32 14.83)" font-size="3.7" text-anchor="middle" dominant-baseline="central" fill="#555" font-weight="bold">30</text><text x="139.25" y="14.72" transform="rotate(-88.95 139.25 14.72)" font-size="3.7" text-anchor="middle" dominant-baseline="central" fill="#555" font-weight="bold">40</text><text x="146.84" y="6.57" transform="rotate(4.3 146.84 6.57)" font-size="6.0" text-anchor="middle" dominant-baseline="central" fill="#111" stroke="#111" stroke-width="0.15">Y</text><text x="146.31" y="15.05" transform="rotate(-85.65 146.31 15.05)" font-size="3.7" text-anchor="middle" dominant-baseline="central" fill="#555" font-weight="bold">0</text>
</g>
<g id="E">
<path d="M415.09 337.58A119.4 119.4 0 0 1 467.17 355.99" stroke="#16a6ec" stroke-width="3.6" fill="none"/><path d="M468.74 357.02A119.4 119.4 0 0 1 504.8 394.89" stroke="#16a6ec" stroke-width="3.6" fill="none"/><path d="M505.75 396.51A119.4 119.4 0 0 1 521.32 445.58" stroke="#16a6ec" stroke-width="3.6" fill="none"/><path d="M521.47 447.45A119.4 119.4 0 0 1 517.2 489.11" stroke="#16a6ec" stroke-width="3.6" fill="none"/><path d="M516.67 490.91A119.4 119.4 0 0 1 500.74 524.01" stroke="#16a6ec" stroke-width="3.6" fill="none"/><path d="M499.67 525.55A119.4 119.4 0 0 1 473.51 552.22" stroke="#16a6ec" stroke-width="3.6" fill="none"/><path d="M471.99 553.32A119.4 119.4 0 0 1 439.79 569.69" stroke="#16a6ec" stroke-width="3.6" fill="none"/><path d="M438.01 570.27A119.4 119.4 0 0 1 404.38 575.68" stroke="#16a6ec" stroke-width="3.6" fill="none"/><path d="M402.5 575.7A119.4 119.4 0 0 1 369.19 570.99" stroke="#16a6ec" stroke-width="3.6" fill="none"/><path d="M367.39 570.45A119.4 119.4 0 0 1 337.28 556.38" stroke="#16a6ec" stroke-width="3.6" fill="none"/><path d="M335.72 555.35A119.4 119.4 0 0 1 315.43 538.11" stroke="#16a6ec" stroke-width="3.6" fill="none"/><path d="M314.16 536.73A119.4 119.4 0 0 1 298.43 515" stroke="#16a6ec" stroke-width="3.6" fill="none"/><path d="M297.52 513.36A119.4 119.4 0 0 1 287.71 489.51" stroke="#16a6ec" stroke-width="3.6" fill="none"/><path d="M287.2 487.71A119.4 119.4 0 0 1 283.26 464.11" stroke="#16a6ec" stroke-width="3.6" fill="none"/><path d="M283.15 462.24A119.4 119.4 0 0 1 284.45 437.72" stroke="#16a6ec" stroke-width="3.6" fill="none"/><path d="M284.76 435.87A119.4 119.4 0 0 1 291.12 413.02" stroke="#16a6ec" stroke-width="3.6" fill="none"/><path d="M291.81 411.28A119.4 119.4 0 0 1 300.98 393.29" stroke="#16a6ec" stroke-width="3.6" fill="none"/><path d="M301.98 391.71A119.4 119.4 0 0 1 315.01 374.95" stroke="#16a6ec" stroke-width="3.6" fill="none"/><path d="M316.29 373.58A119.4 119.4 0 0 1 330.79 360.76" stroke="#16a6ec" stroke-width="3.6" fill="none"/><path d="M332.3 359.64A119.4 119.4 0 0 1 345.89 351.12" stroke="#16a6ec" stroke-width="3.6" fill="none"/><path d="M347.54 350.25A119.4 119.4 0 0 1 358.16 345.4" stroke="#16a6ec" stroke-width="3.6" fill="none"/><path d="M359.9 344.72A119.4 119.4 0 0 1 365.8 342.65" stroke="#16a6ec" stroke-width="3.6" fill="none"/><path d="M367.59 342.09A119.4 119.4 0 0 1 370.99 341.1" stroke="#16a6ec" stroke-width="3.6" fill="none"/><path d="M372.81 340.63A119.4 119.4 0 0 1 408.34 337.05" stroke="#16a6ec" stroke-width="3.6" fill="none"/><path d="M410.21 337.16A119.4 119.4 0 0 1 413.22 337.39" stroke="#16a6ec" stroke-width="3.6" fill="none"/>
<path d="M411.36 372.48A84.3 84.3 0 0 1 448.13 385.48" stroke="#16a6ec" stroke-width="2.4" fill="none"/><path d="M449.23 386.21A84.3 84.3 0 0 1 474.7 412.95" stroke="#16a6ec" stroke-width="2.4" fill="none"/><path d="M475.37 414.09A84.3 84.3 0 0 1 486.36 448.73" stroke="#16a6ec" stroke-width="2.4" fill="none"/><path d="M486.47 450.05A84.3 84.3 0 0 1 483.45 479.47" stroke="#16a6ec" stroke-width="2.4" fill="none"/><path d="M483.08 480.74A84.3 84.3 0 0 1 471.83 504.11" stroke="#16a6ec" stroke-width="2.4" fill="none"/><path d="M471.07 505.19A84.3 84.3 0 0 1 452.6 524.02" stroke="#16a6ec" stroke-width="2.4" fill="none"/><path d="M451.53 524.8A84.3 84.3 0 0 1 428.8 536.36" stroke="#16a6ec" stroke-width="2.4" fill="none"/><path d="M427.54 536.76A84.3 84.3 0 0 1 403.8 540.59" stroke="#16a6ec" stroke-width="2.4" fill="none"/><path d="M402.47 540.6A84.3 84.3 0 0 1 378.95 537.27" stroke="#16a6ec" stroke-width="2.4" fill="none"/><path d="M377.68 536.89A84.3 84.3 0 0 1 356.43 526.96" stroke="#16a6ec" stroke-width="2.4" fill="none"/><path d="M355.32 526.23A84.3 84.3 0 0 1 341 514.06" stroke="#16a6ec" stroke-width="2.4" fill="none"/><path d="M340.1 513.09A84.3 84.3 0 0 1 328.99 497.75" stroke="#16a6ec" stroke-width="2.4" fill="none"/><path d="M328.35 496.59A84.3 84.3 0 0 1 321.43 479.75" stroke="#16a6ec" stroke-width="2.4" fill="none"/><path d="M321.07 478.47A84.3 84.3 0 0 1 318.28 461.81" stroke="#16a6ec" stroke-width="2.4" fill="none"/><path d="M318.2 460.49A84.3 84.3 0 0 1 319.13 443.19" stroke="#16a6ec" stroke-width="2.4" fill="none"/><path d="M319.34 441.88A84.3 84.3 0 0 1 323.83 425.75" stroke="#16a6ec" stroke-width="2.4" fill="none"/><path d="M324.32 424.52A84.3 84.3 0 0 1 330.79 411.82" stroke="#16a6ec" stroke-width="2.4" fill="none"/><path d="M331.5 410.7A84.3 84.3 0 0 1 340.7 398.86" stroke="#16a6ec" stroke-width="2.4" fill="none"/><path d="M341.61 397.9A84.3 84.3 0 0 1 351.84 388.84" stroke="#16a6ec" stroke-width="2.4" fill="none"/><path d="M352.91 388.06A84.3 84.3 0 0 1 362.5 382.04" stroke="#16a6ec" stroke-width="2.4" fill="none"/><path d="M363.67 381.42A84.3 84.3 0 0 1 371.16 378" stroke="#16a6ec" stroke-width="2.4" fill="none"/><path d="M372.4 377.52A84.3 84.3 0 0 1 376.56 376.06" stroke="#16a6ec" stroke-width="2.4" fill="none"/><path d="M377.82 375.66A84.3 84.3 0 0 1 380.23 374.97" stroke="#16a6ec" stroke-width="2.4" fill="none"/><path d="M381.51 374.63A84.3 84.3 0 0 1 406.59 372.1" stroke="#16a6ec" stroke-width="2.4" fill="none"/><path d="M407.91 372.18A84.3 84.3 0 0 1 410.04 372.35" stroke="#16a6ec" stroke-width="2.4" fill="none"/>
<path d="M407.65 407.18A49.4 49.4 0 0 1 429.2 414.8" stroke="#16a6ec" stroke-width="2.2" fill="none"/><path d="M429.85 415.23A49.4 49.4 0 0 1 444.77 430.89" stroke="#16a6ec" stroke-width="2.2" fill="none"/><path d="M445.16 431.56A49.4 49.4 0 0 1 451.6 451.87" stroke="#16a6ec" stroke-width="2.2" fill="none"/><path d="M451.66 452.64A49.4 49.4 0 0 1 449.9 469.88" stroke="#16a6ec" stroke-width="2.2" fill="none"/><path d="M449.68 470.62A49.4 49.4 0 0 1 443.09 484.32" stroke="#16a6ec" stroke-width="2.2" fill="none"/><path d="M442.64 484.95A49.4 49.4 0 0 1 431.82 495.98" stroke="#16a6ec" stroke-width="2.2" fill="none"/><path d="M431.19 496.44A49.4 49.4 0 0 1 417.87 503.22" stroke="#16a6ec" stroke-width="2.2" fill="none"/><path d="M417.13 503.45A49.4 49.4 0 0 1 403.22 505.69" stroke="#16a6ec" stroke-width="2.2" fill="none"/><path d="M402.44 505.7A49.4 49.4 0 0 1 388.66 503.75" stroke="#16a6ec" stroke-width="2.2" fill="none"/><path d="M387.92 503.53A49.4 49.4 0 0 1 375.46 497.71" stroke="#16a6ec" stroke-width="2.2" fill="none"/><path d="M374.81 497.28A49.4 49.4 0 0 1 366.42 490.15" stroke="#16a6ec" stroke-width="2.2" fill="none"/><path d="M365.89 489.58A49.4 49.4 0 0 1 359.38 480.59" stroke="#16a6ec" stroke-width="2.2" fill="none"/><path d="M359.01 479.91A49.4 49.4 0 0 1 354.95 470.04" stroke="#16a6ec" stroke-width="2.2" fill="none"/><path d="M354.74 469.29A49.4 49.4 0 0 1 353.11 459.53" stroke="#16a6ec" stroke-width="2.2" fill="none"/><path d="M353.06 458.76A49.4 49.4 0 0 1 353.6 448.61" stroke="#16a6ec" stroke-width="2.2" fill="none"/><path d="M353.73 447.85A49.4 49.4 0 0 1 356.36 438.4" stroke="#16a6ec" stroke-width="2.2" fill="none"/><path d="M356.65 437.67A49.4 49.4 0 0 1 360.44 430.23" stroke="#16a6ec" stroke-width="2.2" fill="none"/><path d="M360.85 429.58A49.4 49.4 0 0 1 366.24 422.64" stroke="#16a6ec" stroke-width="2.2" fill="none"/><path d="M366.77 422.08A49.4 49.4 0 0 1 372.77 416.77" stroke="#16a6ec" stroke-width="2.2" fill="none"/><path d="M373.4 416.31A49.4 49.4 0 0 1 379.02 412.78" stroke="#16a6ec" stroke-width="2.2" fill="none"/><path d="M379.7 412.42A49.4 49.4 0 0 1 384.09 410.42" stroke="#16a6ec" stroke-width="2.2" fill="none"/><path d="M384.82 410.13A49.4 49.4 0 0 1 387.26 409.28" stroke="#16a6ec" stroke-width="2.2" fill="none"/><path d="M388 409.05A49.4 49.4 0 0 1 389.41 408.64" stroke="#16a6ec" stroke-width="2.2" fill="none"/><path d="M390.16 408.44A49.4 49.4 0 0 1 404.86 406.96" stroke="#16a6ec" stroke-width="2.2" fill="none"/><path d="M405.63 407.01A49.4 49.4 0 0 1 406.88 407.1" stroke="#16a6ec" stroke-width="2.2" fill="none"/>
<circle cx="401.7" cy="457.0" r="14.2" fill="none" stroke="#d0d0d0" stroke-width="1.0"/>
<g stroke="#f4824a" stroke-width="0.7"><path d="M415.7 340.46L415.61 341.22" stroke-opacity="0.33"/><path d="M426.54 342.23L426.39 342.96" stroke-opacity="0.52"/><path d="M435.42 344.47L435.04 345.77" stroke-opacity="0.4"/><path d="M438.91 345.57L438.14 347.92" stroke-opacity="0.52"/><path d="M442.38 346.77L441.75 348.47" stroke-opacity="0.59"/><path d="M444.09 347.41L443.36 349.32" stroke-opacity="0.33"/><path d="M450.85 350.24L450.42 351.17" stroke-opacity="0.5"/><path d="M455.79 352.64L454.88 354.4" stroke-opacity="0.6"/><path d="M457.41 353.49L456.41 355.36" stroke-opacity="0.34"/><path d="M459.02 354.37L458.27 355.72" stroke-opacity="0.58"/><path d="M487.4 376.48L486.57 377.26" stroke-opacity="0.37"/><path d="M489.86 379.19L488.71 380.21" stroke-opacity="0.53"/><path d="M497.8 389.25L496.62 390.08" stroke-opacity="0.45"/><path d="M498.84 390.76L497.33 391.78" stroke-opacity="0.46"/><path d="M499.86 392.28L498.82 392.96" stroke-opacity="0.26"/><path d="M500.85 393.82L499.48 394.69" stroke-opacity="0.45"/><path d="M503.78 398.71L502.64 399.35" stroke-opacity="0.48"/><path d="M505.54 401.92L504.39 402.53" stroke-opacity="0.35"/><path d="M506.38 403.55L505.47 404.01" stroke-opacity="0.34"/><path d="M507.99 406.84L507.25 407.19" stroke-opacity="0.32"/><path d="M508.75 408.5L508.08 408.81" stroke-opacity="0.4"/><path d="M509.49 410.18L507.7 410.95" stroke-opacity="0.53"/><path d="M510.89 413.57L509.7 414.03" stroke-opacity="0.53"/><path d="M512.18 416.99L510.76 417.5" stroke-opacity="0.34"/><path d="M514.92 425.73L513.29 426.17" stroke-opacity="0.55"/><path d="M517.3 436.45L515.35 436.79" stroke-opacity="0.43"/><path d="M517.6 438.26L515.39 438.61" stroke-opacity="0.58"/><path d="M518.32 443.71L517.41 443.81" stroke-opacity="0.33"/><path d="M518.99 457.72L517.37 457.7" stroke-opacity="0.36"/><path d="M518.95 459.56L516.57 459.49" stroke-opacity="0.57"/><path d="M518.89 461.39L518.16 461.35" stroke-opacity="0.39"/><path d="M518.52 466.87L516.21 466.66" stroke-opacity="0.3"/><path d="M518.13 470.51L515.86 470.23" stroke-opacity="0.41"/><path d="M517.01 477.75L516.07 477.57" stroke-opacity="0.35"/><path d="M516.66 479.55L516.05 479.42" stroke-opacity="0.46"/><path d="M515.87 483.12L514.51 482.8" stroke-opacity="0.57"/><path d="M514.97 486.67L513.98 486.41" stroke-opacity="0.27"/><path d="M511.97 496.18L510.77 495.74" stroke-opacity="0.5"/><path d="M506.11 509.6L504.4 508.72" stroke-opacity="0.29"/><path d="M502.55 516L500.46 514.75" stroke-opacity="0.59"/><path d="M501.6 517.57L500.89 517.13" stroke-opacity="0.53"/><path d="M500.63 519.12L499.37 518.31" stroke-opacity="0.6"/><path d="M494.66 527.6L493.24 526.51" stroke-opacity="0.55"/><path d="M491.2 531.87L490.36 531.16" stroke-opacity="0.34"/><path d="M490 533.26L489.39 532.72" stroke-opacity="0.53"/><path d="M488.78 534.62L487.54 533.5" stroke-opacity="0.46"/><path d="M486.28 537.3L485 536.07" stroke-opacity="0.52"/><path d="M481.02 542.4L480.52 541.85" stroke-opacity="0.29"/><path d="M478.28 544.83L477.21 543.59" stroke-opacity="0.37"/><path d="M476.88 546.01L475.79 544.7" stroke-opacity="0.33"/><path d="M474.03 548.31L473.23 547.28" stroke-opacity="0.4"/><path d="M469.61 551.58L468.57 550.1" stroke-opacity="0.31"/><path d="M463.5 555.61L463.16 555.07" stroke-opacity="0.43"/><path d="M458.75 558.38L458.03 557.08" stroke-opacity="0.47"/><path d="M448.89 563.23L448.28 561.81" stroke-opacity="0.37"/><path d="M445.51 564.64L444.66 562.49" stroke-opacity="0.58"/><path d="M440.36 566.55L440.15 565.94" stroke-opacity="0.55"/><path d="M436.3 567.86L435.94 566.68" stroke-opacity="0.4"/><path d="M434.54 568.38L434.29 567.51" stroke-opacity="0.38"/><path d="M432.77 568.87L432.28 567.05" stroke-opacity="0.45"/><path d="M423.85 570.91L423.54 569.25" stroke-opacity="0.57"/><path d="M420.24 571.53L420.01 570.05" stroke-opacity="0.43"/><path d="M414.79 572.24L414.63 570.72" stroke-opacity="0.25"/><path d="M409.32 572.69L409.22 571.13" stroke-opacity="0.42"/><path d="M407.49 572.79L407.4 570.74" stroke-opacity="0.28"/><path d="M401.59 572.9L401.6 571.16" stroke-opacity="0.48"/><path d="M394.27 572.62L394.39 570.88" stroke-opacity="0.27"/><path d="M390.62 572.3L390.78 570.68" stroke-opacity="0.31"/><path d="M388.8 572.1L389.07 569.76" stroke-opacity="0.55"/><path d="M386.98 571.88L387.26 569.76" stroke-opacity="0.28"/><path d="M383.36 571.33L383.56 570.1" stroke-opacity="0.3"/><path d="M381.55 571.02L381.9 569.11" stroke-opacity="0.25"/><path d="M376.17 569.91L376.57 568.18" stroke-opacity="0.56"/><path d="M360.42 565.08L361.08 563.38" stroke-opacity="0.57"/><path d="M358.72 564.41L359 563.72" stroke-opacity="0.55"/><path d="M355.35 562.98L355.97 561.58" stroke-opacity="0.28"/><path d="M353.68 562.23L354.06 561.39" stroke-opacity="0.59"/><path d="M350.37 560.65L351.06 559.27" stroke-opacity="0.36"/><path d="M348.74 559.82L349.64 558.09" stroke-opacity="0.41"/><path d="M343.92 557.18L344.44 556.28" stroke-opacity="0.31"/><path d="M340.78 555.29L341.17 554.67" stroke-opacity="0.35"/><path d="M339.24 554.31L339.84 553.38" stroke-opacity="0.52"/><path d="M332.07 549.3L333.32 547.64" stroke-opacity="0.27"/><path d="M330.61 548.18L331.71 546.78" stroke-opacity="0.42"/><path d="M329.18 547.04L330.18 545.8" stroke-opacity="0.31"/><path d="M327.76 545.88L328.3 545.23" stroke-opacity="0.36"/><path d="M326.37 544.7L327.46 543.43" stroke-opacity="0.43"/><path d="M324.99 543.49L326.01 542.34" stroke-opacity="0.38"/><path d="M318.38 537.15L320.06 535.54" stroke-opacity="0.48"/><path d="M314.4 532.8L315.26 532.05" stroke-opacity="0.53"/><path d="M313.21 531.4L314.55 530.28" stroke-opacity="0.51"/><path d="M310.9 528.57L312.17 527.56" stroke-opacity="0.51"/><path d="M309.77 527.12L310.63 526.46" stroke-opacity="0.39"/><path d="M306.54 522.68L308.1 521.59" stroke-opacity="0.42"/><path d="M304.5 519.63L305.12 519.24" stroke-opacity="0.38"/><path d="M303.52 518.09L304.89 517.23" stroke-opacity="0.42"/><path d="M299.54 511.22L300.64 510.63" stroke-opacity="0.58"/><path d="M298.69 509.6L300.87 508.48" stroke-opacity="0.35"/><path d="M294.14 499.6L296.04 498.84" stroke-opacity="0.38"/><path d="M292.83 496.18L293.49 495.94" stroke-opacity="0.55"/><path d="M292.22 494.45L292.91 494.21" stroke-opacity="0.58"/><path d="M291.63 492.72L292.91 492.3" stroke-opacity="0.4"/><path d="M291.07 490.97L292.6 490.5" stroke-opacity="0.55"/><path d="M290.54 489.22L291.71 488.88" stroke-opacity="0.25"/><path d="M289.67 486.08L291.44 485.62" stroke-opacity="0.48"/><path d="M288.39 480.74L289.65 480.47" stroke-opacity="0.42"/><path d="M288.02 478.95L288.97 478.76" stroke-opacity="0.47"/><path d="M287.08 473.53L287.97 473.4" stroke-opacity="0.52"/><path d="M286.82 471.72L288.97 471.43" stroke-opacity="0.53"/><path d="M286.6 469.9L288.54 469.67" stroke-opacity="0.44"/><path d="M286.4 468.08L288.52 467.87" stroke-opacity="0.47"/><path d="M286.23 466.26L287.16 466.18" stroke-opacity="0.37"/><path d="M285.9 461.18L287.99 461.1" stroke-opacity="0.35"/><path d="M285.84 459.35L286.55 459.33" stroke-opacity="0.27"/><path d="M285.83 453.86L287.11 453.88" stroke-opacity="0.39"/><path d="M285.88 452.03L287.49 452.09" stroke-opacity="0.47"/><path d="M286.21 446.54L287.33 446.64" stroke-opacity="0.43"/><path d="M287.68 435.45L289.08 435.71" stroke-opacity="0.27"/><path d="M288.02 433.65L288.87 433.82" stroke-opacity="0.56"/><path d="M288.79 430.07L289.64 430.27" stroke-opacity="0.34"/><path d="M289.67 426.52L291.05 426.88" stroke-opacity="0.4"/><path d="M291.76 419.5L292.67 419.8" stroke-opacity="0.3"/><path d="M293.62 414.32L294.25 414.57" stroke-opacity="0.49"/><path d="M295.47 409.81L296.54 410.27" stroke-opacity="0.4"/><path d="M298.6 403.18L299.83 403.81" stroke-opacity="0.5"/><path d="M302.14 396.77L303.72 397.71" stroke-opacity="0.4"/><path d="M309.03 386.45L310.03 387.2" stroke-opacity="0.57"/><path d="M314.8 379.34L316.08 380.47" stroke-opacity="0.34"/><path d="M316.02 377.98L317.42 379.24" stroke-opacity="0.4"/><path d="M318.95 374.86L320.27 376.16" stroke-opacity="0.4"/><path d="M322.88 371.02L323.77 371.98" stroke-opacity="0.47"/><path d="M325.6 368.57L327.07 370.26" stroke-opacity="0.38"/><path d="M336.19 360.32L337.08 361.61" stroke-opacity="0.58"/><path d="M337.71 359.29L338.96 361.18" stroke-opacity="0.58"/><path d="M339.24 358.29L339.59 358.83" stroke-opacity="0.3"/><path d="M340.78 357.31L341.98 359.23" stroke-opacity="0.47"/><path d="M342.35 356.35L343.08 357.58" stroke-opacity="0.4"/><path d="M351.29 351.5L352.03 353.02" stroke-opacity="0.56"/><path d="M357.97 348.5L358.35 349.42" stroke-opacity="0.48"/><path d="M374.39 343.11L374.63 344.07" stroke-opacity="0.31"/><path d="M377.96 342.29L378.18 343.31" stroke-opacity="0.47"/><path d="M383.36 341.27L383.61 342.79" stroke-opacity="0.29"/><path d="M386.98 340.72L387.16 342.06" stroke-opacity="0.44"/><path d="M394.27 339.98L394.39 341.68" stroke-opacity="0.37"/><path d="M399.75 339.73L399.8 341.93" stroke-opacity="0.38"/><path d="M401.59 339.7L401.6 341.35" stroke-opacity="0.32"/><path d="M405.25 339.73L405.23 340.64" stroke-opacity="0.45"/></g>
<path d="M385.17 340.98L385.58 343.78M387.22 340.69L387.58 343.42M389.28 340.44L389.67 343.9M391.35 340.23L391.62 343.06M393.41 340.05L393.61 342.62M395.48 339.91L395.58 341.5M388.39 340.54L389.27 347.82M389.6 340.4L390.2 345.76M518.13 470.51L514.01 470M517.82 472.86L515.71 472.56M517.46 475.21L513.42 474.55M517.05 477.55L513.9 476.96M356.84 563.63L357.62 561.8M353.12 561.98L354.12 559.84M398.33 572.83L398.38 571.36M394.27 572.62L394.43 570.31" stroke="#f26b1d" stroke-width="0.9" stroke-opacity="0.85"/>
<path d="M463.32 356.88L454.13 371.89M317.26 535.97L326.46 527.36M338.55 553.87L347.64 539.98M301.93 397.12L309.34 401.49M494.28 384.51L489.08 388.58" stroke="#f39a6a" stroke-width="0.8" stroke-opacity="0.55"/>
<g stroke="#f0249c" stroke-width="1.2"><path d="M412.2 374.08L411.65 378.71" stroke-opacity="0.34"/><path d="M414.21 374.35L412.28 387.76" stroke-opacity="0.92"/><path d="M416.21 374.66L415.58 378.36" stroke-opacity="0.45"/><path d="M418.2 375.02L417.13 380.5" stroke-opacity="0.99"/><path d="M420.18 375.43L419.84 376.96" stroke-opacity="0.91"/><path d="M422.15 375.89L417.77 393.73" stroke-opacity="0.41"/><path d="M427.99 377.55L427.39 379.4" stroke-opacity="0.51"/><path d="M431.8 378.9L430.05 383.5" stroke-opacity="0.53"/><path d="M433.69 379.64L431.51 384.98" stroke-opacity="0.88"/><path d="M435.55 380.43L434.62 382.56" stroke-opacity="0.94"/><path d="M437.39 381.26L426.65 404.29" stroke-opacity="0.44"/><path d="M439.22 382.14L434.88 390.86" stroke-opacity="0.49"/><path d="M441.02 383.06L439.34 386.24" stroke-opacity="0.79"/><path d="M442.79 384.02L441.33 386.65" stroke-opacity="0.93"/><path d="M444.55 385.03L441.89 389.53" stroke-opacity="0.75"/><path d="M446.28 386.08L444.33 389.2" stroke-opacity="0.84"/><path d="M449.24 388.02L445.32 393.73" stroke-opacity="0.95"/><path d="M450.89 389.19L440.88 403.05" stroke-opacity="0.32"/><path d="M452.52 390.39L443.22 402.61" stroke-opacity="0.92"/><path d="M454.11 391.64L452.32 393.88" stroke-opacity="0.53"/><path d="M455.68 392.92L451.82 397.51" stroke-opacity="0.47"/><path d="M457.21 394.24L451.25 400.99" stroke-opacity="0.44"/><path d="M458.71 395.6L443 412.54" stroke-opacity="0.35"/><path d="M461.61 398.42L459.63 400.36" stroke-opacity="0.42"/><path d="M463.01 399.88L457.52 404.99" stroke-opacity="0.84"/><path d="M465.69 402.91L460.82 407.02" stroke-opacity="0.42"/><path d="M466.97 404.47L462.82 407.8" stroke-opacity="0.55"/><path d="M468.22 406.07L463.32 409.8" stroke-opacity="0.32"/><path d="M469.43 407.69L465.47 410.56" stroke-opacity="0.78"/><path d="M470.6 409.34L467.49 411.48" stroke-opacity="0.33"/><path d="M471.72 411.02L466.83 414.22" stroke-opacity="0.51"/><path d="M472.81 412.73L464.23 418.04" stroke-opacity="0.79"/><path d="M475.54 417.49L468.47 421.24" stroke-opacity="0.77"/><path d="M476.47 419.29L471.8 421.62" stroke-opacity="0.96"/><path d="M477.35 421.11L470.88 424.15" stroke-opacity="0.85"/><path d="M478.98 424.81L474.46 426.67" stroke-opacity="0.91"/><path d="M479.73 426.69L472.29 429.54" stroke-opacity="0.42"/><path d="M480.43 428.59L465.04 434.06" stroke-opacity="0.92"/><path d="M481.08 430.51L478.66 431.3" stroke-opacity="0.52"/><path d="M481.69 432.44L474.58 434.58" stroke-opacity="0.44"/><path d="M482.25 434.38L469.09 437.99" stroke-opacity="0.94"/><path d="M483.22 438.31L470.57 441.12" stroke-opacity="0.93"/><path d="M483.64 440.29L478.11 441.38" stroke-opacity="0.51"/><path d="M484 442.28L478.53 443.22" stroke-opacity="1"/><path d="M484.32 444.28L479.57 444.97" stroke-opacity="0.85"/><path d="M484.59 446.28L480.7 446.76" stroke-opacity="0.54"/><path d="M484.81 448.29L473.59 449.38" stroke-opacity="0.47"/><path d="M485.04 451.17L479.98 451.49" stroke-opacity="0.41"/><path d="M485.14 453.19L483.37 453.26" stroke-opacity="0.37"/><path d="M485.19 457.24L473.01 457.1" stroke-opacity="0.81"/><path d="M485.15 459.26L481.62 459.14" stroke-opacity="0.54"/><path d="M484.71 465.31L482.74 465.1" stroke-opacity="0.51"/><path d="M484.46 467.32L473.16 465.8" stroke-opacity="0.51"/><path d="M484.17 469.32L474.07 467.72" stroke-opacity="0.47"/><path d="M483.83 471.32L471.79 469.1" stroke-opacity="0.41"/><path d="M483.44 473.3L479.88 472.56" stroke-opacity="0.76"/><path d="M483 475.28L475.8 473.58" stroke-opacity="0.84"/><path d="M482.51 477.24L472.66 474.67" stroke-opacity="0.88"/><path d="M481.35 481.27L475.63 479.46" stroke-opacity="0.46"/><path d="M480.71 483.19L475.08 481.25" stroke-opacity="0.48"/><path d="M480.03 485.09L477.07 483.99" stroke-opacity="0.48"/><path d="M478.53 488.85L469.2 484.86" stroke-opacity="0.54"/><path d="M477.71 490.7L473.94 488.98" stroke-opacity="0.82"/><path d="M476.85 492.53L467.2 487.84" stroke-opacity="0.43"/><path d="M474.99 496.13L470.11 493.45" stroke-opacity="0.99"/><path d="M474 497.89L472.44 496.98" stroke-opacity="0.36"/><path d="M472.96 499.62L462.25 493.05" stroke-opacity="0.44"/><path d="M471.88 501.34L467.14 498.26" stroke-opacity="0.33"/><path d="M470.76 503.02L467.69 500.92" stroke-opacity="0.36"/><path d="M469.26 505.14L464.63 501.76" stroke-opacity="0.31"/><path d="M466.79 508.35L457.98 501.23" stroke-opacity="0.45"/><path d="M465.5 509.91L459.66 504.95" stroke-opacity="0.42"/><path d="M464.17 511.44L459.73 507.47" stroke-opacity="0.46"/><path d="M461.41 514.39L452.84 505.96" stroke-opacity="0.9"/><path d="M459.97 515.81L453.04 508.65" stroke-opacity="0.37"/><path d="M458.5 517.2L456.29 514.8" stroke-opacity="0.47"/><path d="M456.99 518.55L454.5 515.7" stroke-opacity="0.89"/><path d="M455.46 519.87L437.29 498.1" stroke-opacity="0.41"/><path d="M453.89 521.14L446.97 512.44" stroke-opacity="0.81"/><path d="M452.29 522.38L450.8 520.41" stroke-opacity="0.54"/><path d="M449.83 524.17L445.05 517.33" stroke-opacity="0.47"/><path d="M448.16 525.31L443.94 518.95" stroke-opacity="0.51"/><path d="M446.46 526.4L442.27 519.73" stroke-opacity="0.95"/><path d="M444.74 527.46L443.13 524.77" stroke-opacity="0.85"/><path d="M442.98 528.47L430.49 506.25" stroke-opacity="0.34"/><path d="M439.41 530.37L436.9 525.35" stroke-opacity="0.87"/><path d="M437.59 531.25L436.34 528.6" stroke-opacity="0.3"/><path d="M435.75 532.09L430.55 520.28" stroke-opacity="0.82"/><path d="M432.01 533.63L423.5 511.4" stroke-opacity="0.76"/><path d="M430.11 534.33L426.53 524.24" stroke-opacity="0.48"/><path d="M426.12 535.63L424.1 528.87" stroke-opacity="0.5"/><path d="M424.18 536.18L423.5 533.69" stroke-opacity="0.31"/><path d="M422.22 536.69L420.94 531.51" stroke-opacity="0.31"/><path d="M420.25 537.15L418.99 531.42" stroke-opacity="0.79"/><path d="M418.27 537.56L416.79 529.99" stroke-opacity="0.75"/><path d="M416.28 537.93L414.93 530.01" stroke-opacity="0.31"/><path d="M414.28 538.24L413.57 533.36" stroke-opacity="0.35"/><path d="M412.28 538.51L410.92 527.26" stroke-opacity="0.33"/><path d="M410.26 538.73L409.81 533.96" stroke-opacity="0.34"/><path d="M408.25 538.89L408.13 537.2" stroke-opacity="0.46"/><path d="M406.23 539.01L405.99 533.92" stroke-opacity="0.44"/><path d="M404.21 539.08L403.92 525.75" stroke-opacity="0.88"/><path d="M401.46 539.09L401.65 522.27" stroke-opacity="0.8"/><path d="M397.42 538.95L398.15 526.79" stroke-opacity="0.35"/><path d="M395.4 538.8L395.92 532.7" stroke-opacity="0.94"/><path d="M393.39 538.61L394 533.01" stroke-opacity="0.48"/><path d="M391.38 538.36L391.64 536.37" stroke-opacity="0.85"/><path d="M389.38 538.07L391.23 526.42" stroke-opacity="0.44"/><path d="M387.38 537.73L388.53 531.53" stroke-opacity="0.44"/><path d="M385.4 537.34L386.42 532.44" stroke-opacity="0.9"/><path d="M383.42 536.9L387.68 518.83" stroke-opacity="0.99"/><path d="M381.46 536.41L382.75 531.46" stroke-opacity="0.46"/><path d="M379.51 535.87L380.82 531.3" stroke-opacity="0.32"/><path d="M377.16 535.16L380.75 523.92" stroke-opacity="0.44"/><path d="M375.24 534.52L377.02 529.39" stroke-opacity="0.34"/><path d="M373.34 533.83L380.5 514.73" stroke-opacity="0.75"/><path d="M367.73 531.49L374.77 516.24" stroke-opacity="0.89"/><path d="M365.91 530.62L366.63 529.16" stroke-opacity="0.92"/><path d="M362.32 528.75L364.6 524.63" stroke-opacity="0.5"/><path d="M358.83 526.71L360.93 523.32" stroke-opacity="0.31"/><path d="M355.32 524.41L357.09 521.86" stroke-opacity="0.93"/><path d="M353.67 523.24L355.71 520.44" stroke-opacity="0.84"/><path d="M350.46 520.78L354.19 516.16" stroke-opacity="0.88"/><path d="M348.9 519.5L356.41 510.62" stroke-opacity="0.4"/><path d="M347.37 518.17L349.06 516.27" stroke-opacity="0.99"/><path d="M345.88 516.81L349.17 513.28" stroke-opacity="0.31"/><path d="M342.99 513.97L347.14 509.94" stroke-opacity="0.77"/><path d="M340.53 511.33L344.46 507.83" stroke-opacity="0.91"/><path d="M339.2 509.8L344.05 505.7" stroke-opacity="0.88"/><path d="M337.92 508.24L341.07 505.7" stroke-opacity="0.81"/><path d="M336.67 506.65L355.79 492" stroke-opacity="0.85"/><path d="M335.46 505.03L341.2 500.84" stroke-opacity="0.95"/><path d="M334.29 503.38L338.76 500.28" stroke-opacity="0.97"/><path d="M333.16 501.7L334.43 500.86" stroke-opacity="0.52"/><path d="M332.07 499.99L336.98 496.94" stroke-opacity="0.37"/><path d="M331.02 498.26L355.94 483.61" stroke-opacity="0.39"/><path d="M329.19 494.98L332.76 493.1" stroke-opacity="0.95"/><path d="M328.27 493.18L332.65 491" stroke-opacity="0.4"/><path d="M327.39 491.36L329.28 490.47" stroke-opacity="0.41"/><path d="M326.55 489.52L352.16 478.3" stroke-opacity="0.96"/><path d="M325.02 485.77L331.61 483.26" stroke-opacity="0.35"/><path d="M324.33 483.87L329.13 482.17" stroke-opacity="0.94"/><path d="M323.07 480.02L326.76 478.92" stroke-opacity="1"/><path d="M322.26 477.1L328.67 475.44" stroke-opacity="0.83"/><path d="M321.77 475.14L326.93 473.93" stroke-opacity="0.33"/><path d="M321.34 473.16L327.25 471.93" stroke-opacity="0.9"/><path d="M320.95 471.18L322.74 470.85" stroke-opacity="0.47"/><path d="M320.61 469.18L333.85 467.1" stroke-opacity="0.82"/><path d="M320.32 467.18L336.26 465.07" stroke-opacity="0.95"/><path d="M320.08 465.17L323.04 464.85" stroke-opacity="0.77"/><path d="M319.66 459.41L332.63 458.92" stroke-opacity="0.54"/><path d="M319.61 457.38L328.4 457.27" stroke-opacity="0.86"/><path d="M319.61 455.36L329.78 455.48" stroke-opacity="0.33"/><path d="M319.65 453.34L333.24 453.82" stroke-opacity="0.5"/><path d="M319.75 451.32L336.82 452.35" stroke-opacity="0.8"/><path d="M319.9 449.3L323.72 449.62" stroke-opacity="0.88"/><path d="M320.09 447.29L348.12 450.36" stroke-opacity="0.3"/><path d="M321 441.14L329.73 442.77" stroke-opacity="0.51"/><path d="M321.39 439.16L325.48 440.02" stroke-opacity="0.95"/><path d="M321.84 437.18L324.5 437.81" stroke-opacity="0.39"/><path d="M322.33 435.22L335.42 438.67" stroke-opacity="0.94"/><path d="M322.87 433.27L324.65 433.78" stroke-opacity="0.49"/><path d="M324.77 427.51L327.61 428.56" stroke-opacity="0.92"/><path d="M326.1 424.15L330.43 425.97" stroke-opacity="0.36"/><path d="M326.91 422.29L333.91 425.45" stroke-opacity="0.48"/><path d="M327.76 420.46L330.23 421.64" stroke-opacity="0.34"/><path d="M328.66 418.65L335.68 422.23" stroke-opacity="0.49"/><path d="M329.6 416.85L331.43 417.85" stroke-opacity="0.54"/><path d="M330.58 415.09L333.03 416.49" stroke-opacity="0.32"/><path d="M331.61 413.35L336.2 416.13" stroke-opacity="0.3"/><path d="M333.31 410.66L335.58 412.16" stroke-opacity="0.99"/><path d="M336.84 405.72L358.45 422.39" stroke-opacity="0.91"/><path d="M338.1 404.14L342.2 407.46" stroke-opacity="0.99"/><path d="M340.72 401.06L346.59 406.31" stroke-opacity="0.95"/><path d="M344.83 396.79L347.85 399.92" stroke-opacity="0.38"/><path d="M346.3 395.4L351.77 401.34" stroke-opacity="0.93"/><path d="M347.81 394.05L350.84 397.51" stroke-opacity="0.79"/><path d="M349.34 392.73L352.53 396.55" stroke-opacity="0.85"/><path d="M350.91 391.46L354.58 396.08" stroke-opacity="0.93"/><path d="M352.51 390.22L363.36 404.59" stroke-opacity="0.95"/><path d="M354.61 388.68L367.77 407.31" stroke-opacity="0.41"/><path d="M356.28 387.53L363.79 398.73" stroke-opacity="0.34"/><path d="M357.97 386.43L360.14 389.84" stroke-opacity="0.88"/><path d="M359.69 385.36L362.66 390.29" stroke-opacity="0.87"/><path d="M361.44 384.34L370.97 401.09" stroke-opacity="0.51"/><path d="M363.21 383.36L364.27 385.34" stroke-opacity="0.93"/><path d="M367.08 381.41L368.13 383.64" stroke-opacity="0.82"/><path d="M368.92 380.57L376.3 397.26" stroke-opacity="0.89"/><path d="M370.78 379.78L371.62 381.82" stroke-opacity="0.84"/><path d="M373.88 378.57L375.08 381.85" stroke-opacity="0.37"/><path d="M375.78 377.89L377.45 382.79" stroke-opacity="0.41"/><path d="M379.23 376.81L380.11 379.82" stroke-opacity="0.48"/><path d="M382.86 375.84L383.9 380.11" stroke-opacity="0.33"/><path d="M384.83 375.39L386.16 381.5" stroke-opacity="0.34"/><path d="M386.81 374.98L387.87 380.49" stroke-opacity="0.76"/><path d="M388.81 374.62L390.1 382.41" stroke-opacity="0.93"/><path d="M390.8 374.32L391.22 377.27" stroke-opacity="0.99"/><path d="M392.81 374.06L393.6 380.8" stroke-opacity="0.9"/><path d="M394.82 373.85L395.26 378.59" stroke-opacity="0.55"/><path d="M396.84 373.69L397.07 377.08" stroke-opacity="0.99"/><path d="M398.86 373.58L399.39 386.01" stroke-opacity="0.99"/><path d="M400.88 373.51L400.94 376.55" stroke-opacity="0.38"/><path d="M402.91 373.5L402.79 392.11" stroke-opacity="0.75"/><path d="M404.93 373.54L404.77 378.61" stroke-opacity="0.5"/><path d="M408.82 373.75L408.51 377.79" stroke-opacity="0.47"/></g>
<g stroke="#7460ec" stroke-width="0.8"><path d="M407.95 409.03L404.84 435.54" stroke-opacity="0.79"/><path d="M408.94 409.15L405.91 431.03" stroke-opacity="0.87"/><path d="M410.91 409.47L407.04 430.79" stroke-opacity="0.98"/><path d="M411.89 409.66L406.42 436.53" stroke-opacity="0.54"/><path d="M412.86 409.86L406.37 438.69" stroke-opacity="0.74"/><path d="M413.83 410.09L406.83 438.39" stroke-opacity="0.46"/><path d="M414.8 410.34L408.53 433.58" stroke-opacity="0.81"/><path d="M415.76 410.61L407.44 439.07" stroke-opacity="0.46"/><path d="M416.71 410.9L407.5 440.12" stroke-opacity="0.91"/><path d="M417.66 411.21L410.63 431.99" stroke-opacity="0.51"/><path d="M418.6 411.54L411.06 432.39" stroke-opacity="0.47"/><path d="M419.54 411.89L418.08 415.67" stroke-opacity="0.57"/><path d="M420.46 412.26L408.9 440.44" stroke-opacity="0.99"/><path d="M421.38 412.65L411.72 434.86" stroke-opacity="0.92"/><path d="M422.29 413.06L415.42 428" stroke-opacity="0.45"/><path d="M423.19 413.48L421.1 417.8" stroke-opacity="0.8"/><path d="M424.08 413.93L413.48 434.65" stroke-opacity="0.55"/><path d="M424.97 414.39L413.98 434.8" stroke-opacity="0.48"/><path d="M425.84 414.87L411.46 440.28" stroke-opacity="0.53"/><path d="M426.7 415.37L418.42 429.32" stroke-opacity="0.9"/><path d="M427.55 415.89L414.97 436.1" stroke-opacity="0.51"/><path d="M429.26 417L418.23 433.13" stroke-opacity="0.82"/><path d="M430.88 418.16L414.21 440.48" stroke-opacity="0.96"/><path d="M431.67 418.77L424.22 428.33" stroke-opacity="0.51"/><path d="M432.45 419.39L423.12 430.85" stroke-opacity="0.4"/><path d="M433.22 420.02L422.78 432.31" stroke-opacity="0.87"/><path d="M433.97 420.68L428.84 426.46" stroke-opacity="0.51"/><path d="M434.71 421.35L429.12 427.4" stroke-opacity="0.47"/><path d="M435.44 422.03L424.08 433.81" stroke-opacity="0.42"/><path d="M436.15 422.73L430.41 428.44" stroke-opacity="0.64"/><path d="M436.84 423.44L420.69 438.86" stroke-opacity="0.99"/><path d="M437.52 424.17L423.77 436.75" stroke-opacity="0.8"/><path d="M438.19 424.92L415.99 444.39" stroke-opacity="0.83"/><path d="M438.84 425.67L425.34 437.02" stroke-opacity="0.68"/><path d="M439.47 426.44L416.97 444.56" stroke-opacity="0.51"/><path d="M440.09 427.22L422.63 440.69" stroke-opacity="0.38"/><path d="M440.69 428.02L432.37 434.16" stroke-opacity="0.79"/><path d="M441.27 428.83L415.89 446.77" stroke-opacity="0.98"/><path d="M441.84 429.65L426.97 439.7" stroke-opacity="0.78"/><path d="M442.39 430.48L435.72 434.79" stroke-opacity="0.94"/><path d="M442.92 431.32L426.3 441.57" stroke-opacity="0.85"/><path d="M443.85 432.9L418.72 447.08" stroke-opacity="0.71"/><path d="M444.33 433.77L434.32 439.15" stroke-opacity="0.59"/><path d="M444.79 434.65L429.92 442.25" stroke-opacity="0.37"/><path d="M445.24 435.55L440.75 437.72" stroke-opacity="0.79"/><path d="M445.66 436.45L423.15 446.78" stroke-opacity="0.57"/><path d="M446.07 437.36L425.31 446.36" stroke-opacity="0.93"/><path d="M446.46 438.28L434.72 443.08" stroke-opacity="0.52"/><path d="M446.82 439.2L422.32 448.63" stroke-opacity="0.39"/><path d="M447.17 440.14L420.91 449.62" stroke-opacity="0.62"/><path d="M447.5 441.08L420.48 450.2" stroke-opacity="0.45"/><path d="M447.81 442.03L442.33 443.75" stroke-opacity="0.78"/><path d="M448.1 442.98L425.84 449.47" stroke-opacity="0.54"/><path d="M448.62 444.91L418.47 452.34" stroke-opacity="0.6"/><path d="M448.84 445.88L419.26 452.52" stroke-opacity="0.43"/><path d="M449.05 446.85L436.93 449.31" stroke-opacity="0.52"/><path d="M449.24 447.83L430.35 451.25" stroke-opacity="0.73"/><path d="M449.55 449.8L435.96 451.67" stroke-opacity="0.64"/><path d="M449.68 450.79L444.31 451.41" stroke-opacity="0.72"/><path d="M449.78 451.78L434.87 453.2" stroke-opacity="0.81"/><path d="M449.9 453.27L438.35 454.01" stroke-opacity="0.97"/><path d="M449.96 454.27L429.79 455.13" stroke-opacity="0.42"/><path d="M449.99 455.26L434.3 455.6" stroke-opacity="0.77"/><path d="M450 456.26L425.73 456.28" stroke-opacity="0.58"/><path d="M449.99 457.26L421.77 456.69" stroke-opacity="0.36"/><path d="M449.96 458.25L445.01 458.05" stroke-opacity="0.37"/><path d="M449.91 459.25L432.98 458.2" stroke-opacity="0.91"/><path d="M449.74 461.23L419.13 458.04" stroke-opacity="0.74"/><path d="M449.5 463.21L424.91 459.6" stroke-opacity="0.36"/><path d="M449.34 464.2L426.97 460.43" stroke-opacity="0.38"/><path d="M449.16 465.18L426.36 460.85" stroke-opacity="0.96"/><path d="M448.97 466.16L429.67 462.07" stroke-opacity="0.62"/><path d="M448.75 467.13L425.09 461.6" stroke-opacity="0.57"/><path d="M448.51 468.1L426.91 462.57" stroke-opacity="0.66"/><path d="M448.26 469.06L444.28 467.95" stroke-opacity="0.45"/><path d="M447.81 470.57L429.71 464.89" stroke-opacity="0.6"/><path d="M447.5 471.52L426.75 464.52" stroke-opacity="0.89"/><path d="M447.17 472.46L436.32 468.55" stroke-opacity="0.67"/><path d="M446.82 473.4L425.62 465.24" stroke-opacity="0.58"/><path d="M446.46 474.32L430.43 467.77" stroke-opacity="0.63"/><path d="M446.07 475.24L421.1 464.41" stroke-opacity="0.49"/><path d="M445.66 476.15L433.52 470.58" stroke-opacity="0.38"/><path d="M445.24 477.05L435.99 472.58" stroke-opacity="0.49"/><path d="M444.79 477.95L429.52 470.15" stroke-opacity="0.87"/><path d="M444.33 478.83L423.9 467.85" stroke-opacity="0.81"/><path d="M443.85 479.7L417 464.54" stroke-opacity="0.91"/><path d="M443.35 480.57L427.51 471.18" stroke-opacity="0.96"/><path d="M442.83 481.42L422.56 468.82" stroke-opacity="0.63"/><path d="M442.3 482.26L421.35 468.63" stroke-opacity="0.68"/><path d="M441.75 483.09L419.11 467.67" stroke-opacity="0.65"/><path d="M440.88 484.31L430.38 476.67" stroke-opacity="0.62"/><path d="M440.29 485.11L424.99 473.48" stroke-opacity="0.65"/><path d="M439.68 485.9L433.27 480.81" stroke-opacity="0.43"/><path d="M439.05 486.67L432.42 481.18" stroke-opacity="0.67"/><path d="M438.41 487.43L415.16 467.33" stroke-opacity="0.75"/><path d="M437.75 488.18L427.93 479.33" stroke-opacity="0.95"/><path d="M437.07 488.91L421.18 473.96" stroke-opacity="0.53"/><path d="M436.38 489.63L414.51 468.18" stroke-opacity="0.52"/><path d="M435.67 490.34L428.06 482.55" stroke-opacity="0.71"/><path d="M434.95 491.03L419.12 474.13" stroke-opacity="0.89"/><path d="M434.22 491.7L429.34 486.27" stroke-opacity="0.42"/><path d="M433.47 492.36L417.77 474.13" stroke-opacity="0.48"/><path d="M432.71 493L430.08 489.81" stroke-opacity="0.94"/><path d="M431.93 493.63L418.05 476.09" stroke-opacity="0.49"/><path d="M431.15 494.24L416.51 474.93" stroke-opacity="0.82"/><path d="M429.74 495.27L424.02 487.11" stroke-opacity="0.44"/><path d="M428.91 495.83L411.55 469.94" stroke-opacity="1"/><path d="M428.08 496.38L424.15 490.25" stroke-opacity="0.48"/><path d="M427.24 496.91L422.04 488.4" stroke-opacity="0.6"/><path d="M426.38 497.42L414.03 476.24" stroke-opacity="0.46"/><path d="M425.51 497.91L413.28 475.88" stroke-opacity="0.43"/><path d="M424.64 498.39L417.67 485.19" stroke-opacity="0.35"/><path d="M423.75 498.84L419.38 490.13" stroke-opacity="0.96"/><path d="M422.85 499.28L416.73 486.42" stroke-opacity="0.67"/><path d="M421.95 499.7L413.22 480.32" stroke-opacity="0.54"/><path d="M421.04 500.1L418.1 493.21" stroke-opacity="0.69"/><path d="M420.12 500.48L415.48 488.91" stroke-opacity="0.38"/><path d="M419.19 500.84L414.58 488.62" stroke-opacity="0.37"/><path d="M418.25 501.18L411.54 482.2" stroke-opacity="0.57"/><path d="M417.31 501.51L413.25 489.19" stroke-opacity="0.86"/><path d="M416.12 501.88L411.45 486.36" stroke-opacity="0.83"/><path d="M415.16 502.16L413.17 495" stroke-opacity="0.96"/><path d="M414.2 502.41L409.76 485.08" stroke-opacity="0.89"/><path d="M413.23 502.65L409.62 487.2" stroke-opacity="0.71"/><path d="M412.26 502.87L405.91 472.86" stroke-opacity="0.45"/><path d="M411.28 503.06L409.19 492.08" stroke-opacity="0.47"/><path d="M410.3 503.24L406.61 481.32" stroke-opacity="0.45"/><path d="M409.31 503.4L406.5 484.22" stroke-opacity="0.46"/><path d="M408.32 503.53L407.1 493.8" stroke-opacity="0.75"/><path d="M407.33 503.64L404.62 477.6" stroke-opacity="0.46"/><path d="M405.35 503.81L403.85 479.64" stroke-opacity="0.6"/><path d="M404.35 503.86L403.32 478.61" stroke-opacity="0.64"/><path d="M403.36 503.89L403.1 491.02" stroke-opacity="0.44"/><path d="M401.94 503.9L402.07 491" stroke-opacity="0.93"/><path d="M400.95 503.88L401.83 474.94" stroke-opacity="0.38"/><path d="M399.95 503.84L400.64 490.39" stroke-opacity="0.94"/><path d="M397.96 503.69L399.9 482.97" stroke-opacity="0.45"/><path d="M396.97 503.59L400.23 475.2" stroke-opacity="0.73"/><path d="M395.98 503.47L398.52 484.84" stroke-opacity="0.53"/><path d="M394.99 503.32L397.76 485.75" stroke-opacity="0.6"/><path d="M394.01 503.16L396.91 486.98" stroke-opacity="0.49"/><path d="M393.03 502.97L398.42 476.12" stroke-opacity="0.5"/><path d="M392.06 502.76L396.82 481.37" stroke-opacity="0.48"/><path d="M391.09 502.54L397.89 474.74" stroke-opacity="0.98"/><path d="M390.12 502.29L394.67 485.23" stroke-opacity="0.48"/><path d="M389.16 502.02L396.85 475.46" stroke-opacity="0.47"/><path d="M387.97 501.66L395.45 478.14" stroke-opacity="0.85"/><path d="M387.02 501.35L394.67 478.95" stroke-opacity="0.45"/><path d="M386.08 501.02L392.32 483.92" stroke-opacity="0.51"/><path d="M385.15 500.66L394.77 475.91" stroke-opacity="0.8"/><path d="M384.22 500.29L387.72 491.83" stroke-opacity="0.54"/><path d="M383.31 499.9L392.49 478.94" stroke-opacity="0.64"/><path d="M382.4 499.49L387.58 488.31" stroke-opacity="0.71"/><path d="M381.5 499.06L394.48 472.5" stroke-opacity="0.83"/><path d="M380.61 498.62L389.69 480.97" stroke-opacity="0.46"/><path d="M379.72 498.15L388.51 481.93" stroke-opacity="0.47"/><path d="M378.85 497.67L392.81 473.15" stroke-opacity="0.76"/><path d="M377.99 497.17L382.63 489.39" stroke-opacity="0.81"/><path d="M377.14 496.65L383.77 486.05" stroke-opacity="0.4"/><path d="M375.4 495.5L387.54 477.88" stroke-opacity="0.99"/><path d="M374.59 494.93L388.47 475.65" stroke-opacity="0.53"/><path d="M373.79 494.34L384.19 480.5" stroke-opacity="0.78"/><path d="M373 493.73L380.53 484.14" stroke-opacity="0.53"/><path d="M372.22 493.11L375.54 489.06" stroke-opacity="0.7"/><path d="M371.45 492.47L378.61 484.11" stroke-opacity="0.52"/><path d="M370.7 491.81L373.68 488.48" stroke-opacity="0.63"/><path d="M369.97 491.14L386.4 473.49" stroke-opacity="0.55"/><path d="M369.24 490.45L372.46 487.14" stroke-opacity="0.53"/><path d="M368.54 489.75L385.57 472.92" stroke-opacity="0.66"/><path d="M367.84 489.04L386.83 471.05" stroke-opacity="0.8"/><path d="M366.89 488L389.97 467.39" stroke-opacity="0.42"/><path d="M366.23 487.25L372.46 481.91" stroke-opacity="0.72"/><path d="M365.59 486.48L378.47 475.92" stroke-opacity="0.73"/><path d="M364.97 485.7L383.46 471.18" stroke-opacity="0.36"/><path d="M364.36 484.91L376.66 475.66" stroke-opacity="0.63"/><path d="M363.77 484.11L377.17 474.46" stroke-opacity="1"/><path d="M363.2 483.3L386.37 467.34" stroke-opacity="0.38"/><path d="M362.64 482.47L370.2 477.49" stroke-opacity="0.48"/><path d="M362.1 481.63L369.28 477.11" stroke-opacity="0.6"/><path d="M361.58 480.78L375.6 472.37" stroke-opacity="0.77"/><path d="M361.07 479.92L384.9 466.3" stroke-opacity="0.52"/><path d="M360.35 478.61L376.09 470.26" stroke-opacity="0.78"/><path d="M359.89 477.72L376.18 469.51" stroke-opacity="0.53"/><path d="M359.45 476.83L376.55 468.66" stroke-opacity="0.78"/><path d="M359.03 475.93L386.51 463.49" stroke-opacity="0.74"/><path d="M358.63 475.01L372.26 469.19" stroke-opacity="0.51"/><path d="M358.25 474.09L383.18 464.05" stroke-opacity="0.54"/><path d="M357.89 473.16L380.48 464.6" stroke-opacity="0.6"/><path d="M357.54 472.23L384.33 462.72" stroke-opacity="0.57"/><path d="M357.22 471.29L367.79 467.78" stroke-opacity="0.42"/><path d="M356.35 468.34L366.01 465.81" stroke-opacity="0.43"/><path d="M356.11 467.37L379.15 461.86" stroke-opacity="0.69"/><path d="M355.88 466.4L377.3 461.75" stroke-opacity="0.53"/><path d="M355.68 465.42L365.59 463.49" stroke-opacity="0.51"/><path d="M355.5 464.44L369.02 462.1" stroke-opacity="0.97"/><path d="M355.34 463.46L366.54 461.76" stroke-opacity="0.5"/><path d="M355.2 462.47L384.44 458.65" stroke-opacity="0.43"/><path d="M355.08 461.48L380.21 458.73" stroke-opacity="0.7"/><path d="M354.98 460.49L370.66 459.1" stroke-opacity="0.88"/><path d="M354.91 459.5L372.17 458.33" stroke-opacity="0.7"/><path d="M354.84 458.17L368.68 457.62" stroke-opacity="0.73"/><path d="M354.81 457.17L380.87 456.69" stroke-opacity="0.45"/><path d="M354.8 456.18L378.18 456.24" stroke-opacity="0.56"/><path d="M354.81 455.18L361.07 455.33" stroke-opacity="0.9"/><path d="M354.85 454.18L359.11 454.37" stroke-opacity="0.48"/><path d="M354.9 453.19L366.63 453.96" stroke-opacity="0.92"/><path d="M354.98 452.19L377.45 454.14" stroke-opacity="0.73"/><path d="M355.07 451.2L374.28 453.27" stroke-opacity="0.44"/><path d="M355.19 450.21L363.3 451.26" stroke-opacity="0.51"/><path d="M355.33 449.22L370.36 451.48" stroke-opacity="0.56"/><path d="M355.78 446.69L383.86 452.48" stroke-opacity="0.77"/><path d="M355.99 445.71L369.84 448.87" stroke-opacity="0.69"/><path d="M356.22 444.74L385.25 452.01" stroke-opacity="0.66"/><path d="M356.48 443.78L367.65 446.83" stroke-opacity="0.42"/><path d="M356.75 442.82L363.07 444.69" stroke-opacity="0.67"/><path d="M357.04 441.87L381.81 449.75" stroke-opacity="0.83"/><path d="M357.35 440.92L369.73 445.15" stroke-opacity="0.76"/><path d="M357.68 439.98L368.24 443.83" stroke-opacity="0.58"/><path d="M358.04 439.05L386.99 450.31" stroke-opacity="0.36"/><path d="M358.5 437.89L370.09 442.75" stroke-opacity="0.38"/><path d="M358.9 436.98L383.31 447.82" stroke-opacity="0.72"/><path d="M359.31 436.07L379.25 445.43" stroke-opacity="0.95"/><path d="M359.75 435.17L384.14 447.26" stroke-opacity="0.66"/><path d="M360.2 434.28L371.96 440.42" stroke-opacity="0.83"/><path d="M360.67 433.4L371.4 439.29" stroke-opacity="0.46"/><path d="M361.16 432.54L376.42 441.33" stroke-opacity="0.5"/><path d="M361.66 431.68L373.44 438.8" stroke-opacity="0.48"/><path d="M362.64 430.13L384.29 444.38" stroke-opacity="0.7"/><path d="M363.2 429.3L382.97 442.92" stroke-opacity="0.62"/><path d="M363.77 428.49L379.73 439.98" stroke-opacity="0.74"/><path d="M364.36 427.69L374.84 435.57" stroke-opacity="0.41"/><path d="M364.97 426.9L383.71 441.62" stroke-opacity="0.35"/><path d="M365.59 426.12L378.26 436.51" stroke-opacity="0.49"/><path d="M366.23 425.35L371.82 430.14" stroke-opacity="0.42"/><path d="M366.89 424.6L380.45 436.71" stroke-opacity="0.94"/><path d="M367.56 423.87L377.11 432.76" stroke-opacity="0.84"/><path d="M368.42 422.97L390.32 444.45" stroke-opacity="0.44"/><path d="M369.13 422.26L377.32 430.64" stroke-opacity="0.69"/><path d="M369.85 421.57L385.08 437.83" stroke-opacity="1"/><path d="M370.58 420.9L380.06 431.44" stroke-opacity="0.95"/><path d="M371.33 420.24L379.44 429.65" stroke-opacity="0.77"/><path d="M372.87 418.97L380.49 428.6" stroke-opacity="0.98"/><path d="M373.65 418.36L387.8 437.03" stroke-opacity="0.87"/><path d="M374.86 417.48L391.32 440.68" stroke-opacity="0.42"/><path d="M375.68 416.91L381.88 426.05" stroke-opacity="0.59"/><path d="M376.51 416.36L392.89 441.63" stroke-opacity="0.49"/><path d="M377.35 415.82L381.66 422.79" stroke-opacity="0.4"/><path d="M378.21 415.31L385.73 428.06" stroke-opacity="0.56"/><path d="M379.07 414.81L394.38 442.03" stroke-opacity="0.82"/><path d="M380.98 413.79L391.24 434.15" stroke-opacity="0.52"/><path d="M381.87 413.35L392.74 436.08" stroke-opacity="0.35"/><path d="M382.77 412.93L392.68 434.81" stroke-opacity="0.71"/><path d="M383.69 412.53L395.97 441.25" stroke-opacity="0.74"/><path d="M384.61 412.15L395.25 438.55" stroke-opacity="0.75"/><path d="M385.92 411.64L391.12 425.74" stroke-opacity="0.37"/><path d="M386.86 411.31L391.96 426.06" stroke-opacity="0.81"/><path d="M387.81 410.99L393.68 429.21" stroke-opacity="0.82"/><path d="M389 410.62L392.08 421.14" stroke-opacity="0.38"/><path d="M392.06 409.84L396.28 428.82" stroke-opacity="0.9"/><path d="M393.03 409.63L393.86 413.77" stroke-opacity="0.59"/><path d="M394.01 409.44L399.19 438.35" stroke-opacity="0.38"/><path d="M394.99 409.28L398.21 429.67" stroke-opacity="0.9"/><path d="M395.98 409.13L397.07 417.17" stroke-opacity="0.46"/><path d="M396.97 409.01L399.83 433.87" stroke-opacity="0.37"/><path d="M397.96 408.91L399.84 428.92" stroke-opacity="0.39"/><path d="M398.96 408.82L399.89 421.68" stroke-opacity="0.5"/><path d="M399.95 408.76L400.53 419.98" stroke-opacity="0.55"/><path d="M400.95 408.72L401.08 412.97" stroke-opacity="0.74"/><path d="M401.94 408.7L402.1 425.1" stroke-opacity="0.51"/><path d="M402.94 408.7L402.71 429.36" stroke-opacity="0.47"/><path d="M403.94 408.72L403.13 433.61" stroke-opacity="0.47"/><path d="M406.01 408.84L404.8 424.75" stroke-opacity="0.77"/></g>
<text x="446.52" y="328.89" transform="rotate(19.1 446.52 328.89)" font-size="6.0" text-anchor="middle" dominant-baseline="central" fill="#111" stroke="#111" stroke-width="0.15">1</text><text x="417.22" y="330.17" transform="rotate(-83.3 417.22 330.17)" font-size="3.7" text-anchor="middle" dominant-baseline="central" fill="#555" font-weight="bold">0</text><text x="425.33" y="331.39" transform="rotate(-79.6 425.33 331.39)" font-size="3.7" text-anchor="middle" dominant-baseline="central" fill="#555" font-weight="bold">10</text><text x="433.34" y="333.13" transform="rotate(-75.9 433.34 333.13)" font-size="3.7" text-anchor="middle" dominant-baseline="central" fill="#555" font-weight="bold">20</text><text x="441.22" y="335.38" transform="rotate(-72.2 441.22 335.38)" font-size="3.7" text-anchor="middle" dominant-baseline="central" fill="#555" font-weight="bold">30</text><text x="448.95" y="338.14" transform="rotate(-68.5 448.95 338.14)" font-size="3.7" text-anchor="middle" dominant-baseline="central" fill="#555" font-weight="bold">40</text><text x="456.47" y="341.39" transform="rotate(-64.8 456.47 341.39)" font-size="3.7" text-anchor="middle" dominant-baseline="central" fill="#555" font-weight="bold">50</text><text x="463.78" y="345.12" transform="rotate(-61.1 463.78 345.12)" font-size="3.7" text-anchor="middle" dominant-baseline="central" fill="#555" font-weight="bold">60</text><text x="500.31" y="364.36" transform="rotate(46.8 500.31 364.36)" font-size="6.0" text-anchor="middle" dominant-baseline="central" fill="#111" stroke="#111" stroke-width="0.15">2</text><text x="474.06" y="351.45" transform="rotate(-55.65 474.06 351.45)" font-size="3.7" text-anchor="middle" dominant-baseline="central" fill="#555" font-weight="bold">0</text><text x="480.68" y="356.29" transform="rotate(-51.95 480.68 356.29)" font-size="3.7" text-anchor="middle" dominant-baseline="central" fill="#555" font-weight="bold">10</text><text x="486.97" y="361.55" transform="rotate(-48.25 486.97 361.55)" font-size="3.7" text-anchor="middle" dominant-baseline="central" fill="#555" font-weight="bold">20</text><text x="492.91" y="367.21" transform="rotate(-44.55 492.91 367.21)" font-size="3.7" text-anchor="middle" dominant-baseline="central" fill="#555" font-weight="bold">30</text><text x="498.47" y="373.23" transform="rotate(-40.85 498.47 373.23)" font-size="3.7" text-anchor="middle" dominant-baseline="central" fill="#555" font-weight="bold">40</text><text x="503.63" y="379.6" transform="rotate(-37.15 503.63 379.6)" font-size="3.7" text-anchor="middle" dominant-baseline="central" fill="#555" font-weight="bold">50</text><text x="508.36" y="386.3" transform="rotate(-33.45 508.36 386.3)" font-size="3.7" text-anchor="middle" dominant-baseline="central" fill="#555" font-weight="bold">60</text><text x="529.78" y="417.11" transform="rotate(72.9 529.78 417.11)" font-size="6.0" text-anchor="middle" dominant-baseline="central" fill="#111" stroke="#111" stroke-width="0.15">3</text><text x="512.99" y="393.86" transform="rotate(-29.45 512.99 393.86)" font-size="3.7" text-anchor="middle" dominant-baseline="central" fill="#555" font-weight="bold">0</text><text x="516.79" y="401.13" transform="rotate(-25.75 516.79 401.13)" font-size="3.7" text-anchor="middle" dominant-baseline="central" fill="#555" font-weight="bold">10</text><text x="520.11" y="408.62" transform="rotate(-22.05 520.11 408.62)" font-size="3.7" text-anchor="middle" dominant-baseline="central" fill="#555" font-weight="bold">20</text><text x="522.94" y="416.32" transform="rotate(-18.35 522.94 416.32)" font-size="3.7" text-anchor="middle" dominant-baseline="central" fill="#555" font-weight="bold">30</text><text x="525.27" y="424.18" transform="rotate(-14.65 525.27 424.18)" font-size="3.7" text-anchor="middle" dominant-baseline="central" fill="#555" font-weight="bold">40</text><text x="527.09" y="432.18" transform="rotate(-10.95 527.09 432.18)" font-size="3.7" text-anchor="middle" dominant-baseline="central" fill="#555" font-weight="bold">50</text><text x="528.38" y="440.27" transform="rotate(-7.25 528.38 440.27)" font-size="3.7" text-anchor="middle" dominant-baseline="central" fill="#555" font-weight="bold">60</text><text x="534.59" y="467.4" transform="rotate(-85.2 534.59 467.4)" font-size="6.0" text-anchor="middle" dominant-baseline="central" fill="#111" stroke="#111" stroke-width="0.15">4</text><text x="529.14" y="448.21" transform="rotate(-3.65 529.14 448.21)" font-size="3.7" text-anchor="middle" dominant-baseline="central" fill="#555" font-weight="bold">0</text><text x="529.4" y="456.41" transform="rotate(0.05 529.4 456.41)" font-size="3.7" text-anchor="middle" dominant-baseline="central" fill="#555" font-weight="bold">10</text><text x="529.13" y="464.61" transform="rotate(3.75 529.13 464.61)" font-size="3.7" text-anchor="middle" dominant-baseline="central" fill="#555" font-weight="bold">20</text><text x="528.33" y="472.77" transform="rotate(7.45 528.33 472.77)" font-size="3.7" text-anchor="middle" dominant-baseline="central" fill="#555" font-weight="bold">30</text><text x="527" y="480.86" transform="rotate(11.15 527 480.86)" font-size="3.7" text-anchor="middle" dominant-baseline="central" fill="#555" font-weight="bold">40</text><text x="525.16" y="488.85" transform="rotate(14.85 525.16 488.85)" font-size="3.7" text-anchor="middle" dominant-baseline="central" fill="#555" font-weight="bold">50</text><text x="522.32" y="513.24" transform="rotate(-64.6 522.32 513.24)" font-size="6.0" text-anchor="middle" dominant-baseline="central" fill="#111" stroke="#111" stroke-width="0.15">5</text><text x="523.56" y="494.38" transform="rotate(17.45 523.56 494.38)" font-size="3.7" text-anchor="middle" dominant-baseline="central" fill="#555" font-weight="bold">0</text><text x="520.85" y="502.12" transform="rotate(21.15 520.85 502.12)" font-size="3.7" text-anchor="middle" dominant-baseline="central" fill="#555" font-weight="bold">10</text><text x="517.64" y="509.67" transform="rotate(24.85 517.64 509.67)" font-size="3.7" text-anchor="middle" dominant-baseline="central" fill="#555" font-weight="bold">20</text><text x="513.96" y="517" transform="rotate(28.55 513.96 517)" font-size="3.7" text-anchor="middle" dominant-baseline="central" fill="#555" font-weight="bold">30</text><text x="509.81" y="524.07" transform="rotate(32.25 509.81 524.07)" font-size="3.7" text-anchor="middle" dominant-baseline="central" fill="#555" font-weight="bold">40</text><text x="497.89" y="548.83" transform="rotate(-45.9 497.89 548.83)" font-size="6.0" text-anchor="middle" dominant-baseline="central" fill="#111" stroke="#111" stroke-width="0.15">6</text><text x="505.08" y="531.04" transform="rotate(36.05 505.08 531.04)" font-size="3.7" text-anchor="middle" dominant-baseline="central" fill="#555" font-weight="bold">0</text><text x="500.04" y="537.51" transform="rotate(39.75 500.04 537.51)" font-size="3.7" text-anchor="middle" dominant-baseline="central" fill="#555" font-weight="bold">10</text><text x="494.6" y="543.64" transform="rotate(43.45 494.6 543.64)" font-size="3.7" text-anchor="middle" dominant-baseline="central" fill="#555" font-weight="bold">20</text><text x="488.77" y="549.41" transform="rotate(47.15 488.77 549.41)" font-size="3.7" text-anchor="middle" dominant-baseline="central" fill="#555" font-weight="bold">30</text><text x="482.58" y="554.79" transform="rotate(50.85 482.58 554.79)" font-size="3.7" text-anchor="middle" dominant-baseline="central" fill="#555" font-weight="bold">40</text><text x="462.26" y="575.84" transform="rotate(-26.6 462.26 575.84)" font-size="6.0" text-anchor="middle" dominant-baseline="central" fill="#111" stroke="#111" stroke-width="0.15">7</text><text x="475.33" y="560.27" transform="rotate(54.95 475.33 560.27)" font-size="3.7" text-anchor="middle" dominant-baseline="central" fill="#555" font-weight="bold">0</text><text x="468.47" y="564.76" transform="rotate(58.65 468.47 564.76)" font-size="3.7" text-anchor="middle" dominant-baseline="central" fill="#555" font-weight="bold">10</text><text x="461.34" y="568.8" transform="rotate(62.35 461.34 568.8)" font-size="3.7" text-anchor="middle" dominant-baseline="central" fill="#555" font-weight="bold">20</text><text x="453.95" y="572.37" transform="rotate(66.05 453.95 572.37)" font-size="3.7" text-anchor="middle" dominant-baseline="central" fill="#555" font-weight="bold">30</text><text x="446.36" y="575.45" transform="rotate(69.75 446.36 575.45)" font-size="3.7" text-anchor="middle" dominant-baseline="central" fill="#555" font-weight="bold">40</text><text x="423.28" y="589.61" transform="rotate(-8.9 423.28 589.61)" font-size="6.0" text-anchor="middle" dominant-baseline="central" fill="#111" stroke="#111" stroke-width="0.15">8</text><text x="439" y="577.91" transform="rotate(73.25 439 577.91)" font-size="3.7" text-anchor="middle" dominant-baseline="central" fill="#555" font-weight="bold">0</text><text x="431.08" y="580.02" transform="rotate(76.95 431.08 580.02)" font-size="3.7" text-anchor="middle" dominant-baseline="central" fill="#555" font-weight="bold">10</text><text x="423.03" y="581.61" transform="rotate(80.65 423.03 581.61)" font-size="3.7" text-anchor="middle" dominant-baseline="central" fill="#555" font-weight="bold">20</text><text x="414.9" y="582.68" transform="rotate(84.35 414.9 582.68)" font-size="3.7" text-anchor="middle" dominant-baseline="central" fill="#555" font-weight="bold">30</text><text x="406.72" y="583.23" transform="rotate(88.05 406.72 583.23)" font-size="3.7" text-anchor="middle" dominant-baseline="central" fill="#555" font-weight="bold">40</text><text x="383.88" y="589.75" transform="rotate(7.9 383.88 589.75)" font-size="6.0" text-anchor="middle" dominant-baseline="central" fill="#111" stroke="#111" stroke-width="0.15">9</text><text x="401.18" y="583.29" transform="rotate(90.55 401.18 583.29)" font-size="3.7" text-anchor="middle" dominant-baseline="central" fill="#555" font-weight="bold">0</text><text x="392.99" y="582.95" transform="rotate(94.25 392.99 582.95)" font-size="3.7" text-anchor="middle" dominant-baseline="central" fill="#555" font-weight="bold">10</text><text x="384.83" y="582.08" transform="rotate(97.95 384.83 582.08)" font-size="3.7" text-anchor="middle" dominant-baseline="central" fill="#555" font-weight="bold">20</text><text x="376.75" y="580.68" transform="rotate(101.65 376.75 580.68)" font-size="3.7" text-anchor="middle" dominant-baseline="central" fill="#555" font-weight="bold">30</text><text x="368.78" y="578.77" transform="rotate(105.35 368.78 578.77)" font-size="3.7" text-anchor="middle" dominant-baseline="central" fill="#555" font-weight="bold">40</text><text x="344.85" y="576.97" transform="rotate(25.5 344.85 576.97)" font-size="6.0" text-anchor="middle" dominant-baseline="central" fill="#111" stroke="#111" stroke-width="0.15">10</text><text x="363.89" y="577.32" transform="rotate(107.65 363.89 577.32)" font-size="3.7" text-anchor="middle" dominant-baseline="central" fill="#555" font-weight="bold">0</text><text x="356.16" y="574.58" transform="rotate(111.35 356.16 574.58)" font-size="3.7" text-anchor="middle" dominant-baseline="central" fill="#555" font-weight="bold">10</text><text x="348.63" y="571.35" transform="rotate(115.05 348.63 571.35)" font-size="3.7" text-anchor="middle" dominant-baseline="central" fill="#555" font-weight="bold">20</text><text x="341.31" y="567.64" transform="rotate(118.75 341.31 567.64)" font-size="3.7" text-anchor="middle" dominant-baseline="central" fill="#555" font-weight="bold">30</text><text x="334.26" y="563.47" transform="rotate(122.45 334.26 563.47)" font-size="3.7" text-anchor="middle" dominant-baseline="central" fill="#555" font-weight="bold">40</text><text x="315.42" y="557.42" transform="rotate(40.7 315.42 557.42)" font-size="6.0" text-anchor="middle" dominant-baseline="central" fill="#111" stroke="#111" stroke-width="0.15">11</text><text x="330.38" y="560.9" transform="rotate(124.55 330.38 560.9)" font-size="3.7" text-anchor="middle" dominant-baseline="central" fill="#555" font-weight="bold">0</text><text x="323.78" y="556.04" transform="rotate(128.25 323.78 556.04)" font-size="3.7" text-anchor="middle" dominant-baseline="central" fill="#555" font-weight="bold">10</text><text x="317.5" y="550.75" transform="rotate(131.95 317.5 550.75)" font-size="3.7" text-anchor="middle" dominant-baseline="central" fill="#555" font-weight="bold">20</text><text x="311.58" y="545.08" transform="rotate(135.65 311.58 545.08)" font-size="3.7" text-anchor="middle" dominant-baseline="central" fill="#555" font-weight="bold">30</text><text x="293.58" y="533.06" transform="rotate(54.8 293.58 533.06)" font-size="6.0" text-anchor="middle" dominant-baseline="central" fill="#111" stroke="#111" stroke-width="0.15">12</text><text x="307.65" y="540.87" transform="rotate(138.25 307.65 540.87)" font-size="3.7" text-anchor="middle" dominant-baseline="central" fill="#555" font-weight="bold">0</text><text x="302.39" y="534.58" transform="rotate(141.95 302.39 534.58)" font-size="3.7" text-anchor="middle" dominant-baseline="central" fill="#555" font-weight="bold">10</text><text x="297.55" y="527.96" transform="rotate(145.65 297.55 527.96)" font-size="3.7" text-anchor="middle" dominant-baseline="central" fill="#555" font-weight="bold">20</text><text x="293.14" y="521.04" transform="rotate(149.35 293.14 521.04)" font-size="3.7" text-anchor="middle" dominant-baseline="central" fill="#555" font-weight="bold">30</text><text x="277.65" y="504.94" transform="rotate(68.7 277.65 504.94)" font-size="6.0" text-anchor="middle" dominant-baseline="central" fill="#111" stroke="#111" stroke-width="0.15">13</text><text x="290.21" y="515.83" transform="rotate(152.05 290.21 515.83)" font-size="3.7" text-anchor="middle" dominant-baseline="central" fill="#555" font-weight="bold">0</text><text x="286.61" y="508.46" transform="rotate(155.75 286.61 508.46)" font-size="3.7" text-anchor="middle" dominant-baseline="central" fill="#555" font-weight="bold">10</text><text x="283.48" y="500.88" transform="rotate(159.45 283.48 500.88)" font-size="3.7" text-anchor="middle" dominant-baseline="central" fill="#555" font-weight="bold">20</text><text x="280.85" y="493.11" transform="rotate(163.15 280.85 493.11)" font-size="3.7" text-anchor="middle" dominant-baseline="central" fill="#555" font-weight="bold">30</text><text x="270.22" y="474.17" transform="rotate(82.3 270.22 474.17)" font-size="6.0" text-anchor="middle" dominant-baseline="central" fill="#111" stroke="#111" stroke-width="0.15">14</text><text x="279.53" y="488.42" transform="rotate(165.35 279.53 488.42)" font-size="3.7" text-anchor="middle" dominant-baseline="central" fill="#555" font-weight="bold">0</text><text x="277.71" y="480.42" transform="rotate(169.05 277.71 480.42)" font-size="3.7" text-anchor="middle" dominant-baseline="central" fill="#555" font-weight="bold">10</text><text x="276.42" y="472.33" transform="rotate(172.75 276.42 472.33)" font-size="3.7" text-anchor="middle" dominant-baseline="central" fill="#555" font-weight="bold">20</text><text x="269.06" y="453.04" transform="rotate(-88.6 269.06 453.04)" font-size="6.0" text-anchor="middle" dominant-baseline="central" fill="#111" stroke="#111" stroke-width="0.15">15</text><text x="275.5" y="461.29" transform="rotate(177.75 275.5 461.29)" font-size="3.7" text-anchor="middle" dominant-baseline="central" fill="#555" font-weight="bold">0</text><text x="275.44" y="453.09" transform="rotate(181.45 275.44 453.09)" font-size="3.7" text-anchor="middle" dominant-baseline="central" fill="#555" font-weight="bold">10</text><text x="275.91" y="444.9" transform="rotate(185.15 275.91 444.9)" font-size="3.7" text-anchor="middle" dominant-baseline="central" fill="#555" font-weight="bold">20</text><text x="272.65" y="423.23" transform="rotate(-75.7 272.65 423.23)" font-size="6.0" text-anchor="middle" dominant-baseline="central" fill="#111" stroke="#111" stroke-width="0.15">16</text><text x="277.51" y="433.27" transform="rotate(190.45 277.51 433.27)" font-size="3.7" text-anchor="middle" dominant-baseline="central" fill="#555" font-weight="bold">0</text><text x="279.25" y="425.25" transform="rotate(194.15 279.25 425.25)" font-size="3.7" text-anchor="middle" dominant-baseline="central" fill="#555" font-weight="bold">10</text><text x="281.51" y="417.37" transform="rotate(197.85 281.51 417.37)" font-size="3.7" text-anchor="middle" dominant-baseline="central" fill="#555" font-weight="bold">20</text><text x="281.27" y="398.52" transform="rotate(-64.5 281.27 398.52)" font-size="6.0" text-anchor="middle" dominant-baseline="central" fill="#111" stroke="#111" stroke-width="0.15">17</text><text x="285.28" y="407.19" transform="rotate(202.75 285.28 407.19)" font-size="3.7" text-anchor="middle" dominant-baseline="central" fill="#555" font-weight="bold">0</text><text x="288.69" y="399.73" transform="rotate(206.45 288.69 399.73)" font-size="3.7" text-anchor="middle" dominant-baseline="central" fill="#555" font-weight="bold">10</text><text x="292.58" y="392.51" transform="rotate(210.15 292.58 392.51)" font-size="3.7" text-anchor="middle" dominant-baseline="central" fill="#555" font-weight="bold">20</text><text x="294.68" y="376.59" transform="rotate(-53.5 294.68 376.59)" font-size="6.0" text-anchor="middle" dominant-baseline="central" fill="#111" stroke="#111" stroke-width="0.15">18</text><text x="296.31" y="386.48" transform="rotate(213.35 296.31 386.48)" font-size="3.7" text-anchor="middle" dominant-baseline="central" fill="#555" font-weight="bold">0</text><text x="301.04" y="379.78" transform="rotate(217.05 301.04 379.78)" font-size="3.7" text-anchor="middle" dominant-baseline="central" fill="#555" font-weight="bold">10</text><text x="306.19" y="373.4" transform="rotate(220.75 306.19 373.4)" font-size="3.7" text-anchor="middle" dominant-baseline="central" fill="#555" font-weight="bold">20</text><text x="311.46" y="357.75" transform="rotate(-42.7 311.46 357.75)" font-size="6.0" text-anchor="middle" dominant-baseline="central" fill="#111" stroke="#111" stroke-width="0.15">19</text><text x="311.74" y="367.36" transform="rotate(224.45 311.74 367.36)" font-size="3.7" text-anchor="middle" dominant-baseline="central" fill="#555" font-weight="bold">0</text><text x="317.67" y="361.7" transform="rotate(228.15 317.67 361.7)" font-size="3.7" text-anchor="middle" dominant-baseline="central" fill="#555" font-weight="bold">10</text><text x="323.95" y="356.43" transform="rotate(231.85 323.95 356.43)" font-size="3.7" text-anchor="middle" dominant-baseline="central" fill="#555" font-weight="bold">20</text><text x="329.47" y="344" transform="rotate(-33 329.47 344)" font-size="6.0" text-anchor="middle" dominant-baseline="central" fill="#111" stroke="#111" stroke-width="0.15">20</text><text x="328.92" y="352.71" transform="rotate(234.65 328.92 352.71)" font-size="3.7" text-anchor="middle" dominant-baseline="central" fill="#555" font-weight="bold">0</text><text x="335.76" y="348.19" transform="rotate(238.35 335.76 348.19)" font-size="3.7" text-anchor="middle" dominant-baseline="central" fill="#555" font-weight="bold">10</text><text x="344.99" y="334.3" transform="rotate(-25.2 344.99 334.3)" font-size="6.0" text-anchor="middle" dominant-baseline="central" fill="#111" stroke="#111" stroke-width="0.15">21</text><text x="345.24" y="342.89" transform="rotate(243.25 345.24 342.89)" font-size="3.7" text-anchor="middle" dominant-baseline="central" fill="#555" font-weight="bold">0</text><text x="352.68" y="339.44" transform="rotate(246.95 352.68 339.44)" font-size="3.7" text-anchor="middle" dominant-baseline="central" fill="#555" font-weight="bold">10</text><text x="355.89" y="329.2" transform="rotate(-20.1 355.89 329.2)" font-size="6.0" text-anchor="middle" dominant-baseline="central" fill="#111" stroke="#111" stroke-width="0.15">22</text><text x="358.44" y="337.15" transform="rotate(249.75 358.44 337.15)" font-size="3.7" text-anchor="middle" dominant-baseline="central" fill="#555" font-weight="bold">0</text><text x="363.8" y="327.65" transform="rotate(-16.7 363.8 327.65)" font-size="6.0" text-anchor="middle" dominant-baseline="central" fill="#111" stroke="#111" stroke-width="0.15">23</text><text x="366.65" y="334.44" transform="rotate(253.65 366.65 334.44)" font-size="3.7" text-anchor="middle" dominant-baseline="central" fill="#555" font-weight="bold">0</text><text x="388.19" y="321.08" transform="rotate(-6 388.19 321.08)" font-size="6.0" text-anchor="middle" dominant-baseline="central" fill="#111" stroke="#111" stroke-width="0.15">X</text><text x="372.21" y="332.94" transform="rotate(256.25 372.21 332.94)" font-size="3.7" text-anchor="middle" dominant-baseline="central" fill="#555" font-weight="bold">0</text><text x="380.24" y="331.25" transform="rotate(259.95 380.24 331.25)" font-size="3.7" text-anchor="middle" dominant-baseline="central" fill="#555" font-weight="bold">10</text><text x="388.35" y="330.08" transform="rotate(263.65 388.35 330.08)" font-size="3.7" text-anchor="middle" dominant-baseline="central" fill="#555" font-weight="bold">20</text><text x="396.53" y="329.44" transform="rotate(267.35 396.53 329.44)" font-size="3.7" text-anchor="middle" dominant-baseline="central" fill="#555" font-weight="bold">30</text><text x="404.73" y="329.32" transform="rotate(-88.95 404.73 329.32)" font-size="3.7" text-anchor="middle" dominant-baseline="central" fill="#555" font-weight="bold">40</text><text x="412.59" y="320.72" transform="rotate(4.3 412.59 320.72)" font-size="6.0" text-anchor="middle" dominant-baseline="central" fill="#111" stroke="#111" stroke-width="0.15">Y</text><text x="412.03" y="329.67" transform="rotate(-85.65 412.03 329.67)" font-size="3.7" text-anchor="middle" dominant-baseline="central" fill="#555" font-weight="bold">0</text>
<text x="401.8" y="449" font-size="3.7" font-weight="bold" text-anchor="middle" fill="#f28a4c">LINE</text>
<rect x="397" y="450.2" width="11.2" height="1.4" fill="#f07f35"/>
<text x="401.8" y="456" font-size="3.7" font-weight="bold" text-anchor="middle" fill="#f060b8">SINE</text>
<rect x="397" y="457.8" width="11" height="1.3" fill="#f0249c"/>
<text x="402.1" y="463.5" font-size="3.7" font-weight="bold" text-anchor="middle" fill="#8576ea">LINE+SINE</text>
<rect x="397" y="465" width="11" height="1.4" fill="#7b63ee"/>
</g>
<g id="D">
<rect x="271.4" y="13.5" width="119.0" height="6.3" fill="#00c8cf"/>
<rect x="390.4" y="13.5" width="119.0" height="6.3" fill="#f8766d"/>
<text x="330.9" y="10.4" font-size="9.2" font-weight="bold" text-anchor="middle" fill="#111">LINE</text>
<text x="449.9" y="10.4" font-size="9.2" font-weight="bold" text-anchor="middle" fill="#111">SINE</text>
<rect x="271.4" y="20.8" width="17" height="10.5" fill="#fcfec5"/><rect x="288.4" y="20.8" width="17" height="10.5" fill="#d5ecf6"/><rect x="305.4" y="20.8" width="17" height="10.5" fill="#c1e1f0"/><rect x="322.4" y="20.8" width="17" height="10.5" fill="#c1e1f0"/><rect x="339.4" y="20.8" width="17" height="10.5" fill="#aed5ec"/><rect x="356.4" y="20.8" width="17" height="10.5" fill="#397cc2"/><rect x="373.4" y="20.8" width="17" height="10.5" fill="#266bb9"/><rect x="390.4" y="20.8" width="17" height="10.5" fill="#feeca3"/><rect x="407.4" y="20.8" width="17" height="10.5" fill="#dff2f8"/><rect x="424.4" y="20.8" width="17" height="10.5" fill="#b7dbee"/><rect x="441.4" y="20.8" width="17" height="10.5" fill="#a4cfe9"/><rect x="458.4" y="20.8" width="17" height="10.5" fill="#7cb8df"/><rect x="475.4" y="20.8" width="17" height="10.5" fill="#397cc2"/><rect x="492.4" y="20.8" width="17" height="10.5" fill="#266bb9"/><rect x="271.4" y="31.3" width="17" height="10.5" fill="#f5fbd0"/><rect x="288.4" y="31.3" width="17" height="10.5" fill="#d5ecf6"/><rect x="305.4" y="31.3" width="17" height="10.5" fill="#c1e1f0"/><rect x="322.4" y="31.3" width="17" height="10.5" fill="#cbe6f3"/><rect x="339.4" y="31.3" width="17" height="10.5" fill="#b7dbee"/><rect x="356.4" y="31.3" width="17" height="10.5" fill="#4284c6"/><rect x="373.4" y="31.3" width="17" height="10.5" fill="#266bb9"/><rect x="390.4" y="31.3" width="17" height="10.5" fill="#fee090"/><rect x="407.4" y="31.3" width="17" height="10.5" fill="#dff2f8"/><rect x="424.4" y="31.3" width="17" height="10.5" fill="#aed5ec"/><rect x="441.4" y="31.3" width="17" height="10.5" fill="#9ac9e6"/><rect x="458.4" y="31.3" width="17" height="10.5" fill="#72afdb"/><rect x="475.4" y="31.3" width="17" height="10.5" fill="#2f73bd"/><rect x="492.4" y="31.3" width="17" height="10.5" fill="#266bb9"/><rect x="271.4" y="41.8" width="17" height="10.5" fill="#f9fcca"/><rect x="288.4" y="41.8" width="17" height="10.5" fill="#d5ecf6"/><rect x="305.4" y="41.8" width="17" height="10.5" fill="#b7dbee"/><rect x="322.4" y="41.8" width="17" height="10.5" fill="#cbe6f3"/><rect x="339.4" y="41.8" width="17" height="10.5" fill="#b7dbee"/><rect x="356.4" y="41.8" width="17" height="10.5" fill="#397cc2"/><rect x="373.4" y="41.8" width="17" height="10.5" fill="#266bb9"/><rect x="390.4" y="41.8" width="17" height="10.5" fill="#fee99e"/><rect x="407.4" y="41.8" width="17" height="10.5" fill="#dff2f8"/><rect x="424.4" y="41.8" width="17" height="10.5" fill="#b7dbee"/><rect x="441.4" y="41.8" width="17" height="10.5" fill="#a4cfe9"/><rect x="458.4" y="41.8" width="17" height="10.5" fill="#7cb8df"/><rect x="475.4" y="41.8" width="17" height="10.5" fill="#397cc2"/><rect x="492.4" y="41.8" width="17" height="10.5" fill="#266bb9"/><rect x="271.4" y="52.3" width="17" height="10.5" fill="#f9fcca"/><rect x="288.4" y="52.3" width="17" height="10.5" fill="#d5ecf6"/><rect x="305.4" y="52.3" width="17" height="10.5" fill="#c1e1f0"/><rect x="322.4" y="52.3" width="17" height="10.5" fill="#c1e1f0"/><rect x="339.4" y="52.3" width="17" height="10.5" fill="#aed5ec"/><rect x="356.4" y="52.3" width="17" height="10.5" fill="#397cc2"/><rect x="373.4" y="52.3" width="17" height="10.5" fill="#266bb9"/><rect x="390.4" y="52.3" width="17" height="10.5" fill="#fee99e"/><rect x="407.4" y="52.3" width="17" height="10.5" fill="#dff2f8"/><rect x="424.4" y="52.3" width="17" height="10.5" fill="#b7dbee"/><rect x="441.4" y="52.3" width="17" height="10.5" fill="#a4cfe9"/><rect x="458.4" y="52.3" width="17" height="10.5" fill="#7cb8df"/><rect x="475.4" y="52.3" width="17" height="10.5" fill="#2f73bd"/><rect x="492.4" y="52.3" width="17" height="10.5" fill="#266bb9"/><rect x="271.4" y="62.8" width="17" height="10.5" fill="#f5fbd0"/><rect x="288.4" y="62.8" width="17" height="10.5" fill="#d5ecf6"/><rect x="305.4" y="62.8" width="17" height="10.5" fill="#c1e1f0"/><rect x="322.4" y="62.8" width="17" height="10.5" fill="#cbe6f3"/><rect x="339.4" y="62.8" width="17" height="10.5" fill="#b7dbee"/><rect x="356.4" y="62.8" width="17" height="10.5" fill="#397cc2"/><rect x="373.4" y="62.8" width="17" height="10.5" fill="#266bb9"/><rect x="390.4" y="62.8" width="17" height="10.5" fill="#feeca3"/><rect x="407.4" y="62.8" width="17" height="10.5" fill="#dff2f8"/><rect x="424.4" y="62.8" width="17" height="10.5" fill="#b7dbee"/><rect x="441.4" y="62.8" width="17" height="10.5" fill="#aed5ec"/><rect x="458.4" y="62.8" width="17" height="10.5" fill="#7cb8df"/><rect x="475.4" y="62.8" width="17" height="10.5" fill="#2f73bd"/><rect x="492.4" y="62.8" width="17" height="10.5" fill="#266bb9"/><rect x="271.4" y="73.3" width="17" height="10.5" fill="#f5fbd0"/><rect x="288.4" y="73.3" width="17" height="10.5" fill="#d5ecf6"/><rect x="305.4" y="73.3" width="17" height="10.5" fill="#b7dbee"/><rect x="322.4" y="73.3" width="17" height="10.5" fill="#cbe6f3"/><rect x="339.4" y="73.3" width="17" height="10.5" fill="#b7dbee"/><rect x="356.4" y="73.3" width="17" height="10.5" fill="#4284c6"/><rect x="373.4" y="73.3" width="17" height="10.5" fill="#266bb9"/><rect x="390.4" y="73.3" width="17" height="10.5" fill="#fee99e"/><rect x="407.4" y="73.3" width="17" height="10.5" fill="#dff2f8"/><rect x="424.4" y="73.3" width="17" height="10.5" fill="#b7dbee"/><rect x="441.4" y="73.3" width="17" height="10.5" fill="#a4cfe9"/><rect x="458.4" y="73.3" width="17" height="10.5" fill="#7cb8df"/><rect x="475.4" y="73.3" width="17" height="10.5" fill="#2f73bd"/><rect x="492.4" y="73.3" width="17" height="10.5" fill="#266bb9"/><rect x="271.4" y="83.8" width="17" height="10.5" fill="#f2fad6"/><rect x="288.4" y="83.8" width="17" height="10.5" fill="#cbe6f3"/><rect x="305.4" y="83.8" width="17" height="10.5" fill="#b7dbee"/><rect x="322.4" y="83.8" width="17" height="10.5" fill="#cbe6f3"/><rect x="339.4" y="83.8" width="17" height="10.5" fill="#c1e1f0"/><rect x="356.4" y="83.8" width="17" height="10.5" fill="#4284c6"/><rect x="373.4" y="83.8" width="17" height="10.5" fill="#266bb9"/><rect x="390.4" y="83.8" width="17" height="10.5" fill="#fee395"/><rect x="407.4" y="83.8" width="17" height="10.5" fill="#e2f3f2"/><rect x="424.4" y="83.8" width="17" height="10.5" fill="#b7dbee"/><rect x="441.4" y="83.8" width="17" height="10.5" fill="#9ac9e6"/><rect x="458.4" y="83.8" width="17" height="10.5" fill="#69a7d7"/><rect x="475.4" y="83.8" width="17" height="10.5" fill="#2f73bd"/><rect x="492.4" y="83.8" width="17" height="10.5" fill="#266bb9"/><rect x="271.4" y="94.3" width="17" height="10.5" fill="#fcfec5"/><rect x="288.4" y="94.3" width="17" height="10.5" fill="#d5ecf6"/><rect x="305.4" y="94.3" width="17" height="10.5" fill="#c1e1f0"/><rect x="322.4" y="94.3" width="17" height="10.5" fill="#c1e1f0"/><rect x="339.4" y="94.3" width="17" height="10.5" fill="#aed5ec"/><rect x="356.4" y="94.3" width="17" height="10.5" fill="#397cc2"/><rect x="373.4" y="94.3" width="17" height="10.5" fill="#266bb9"/><rect x="390.4" y="94.3" width="17" height="10.5" fill="#fef0a8"/><rect x="407.4" y="94.3" width="17" height="10.5" fill="#dff2f8"/><rect x="424.4" y="94.3" width="17" height="10.5" fill="#b7dbee"/><rect x="441.4" y="94.3" width="17" height="10.5" fill="#aed5ec"/><rect x="458.4" y="94.3" width="17" height="10.5" fill="#86bee2"/><rect x="475.4" y="94.3" width="17" height="10.5" fill="#397cc2"/><rect x="492.4" y="94.3" width="17" height="10.5" fill="#266bb9"/><rect x="271.4" y="104.8" width="17" height="10.5" fill="#f5fbd0"/><rect x="288.4" y="104.8" width="17" height="10.5" fill="#d5ecf6"/><rect x="305.4" y="104.8" width="17" height="10.5" fill="#c1e1f0"/><rect x="322.4" y="104.8" width="17" height="10.5" fill="#cbe6f3"/><rect x="339.4" y="104.8" width="17" height="10.5" fill="#b7dbee"/><rect x="356.4" y="104.8" width="17" height="10.5" fill="#397cc2"/><rect x="373.4" y="104.8" width="17" height="10.5" fill="#266bb9"/><rect x="390.4" y="104.8" width="17" height="10.5" fill="#fee699"/><rect x="407.4" y="104.8" width="17" height="10.5" fill="#e2f3f2"/><rect x="424.4" y="104.8" width="17" height="10.5" fill="#b7dbee"/><rect x="441.4" y="104.8" width="17" height="10.5" fill="#a4cfe9"/><rect x="458.4" y="104.8" width="17" height="10.5" fill="#72afdb"/><rect x="475.4" y="104.8" width="17" height="10.5" fill="#2f73bd"/><rect x="492.4" y="104.8" width="17" height="10.5" fill="#266bb9"/><rect x="271.4" y="115.3" width="17" height="10.5" fill="#f9fcca"/><rect x="288.4" y="115.3" width="17" height="10.5" fill="#d5ecf6"/><rect x="305.4" y="115.3" width="17" height="10.5" fill="#b7dbee"/><rect x="322.4" y="115.3" width="17" height="10.5" fill="#c1e1f0"/><rect x="339.4" y="115.3" width="17" height="10.5" fill="#aed5ec"/><rect x="356.4" y="115.3" width="17" height="10.5" fill="#397cc2"/><rect x="373.4" y="115.3" width="17" height="10.5" fill="#266bb9"/><rect x="390.4" y="115.3" width="17" height="10.5" fill="#fee99e"/><rect x="407.4" y="115.3" width="17" height="10.5" fill="#dff2f8"/><rect x="424.4" y="115.3" width="17" height="10.5" fill="#b7dbee"/><rect x="441.4" y="115.3" width="17" height="10.5" fill="#a4cfe9"/><rect x="458.4" y="115.3" width="17" height="10.5" fill="#7cb8df"/><rect x="475.4" y="115.3" width="17" height="10.5" fill="#2f73bd"/><rect x="492.4" y="115.3" width="17" height="10.5" fill="#266bb9"/><rect x="271.4" y="125.8" width="17" height="10.5" fill="#eff8dc"/><rect x="288.4" y="125.8" width="17" height="10.5" fill="#cbe6f3"/><rect x="305.4" y="125.8" width="17" height="10.5" fill="#b7dbee"/><rect x="322.4" y="125.8" width="17" height="10.5" fill="#cbe6f3"/><rect x="339.4" y="125.8" width="17" height="10.5" fill="#cbe6f3"/><rect x="356.4" y="125.8" width="17" height="10.5" fill="#4c8dca"/><rect x="373.4" y="125.8" width="17" height="10.5" fill="#266bb9"/><rect x="390.4" y="125.8" width="17" height="10.5" fill="#fecf85"/><rect x="407.4" y="125.8" width="17" height="10.5" fill="#e2f3f2"/><rect x="424.4" y="125.8" width="17" height="10.5" fill="#aed5ec"/><rect x="441.4" y="125.8" width="17" height="10.5" fill="#90c4e4"/><rect x="458.4" y="125.8" width="17" height="10.5" fill="#5f9ed2"/><rect x="475.4" y="125.8" width="17" height="10.5" fill="#266bb9"/><rect x="492.4" y="125.8" width="17" height="10.5" fill="#266bb9"/><rect x="271.4" y="136.3" width="17" height="10.5" fill="#f2fad6"/><rect x="288.4" y="136.3" width="17" height="10.5" fill="#cbe6f3"/><rect x="305.4" y="136.3" width="17" height="10.5" fill="#b7dbee"/><rect x="322.4" y="136.3" width="17" height="10.5" fill="#cbe6f3"/><rect x="339.4" y="136.3" width="17" height="10.5" fill="#b7dbee"/><rect x="356.4" y="136.3" width="17" height="10.5" fill="#4284c6"/><rect x="373.4" y="136.3" width="17" height="10.5" fill="#266bb9"/><rect x="390.4" y="136.3" width="17" height="10.5" fill="#fee99e"/><rect x="407.4" y="136.3" width="17" height="10.5" fill="#dff2f8"/><rect x="424.4" y="136.3" width="17" height="10.5" fill="#b7dbee"/><rect x="441.4" y="136.3" width="17" height="10.5" fill="#aed5ec"/><rect x="458.4" y="136.3" width="17" height="10.5" fill="#7cb8df"/><rect x="475.4" y="136.3" width="17" height="10.5" fill="#2f73bd"/><rect x="492.4" y="136.3" width="17" height="10.5" fill="#266bb9"/><rect x="271.4" y="146.8" width="17" height="10.5" fill="#f5fbd0"/><rect x="288.4" y="146.8" width="17" height="10.5" fill="#d5ecf6"/><rect x="305.4" y="146.8" width="17" height="10.5" fill="#c1e1f0"/><rect x="322.4" y="146.8" width="17" height="10.5" fill="#cbe6f3"/><rect x="339.4" y="146.8" width="17" height="10.5" fill="#b7dbee"/><rect x="356.4" y="146.8" width="17" height="10.5" fill="#4284c6"/><rect x="373.4" y="146.8" width="17" height="10.5" fill="#266bb9"/><rect x="390.4" y="146.8" width="17" height="10.5" fill="#fee090"/><rect x="407.4" y="146.8" width="17" height="10.5" fill="#e2f3f2"/><rect x="424.4" y="146.8" width="17" height="10.5" fill="#b7dbee"/><rect x="441.4" y="146.8" width="17" height="10.5" fill="#9ac9e6"/><rect x="458.4" y="146.8" width="17" height="10.5" fill="#69a7d7"/><rect x="475.4" y="146.8" width="17" height="10.5" fill="#2f73bd"/><rect x="492.4" y="146.8" width="17" height="10.5" fill="#266bb9"/><rect x="271.4" y="157.3" width="17" height="10.5" fill="#f9fcca"/><rect x="288.4" y="157.3" width="17" height="10.5" fill="#cbe6f3"/><rect x="305.4" y="157.3" width="17" height="10.5" fill="#b7dbee"/><rect x="322.4" y="157.3" width="17" height="10.5" fill="#cbe6f3"/><rect x="339.4" y="157.3" width="17" height="10.5" fill="#b7dbee"/><rect x="356.4" y="157.3" width="17" height="10.5" fill="#397cc2"/><rect x="373.4" y="157.3" width="17" height="10.5" fill="#266bb9"/><rect x="390.4" y="157.3" width="17" height="10.5" fill="#fee090"/><rect x="407.4" y="157.3" width="17" height="10.5" fill="#e2f3f2"/><rect x="424.4" y="157.3" width="17" height="10.5" fill="#b7dbee"/><rect x="441.4" y="157.3" width="17" height="10.5" fill="#9ac9e6"/><rect x="458.4" y="157.3" width="17" height="10.5" fill="#69a7d7"/><rect x="475.4" y="157.3" width="17" height="10.5" fill="#2f73bd"/><rect x="492.4" y="157.3" width="17" height="10.5" fill="#266bb9"/><rect x="271.4" y="167.8" width="17" height="10.5" fill="#f2fad6"/><rect x="288.4" y="167.8" width="17" height="10.5" fill="#c1e1f0"/><rect x="305.4" y="167.8" width="17" height="10.5" fill="#b7dbee"/><rect x="322.4" y="167.8" width="17" height="10.5" fill="#cbe6f3"/><rect x="339.4" y="167.8" width="17" height="10.5" fill="#cbe6f3"/><rect x="356.4" y="167.8" width="17" height="10.5" fill="#4284c6"/><rect x="373.4" y="167.8" width="17" height="10.5" fill="#266bb9"/><rect x="390.4" y="167.8" width="17" height="10.5" fill="#fee395"/><rect x="407.4" y="167.8" width="17" height="10.5" fill="#dff2f8"/><rect x="424.4" y="167.8" width="17" height="10.5" fill="#b7dbee"/><rect x="441.4" y="167.8" width="17" height="10.5" fill="#a4cfe9"/><rect x="458.4" y="167.8" width="17" height="10.5" fill="#72afdb"/><rect x="475.4" y="167.8" width="17" height="10.5" fill="#2f73bd"/><rect x="492.4" y="167.8" width="17" height="10.5" fill="#266bb9"/><rect x="271.4" y="178.3" width="17" height="10.5" fill="#f9fcca"/><rect x="288.4" y="178.3" width="17" height="10.5" fill="#d5ecf6"/><rect x="305.4" y="178.3" width="17" height="10.5" fill="#b7dbee"/><rect x="322.4" y="178.3" width="17" height="10.5" fill="#c1e1f0"/><rect x="339.4" y="178.3" width="17" height="10.5" fill="#b7dbee"/><rect x="356.4" y="178.3" width="17" height="10.5" fill="#4284c6"/><rect x="373.4" y="178.3" width="17" height="10.5" fill="#266bb9"/><rect x="390.4" y="178.3" width="17" height="10.5" fill="#fee090"/><rect x="407.4" y="178.3" width="17" height="10.5" fill="#dff2f8"/><rect x="424.4" y="178.3" width="17" height="10.5" fill="#aed5ec"/><rect x="441.4" y="178.3" width="17" height="10.5" fill="#9ac9e6"/><rect x="458.4" y="178.3" width="17" height="10.5" fill="#72afdb"/><rect x="475.4" y="178.3" width="17" height="10.5" fill="#2f73bd"/><rect x="492.4" y="178.3" width="17" height="10.5" fill="#266bb9"/><rect x="271.4" y="188.8" width="17" height="10.5" fill="#f9fcca"/><rect x="288.4" y="188.8" width="17" height="10.5" fill="#cbe6f3"/><rect x="305.4" y="188.8" width="17" height="10.5" fill="#b7dbee"/><rect x="322.4" y="188.8" width="17" height="10.5" fill="#cbe6f3"/><rect x="339.4" y="188.8" width="17" height="10.5" fill="#b7dbee"/><rect x="356.4" y="188.8" width="17" height="10.5" fill="#397cc2"/><rect x="373.4" y="188.8" width="17" height="10.5" fill="#266bb9"/><rect x="390.4" y="188.8" width="17" height="10.5" fill="#fef0a8"/><rect x="407.4" y="188.8" width="17" height="10.5" fill="#dff2f8"/><rect x="424.4" y="188.8" width="17" height="10.5" fill="#c1e1f0"/><rect x="441.4" y="188.8" width="17" height="10.5" fill="#aed5ec"/><rect x="458.4" y="188.8" width="17" height="10.5" fill="#7cb8df"/><rect x="475.4" y="188.8" width="17" height="10.5" fill="#2f73bd"/><rect x="492.4" y="188.8" width="17" height="10.5" fill="#266bb9"/><rect x="271.4" y="199.3" width="17" height="10.5" fill="#f2fad6"/><rect x="288.4" y="199.3" width="17" height="10.5" fill="#c1e1f0"/><rect x="305.4" y="199.3" width="17" height="10.5" fill="#b7dbee"/><rect x="322.4" y="199.3" width="17" height="10.5" fill="#cbe6f3"/><rect x="339.4" y="199.3" width="17" height="10.5" fill="#cbe6f3"/><rect x="356.4" y="199.3" width="17" height="10.5" fill="#4284c6"/><rect x="373.4" y="199.3" width="17" height="10.5" fill="#266bb9"/><rect x="390.4" y="199.3" width="17" height="10.5" fill="#fee99e"/><rect x="407.4" y="199.3" width="17" height="10.5" fill="#dff2f8"/><rect x="424.4" y="199.3" width="17" height="10.5" fill="#c1e1f0"/><rect x="441.4" y="199.3" width="17" height="10.5" fill="#a4cfe9"/><rect x="458.4" y="199.3" width="17" height="10.5" fill="#7cb8df"/><rect x="475.4" y="199.3" width="17" height="10.5" fill="#2f73bd"/><rect x="492.4" y="199.3" width="17" height="10.5" fill="#266bb9"/><rect x="271.4" y="209.8" width="17" height="10.5" fill="#eff8dc"/><rect x="288.4" y="209.8" width="17" height="10.5" fill="#c1e1f0"/><rect x="305.4" y="209.8" width="17" height="10.5" fill="#b7dbee"/><rect x="322.4" y="209.8" width="17" height="10.5" fill="#d5ecf6"/><rect x="339.4" y="209.8" width="17" height="10.5" fill="#d5ecf6"/><rect x="356.4" y="209.8" width="17" height="10.5" fill="#4c8dca"/><rect x="373.4" y="209.8" width="17" height="10.5" fill="#266bb9"/><rect x="390.4" y="209.8" width="17" height="10.5" fill="#fee395"/><rect x="407.4" y="209.8" width="17" height="10.5" fill="#e2f3f2"/><rect x="424.4" y="209.8" width="17" height="10.5" fill="#c1e1f0"/><rect x="441.4" y="209.8" width="17" height="10.5" fill="#a4cfe9"/><rect x="458.4" y="209.8" width="17" height="10.5" fill="#69a7d7"/><rect x="475.4" y="209.8" width="17" height="10.5" fill="#2f73bd"/><rect x="492.4" y="209.8" width="17" height="10.5" fill="#266bb9"/><rect x="271.4" y="220.3" width="17" height="10.5" fill="#ecf7e1"/><rect x="288.4" y="220.3" width="17" height="10.5" fill="#cbe6f3"/><rect x="305.4" y="220.3" width="17" height="10.5" fill="#aed5ec"/><rect x="322.4" y="220.3" width="17" height="10.5" fill="#cbe6f3"/><rect x="339.4" y="220.3" width="17" height="10.5" fill="#d5ecf6"/><rect x="356.4" y="220.3" width="17" height="10.5" fill="#4c8dca"/><rect x="373.4" y="220.3" width="17" height="10.5" fill="#266bb9"/><rect x="390.4" y="220.3" width="17" height="10.5" fill="#fee395"/><rect x="407.4" y="220.3" width="17" height="10.5" fill="#dff2f8"/><rect x="424.4" y="220.3" width="17" height="10.5" fill="#c1e1f0"/><rect x="441.4" y="220.3" width="17" height="10.5" fill="#a4cfe9"/><rect x="458.4" y="220.3" width="17" height="10.5" fill="#69a7d7"/><rect x="475.4" y="220.3" width="17" height="10.5" fill="#266bb9"/><rect x="492.4" y="220.3" width="17" height="10.5" fill="#266bb9"/><rect x="271.4" y="230.8" width="17" height="10.5" fill="#eff8dc"/><rect x="288.4" y="230.8" width="17" height="10.5" fill="#c1e1f0"/><rect x="305.4" y="230.8" width="17" height="10.5" fill="#b7dbee"/><rect x="322.4" y="230.8" width="17" height="10.5" fill="#cbe6f3"/><rect x="339.4" y="230.8" width="17" height="10.5" fill="#cbe6f3"/><rect x="356.4" y="230.8" width="17" height="10.5" fill="#4284c6"/><rect x="373.4" y="230.8" width="17" height="10.5" fill="#266bb9"/><rect x="390.4" y="230.8" width="17" height="10.5" fill="#fee99e"/><rect x="407.4" y="230.8" width="17" height="10.5" fill="#dff2f8"/><rect x="424.4" y="230.8" width="17" height="10.5" fill="#c1e1f0"/><rect x="441.4" y="230.8" width="17" height="10.5" fill="#aed5ec"/><rect x="458.4" y="230.8" width="17" height="10.5" fill="#72afdb"/><rect x="475.4" y="230.8" width="17" height="10.5" fill="#2f73bd"/><rect x="492.4" y="230.8" width="17" height="10.5" fill="#266bb9"/><rect x="271.4" y="241.3" width="17" height="10.5" fill="#e5f5ed"/><rect x="288.4" y="241.3" width="17" height="10.5" fill="#aed5ec"/><rect x="305.4" y="241.3" width="17" height="10.5" fill="#a4cfe9"/><rect x="322.4" y="241.3" width="17" height="10.5" fill="#cbe6f3"/><rect x="339.4" y="241.3" width="17" height="10.5" fill="#e5f5ed"/><rect x="356.4" y="241.3" width="17" height="10.5" fill="#5f9ed2"/><rect x="373.4" y="241.3" width="17" height="10.5" fill="#2f73bd"/><rect x="390.4" y="241.3" width="17" height="10.5" fill="#fdae6f"/><rect x="407.4" y="241.3" width="17" height="10.5" fill="#dff2f8"/><rect x="424.4" y="241.3" width="17" height="10.5" fill="#b7dbee"/><rect x="441.4" y="241.3" width="17" height="10.5" fill="#86bee2"/><rect x="458.4" y="241.3" width="17" height="10.5" fill="#5696ce"/><rect x="475.4" y="241.3" width="17" height="10.5" fill="#266bb9"/><rect x="492.4" y="241.3" width="17" height="10.5" fill="#266bb9"/><rect x="271.4" y="251.8" width="17" height="10.5" fill="#f9fcca"/><rect x="288.4" y="251.8" width="17" height="10.5" fill="#cbe6f3"/><rect x="305.4" y="251.8" width="17" height="10.5" fill="#b7dbee"/><rect x="322.4" y="251.8" width="17" height="10.5" fill="#c1e1f0"/><rect x="339.4" y="251.8" width="17" height="10.5" fill="#a4cfe9"/><rect x="356.4" y="251.8" width="17" height="10.5" fill="#4c8dca"/><rect x="373.4" y="251.8" width="17" height="10.5" fill="#2f73bd"/><rect x="390.4" y="251.8" width="17" height="10.5" fill="#fdae6f"/><rect x="407.4" y="251.8" width="17" height="10.5" fill="#e2f3f2"/><rect x="424.4" y="251.8" width="17" height="10.5" fill="#9ac9e6"/><rect x="441.4" y="251.8" width="17" height="10.5" fill="#86bee2"/><rect x="458.4" y="251.8" width="17" height="10.5" fill="#5f9ed2"/><rect x="475.4" y="251.8" width="17" height="10.5" fill="#266bb9"/><rect x="492.4" y="251.8" width="17" height="10.5" fill="#266bb9"/><rect x="271.4" y="262.3" width="17" height="10.5" fill="#fff3ac"/><rect x="288.4" y="262.3" width="17" height="10.5" fill="#dff2f8"/><rect x="305.4" y="262.3" width="17" height="10.5" fill="#cbe6f3"/><rect x="322.4" y="262.3" width="17" height="10.5" fill="#aed5ec"/><rect x="339.4" y="262.3" width="17" height="10.5" fill="#90c4e4"/><rect x="356.4" y="262.3" width="17" height="10.5" fill="#397cc2"/><rect x="373.4" y="262.3" width="17" height="10.5" fill="#266bb9"/><rect x="390.4" y="262.3" width="17" height="10.5" fill="#fee99e"/><rect x="407.4" y="262.3" width="17" height="10.5" fill="#d5ecf6"/><rect x="424.4" y="262.3" width="17" height="10.5" fill="#aed5ec"/><rect x="441.4" y="262.3" width="17" height="10.5" fill="#a4cfe9"/><rect x="458.4" y="262.3" width="17" height="10.5" fill="#7cb8df"/><rect x="475.4" y="262.3" width="17" height="10.5" fill="#397cc2"/><rect x="492.4" y="262.3" width="17" height="10.5" fill="#266bb9"/><rect x="271.4" y="272.8" width="17" height="10.5" fill="#f67c50"/><rect x="288.4" y="272.8" width="17" height="10.5" fill="#7cb8df"/><rect x="305.4" y="272.8" width="17" height="10.5" fill="#72afdb"/><rect x="322.4" y="272.8" width="17" height="10.5" fill="#90c4e4"/><rect x="339.4" y="272.8" width="17" height="10.5" fill="#7cb8df"/><rect x="356.4" y="272.8" width="17" height="10.5" fill="#5696ce"/><rect x="373.4" y="272.8" width="17" height="10.5" fill="#2f73bd"/><rect x="390.4" y="272.8" width="17" height="10.5" fill="#fef0a8"/><rect x="407.4" y="272.8" width="17" height="10.5" fill="#cbe6f3"/><rect x="424.4" y="272.8" width="17" height="10.5" fill="#72afdb"/><rect x="441.4" y="272.8" width="17" height="10.5" fill="#7cb8df"/><rect x="458.4" y="272.8" width="17" height="10.5" fill="#dff2f8"/><rect x="475.4" y="272.8" width="17" height="10.5" fill="#5696ce"/><rect x="492.4" y="272.8" width="17" height="10.5" fill="#397cc2"/>
<path d="M271.4 20.8H509.4M271.4 31.3H509.4M271.4 41.8H509.4M271.4 52.3H509.4M271.4 62.8H509.4M271.4 73.3H509.4M271.4 83.8H509.4M271.4 94.3H509.4M271.4 104.8H509.4M271.4 115.3H509.4M271.4 125.8H509.4M271.4 136.3H509.4M271.4 146.8H509.4M271.4 157.3H509.4M271.4 167.8H509.4M271.4 178.3H509.4M271.4 188.8H509.4M271.4 199.3H509.4M271.4 209.8H509.4M271.4 220.3H509.4M271.4 230.8H509.4M271.4 241.3H509.4M271.4 251.8H509.4M271.4 262.3H509.4M271.4 272.8H509.4M271.4 283.3H509.4M271.4 20.8V283.3M288.4 20.8V283.3M305.4 20.8V283.3M322.4 20.8V283.3M339.4 20.8V283.3M356.4 20.8V283.3M373.4 20.8V283.3M390.4 20.8V283.3M407.4 20.8V283.3M424.4 20.8V283.3M441.4 20.8V283.3M458.4 20.8V283.3M475.4 20.8V283.3M492.4 20.8V283.3M509.4 20.8V283.3" stroke="#dcdcdc" stroke-opacity="0.7" stroke-width="0.6" fill="none"/>
<g font-size="6.5" text-anchor="middle" fill="#5c5c5c"><text x="279.9" y="29.05">0.29</text><text x="296.9" y="29.05">0.19</text><text x="313.9" y="29.05">0.17</text><text x="330.9" y="29.05">0.17</text><text x="347.9" y="29.05">0.15</text><text x="364.9" y="29.05" fill="#2c4a78">0.03</text><text x="381.9" y="29.05" fill="#2c4a78">0.01</text><text x="398.9" y="29.05">0.36</text><text x="415.9" y="29.05">0.20</text><text x="432.9" y="29.05">0.16</text><text x="449.9" y="29.05">0.14</text><text x="466.9" y="29.05">0.10</text><text x="483.9" y="29.05" fill="#2c4a78">0.03</text><text x="500.9" y="29.05" fill="#2c4a78">0.01</text><text x="279.9" y="39.55">0.27</text><text x="296.9" y="39.55">0.19</text><text x="313.9" y="39.55">0.17</text><text x="330.9" y="39.55">0.18</text><text x="347.9" y="39.55">0.16</text><text x="364.9" y="39.55" fill="#2c4a78">0.04</text><text x="381.9" y="39.55" fill="#2c4a78">0.01</text><text x="398.9" y="39.55">0.40</text><text x="415.9" y="39.55">0.20</text><text x="432.9" y="39.55">0.15</text><text x="449.9" y="39.55">0.13</text><text x="466.9" y="39.55">0.09</text><text x="483.9" y="39.55" fill="#2c4a78">0.02</text><text x="500.9" y="39.55" fill="#2c4a78">0.01</text><text x="279.9" y="50.05">0.28</text><text x="296.9" y="50.05">0.19</text><text x="313.9" y="50.05">0.16</text><text x="330.9" y="50.05">0.18</text><text x="347.9" y="50.05">0.16</text><text x="364.9" y="50.05" fill="#2c4a78">0.03</text><text x="381.9" y="50.05" fill="#2c4a78">0.01</text><text x="398.9" y="50.05">0.37</text><text x="415.9" y="50.05">0.20</text><text x="432.9" y="50.05">0.16</text><text x="449.9" y="50.05">0.14</text><text x="466.9" y="50.05">0.10</text><text x="483.9" y="50.05" fill="#2c4a78">0.03</text><text x="500.9" y="50.05" fill="#2c4a78">0.01</text><text x="279.9" y="60.55">0.28</text><text x="296.9" y="60.55">0.19</text><text x="313.9" y="60.55">0.17</text><text x="330.9" y="60.55">0.17</text><text x="347.9" y="60.55">0.15</text><text x="364.9" y="60.55" fill="#2c4a78">0.03</text><text x="381.9" y="60.55" fill="#2c4a78">0.01</text><text x="398.9" y="60.55">0.37</text><text x="415.9" y="60.55">0.20</text><text x="432.9" y="60.55">0.16</text><text x="449.9" y="60.55">0.14</text><text x="466.9" y="60.55">0.10</text><text x="483.9" y="60.55" fill="#2c4a78">0.02</text><text x="500.9" y="60.55" fill="#2c4a78">0.01</text><text x="279.9" y="71.05">0.27</text><text x="296.9" y="71.05">0.19</text><text x="313.9" y="71.05">0.17</text><text x="330.9" y="71.05">0.18</text><text x="347.9" y="71.05">0.16</text><text x="364.9" y="71.05" fill="#2c4a78">0.03</text><text x="381.9" y="71.05" fill="#2c4a78">0.01</text><text x="398.9" y="71.05">0.36</text><text x="415.9" y="71.05">0.20</text><text x="432.9" y="71.05">0.16</text><text x="449.9" y="71.05">0.15</text><text x="466.9" y="71.05">0.10</text><text x="483.9" y="71.05" fill="#2c4a78">0.02</text><text x="500.9" y="71.05" fill="#2c4a78">0.01</text><text x="279.9" y="81.55">0.27</text><text x="296.9" y="81.55">0.19</text><text x="313.9" y="81.55">0.16</text><text x="330.9" y="81.55">0.18</text><text x="347.9" y="81.55">0.16</text><text x="364.9" y="81.55" fill="#2c4a78">0.04</text><text x="381.9" y="81.55" fill="#2c4a78">0.01</text><text x="398.9" y="81.55">0.37</text><text x="415.9" y="81.55">0.20</text><text x="432.9" y="81.55">0.16</text><text x="449.9" y="81.55">0.14</text><text x="466.9" y="81.55">0.10</text><text x="483.9" y="81.55" fill="#2c4a78">0.02</text><text x="500.9" y="81.55" fill="#2c4a78">0.01</text><text x="279.9" y="92.05">0.26</text><text x="296.9" y="92.05">0.18</text><text x="313.9" y="92.05">0.16</text><text x="330.9" y="92.05">0.18</text><text x="347.9" y="92.05">0.17</text><text x="364.9" y="92.05" fill="#2c4a78">0.04</text><text x="381.9" y="92.05" fill="#2c4a78">0.01</text><text x="398.9" y="92.05">0.39</text><text x="415.9" y="92.05">0.21</text><text x="432.9" y="92.05">0.16</text><text x="449.9" y="92.05">0.13</text><text x="466.9" y="92.05">0.08</text><text x="483.9" y="92.05" fill="#2c4a78">0.02</text><text x="500.9" y="92.05" fill="#2c4a78">0.01</text><text x="279.9" y="102.55">0.29</text><text x="296.9" y="102.55">0.19</text><text x="313.9" y="102.55">0.17</text><text x="330.9" y="102.55">0.17</text><text x="347.9" y="102.55">0.15</text><text x="364.9" y="102.55" fill="#2c4a78">0.03</text><text x="381.9" y="102.55" fill="#2c4a78">0.01</text><text x="398.9" y="102.55">0.35</text><text x="415.9" y="102.55">0.20</text><text x="432.9" y="102.55">0.16</text><text x="449.9" y="102.55">0.15</text><text x="466.9" y="102.55">0.11</text><text x="483.9" y="102.55" fill="#2c4a78">0.03</text><text x="500.9" y="102.55" fill="#2c4a78">0.01</text><text x="279.9" y="113.05">0.27</text><text x="296.9" y="113.05">0.19</text><text x="313.9" y="113.05">0.17</text><text x="330.9" y="113.05">0.18</text><text x="347.9" y="113.05">0.16</text><text x="364.9" y="113.05" fill="#2c4a78">0.03</text><text x="381.9" y="113.05" fill="#2c4a78">0.01</text><text x="398.9" y="113.05">0.38</text><text x="415.9" y="113.05">0.21</text><text x="432.9" y="113.05">0.16</text><text x="449.9" y="113.05">0.14</text><text x="466.9" y="113.05">0.09</text><text x="483.9" y="113.05" fill="#2c4a78">0.02</text><text x="500.9" y="113.05" fill="#2c4a78">0.01</text><text x="279.9" y="123.55">0.28</text><text x="296.9" y="123.55">0.19</text><text x="313.9" y="123.55">0.16</text><text x="330.9" y="123.55">0.17</text><text x="347.9" y="123.55">0.15</text><text x="364.9" y="123.55" fill="#2c4a78">0.03</text><text x="381.9" y="123.55" fill="#2c4a78">0.01</text><text x="398.9" y="123.55">0.37</text><text x="415.9" y="123.55">0.20</text><text x="432.9" y="123.55">0.16</text><text x="449.9" y="123.55">0.14</text><text x="466.9" y="123.55">0.10</text><text x="483.9" y="123.55" fill="#2c4a78">0.02</text><text x="500.9" y="123.55" fill="#2c4a78">0.01</text><text x="279.9" y="134.05">0.25</text><text x="296.9" y="134.05">0.18</text><text x="313.9" y="134.05">0.16</text><text x="330.9" y="134.05">0.18</text><text x="347.9" y="134.05">0.18</text><text x="364.9" y="134.05" fill="#2c4a78">0.05</text><text x="381.9" y="134.05" fill="#2c4a78">0.01</text><text x="398.9" y="134.05">0.42</text><text x="415.9" y="134.05">0.21</text><text x="432.9" y="134.05">0.15</text><text x="449.9" y="134.05">0.12</text><text x="466.9" y="134.05" fill="#2c4a78">0.07</text><text x="483.9" y="134.05" fill="#2c4a78">0.01</text><text x="500.9" y="134.05" fill="#2c4a78">0.01</text><text x="279.9" y="144.55">0.26</text><text x="296.9" y="144.55">0.18</text><text x="313.9" y="144.55">0.16</text><text x="330.9" y="144.55">0.18</text><text x="347.9" y="144.55">0.16</text><text x="364.9" y="144.55" fill="#2c4a78">0.04</text><text x="381.9" y="144.55" fill="#2c4a78">0.01</text><text x="398.9" y="144.55">0.37</text><text x="415.9" y="144.55">0.20</text><text x="432.9" y="144.55">0.16</text><text x="449.9" y="144.55">0.15</text><text x="466.9" y="144.55">0.10</text><text x="483.9" y="144.55" fill="#2c4a78">0.02</text><text x="500.9" y="144.55" fill="#2c4a78">0.01</text><text x="279.9" y="155.05">0.27</text><text x="296.9" y="155.05">0.19</text><text x="313.9" y="155.05">0.17</text><text x="330.9" y="155.05">0.18</text><text x="347.9" y="155.05">0.16</text><text x="364.9" y="155.05" fill="#2c4a78">0.04</text><text x="381.9" y="155.05" fill="#2c4a78">0.01</text><text x="398.9" y="155.05">0.40</text><text x="415.9" y="155.05">0.21</text><text x="432.9" y="155.05">0.16</text><text x="449.9" y="155.05">0.13</text><text x="466.9" y="155.05">0.08</text><text x="483.9" y="155.05" fill="#2c4a78">0.02</text><text x="500.9" y="155.05" fill="#2c4a78">0.01</text><text x="279.9" y="165.55">0.28</text><text x="296.9" y="165.55">0.18</text><text x="313.9" y="165.55">0.16</text><text x="330.9" y="165.55">0.18</text><text x="347.9" y="165.55">0.16</text><text x="364.9" y="165.55" fill="#2c4a78">0.03</text><text x="381.9" y="165.55" fill="#2c4a78">0.01</text><text x="398.9" y="165.55">0.40</text><text x="415.9" y="165.55">0.21</text><text x="432.9" y="165.55">0.16</text><text x="449.9" y="165.55">0.13</text><text x="466.9" y="165.55">0.08</text><text x="483.9" y="165.55" fill="#2c4a78">0.02</text><text x="500.9" y="165.55" fill="#2c4a78">0.01</text><text x="279.9" y="176.05">0.26</text><text x="296.9" y="176.05">0.17</text><text x="313.9" y="176.05">0.16</text><text x="330.9" y="176.05">0.18</text><text x="347.9" y="176.05">0.18</text><text x="364.9" y="176.05" fill="#2c4a78">0.04</text><text x="381.9" y="176.05" fill="#2c4a78">0.01</text><text x="398.9" y="176.05">0.39</text><text x="415.9" y="176.05">0.20</text><text x="432.9" y="176.05">0.16</text><text x="449.9" y="176.05">0.14</text><text x="466.9" y="176.05">0.09</text><text x="483.9" y="176.05" fill="#2c4a78">0.02</text><text x="500.9" y="176.05" fill="#2c4a78">0.01</text><text x="279.9" y="186.55">0.28</text><text x="296.9" y="186.55">0.19</text><text x="313.9" y="186.55">0.16</text><text x="330.9" y="186.55">0.17</text><text x="347.9" y="186.55">0.16</text><text x="364.9" y="186.55" fill="#2c4a78">0.04</text><text x="381.9" y="186.55" fill="#2c4a78">0.01</text><text x="398.9" y="186.55">0.40</text><text x="415.9" y="186.55">0.20</text><text x="432.9" y="186.55">0.15</text><text x="449.9" y="186.55">0.13</text><text x="466.9" y="186.55">0.09</text><text x="483.9" y="186.55" fill="#2c4a78">0.02</text><text x="500.9" y="186.55" fill="#2c4a78">0.01</text><text x="279.9" y="197.05">0.28</text><text x="296.9" y="197.05">0.18</text><text x="313.9" y="197.05">0.16</text><text x="330.9" y="197.05">0.18</text><text x="347.9" y="197.05">0.16</text><text x="364.9" y="197.05" fill="#2c4a78">0.03</text><text x="381.9" y="197.05" fill="#2c4a78">0.01</text><text x="398.9" y="197.05">0.35</text><text x="415.9" y="197.05">0.20</text><text x="432.9" y="197.05">0.17</text><text x="449.9" y="197.05">0.15</text><text x="466.9" y="197.05">0.10</text><text x="483.9" y="197.05" fill="#2c4a78">0.02</text><text x="500.9" y="197.05" fill="#2c4a78">0.01</text><text x="279.9" y="207.55">0.26</text><text x="296.9" y="207.55">0.17</text><text x="313.9" y="207.55">0.16</text><text x="330.9" y="207.55">0.18</text><text x="347.9" y="207.55">0.18</text><text x="364.9" y="207.55" fill="#2c4a78">0.04</text><text x="381.9" y="207.55" fill="#2c4a78">0.01</text><text x="398.9" y="207.55">0.37</text><text x="415.9" y="207.55">0.20</text><text x="432.9" y="207.55">0.17</text><text x="449.9" y="207.55">0.14</text><text x="466.9" y="207.55">0.10</text><text x="483.9" y="207.55" fill="#2c4a78">0.02</text><text x="500.9" y="207.55" fill="#2c4a78">0.01</text><text x="279.9" y="218.05">0.25</text><text x="296.9" y="218.05">0.17</text><text x="313.9" y="218.05">0.16</text><text x="330.9" y="218.05">0.19</text><text x="347.9" y="218.05">0.19</text><text x="364.9" y="218.05" fill="#2c4a78">0.05</text><text x="381.9" y="218.05" fill="#2c4a78">0.01</text><text x="398.9" y="218.05">0.39</text><text x="415.9" y="218.05">0.21</text><text x="432.9" y="218.05">0.17</text><text x="449.9" y="218.05">0.14</text><text x="466.9" y="218.05">0.08</text><text x="483.9" y="218.05" fill="#2c4a78">0.02</text><text x="500.9" y="218.05" fill="#2c4a78">0.01</text><text x="279.9" y="228.55">0.24</text><text x="296.9" y="228.55">0.18</text><text x="313.9" y="228.55">0.15</text><text x="330.9" y="228.55">0.18</text><text x="347.9" y="228.55">0.19</text><text x="364.9" y="228.55" fill="#2c4a78">0.05</text><text x="381.9" y="228.55" fill="#2c4a78">0.01</text><text x="398.9" y="228.55">0.39</text><text x="415.9" y="228.55">0.20</text><text x="432.9" y="228.55">0.17</text><text x="449.9" y="228.55">0.14</text><text x="466.9" y="228.55">0.08</text><text x="483.9" y="228.55" fill="#2c4a78">0.01</text><text x="500.9" y="228.55" fill="#2c4a78">0.01</text><text x="279.9" y="239.05">0.25</text><text x="296.9" y="239.05">0.17</text><text x="313.9" y="239.05">0.16</text><text x="330.9" y="239.05">0.18</text><text x="347.9" y="239.05">0.18</text><text x="364.9" y="239.05" fill="#2c4a78">0.04</text><text x="381.9" y="239.05" fill="#2c4a78">0.01</text><text x="398.9" y="239.05">0.37</text><text x="415.9" y="239.05">0.20</text><text x="432.9" y="239.05">0.17</text><text x="449.9" y="239.05">0.15</text><text x="466.9" y="239.05">0.09</text><text x="483.9" y="239.05" fill="#2c4a78">0.02</text><text x="500.9" y="239.05" fill="#2c4a78">0.01</text><text x="279.9" y="249.55">0.22</text><text x="296.9" y="249.55">0.15</text><text x="313.9" y="249.55">0.14</text><text x="330.9" y="249.55">0.18</text><text x="347.9" y="249.55">0.22</text><text x="364.9" y="249.55" fill="#2c4a78">0.07</text><text x="381.9" y="249.55" fill="#2c4a78">0.02</text><text x="398.9" y="249.55">0.46</text><text x="415.9" y="249.55">0.20</text><text x="432.9" y="249.55">0.16</text><text x="449.9" y="249.55">0.11</text><text x="466.9" y="249.55" fill="#2c4a78">0.06</text><text x="483.9" y="249.55" fill="#2c4a78">0.01</text><text x="500.9" y="249.55" fill="#2c4a78">0.01</text><text x="279.9" y="260.05">0.28</text><text x="296.9" y="260.05">0.18</text><text x="313.9" y="260.05">0.16</text><text x="330.9" y="260.05">0.17</text><text x="347.9" y="260.05">0.14</text><text x="364.9" y="260.05" fill="#2c4a78">0.05</text><text x="381.9" y="260.05" fill="#2c4a78">0.02</text><text x="398.9" y="260.05">0.46</text><text x="415.9" y="260.05">0.21</text><text x="432.9" y="260.05">0.13</text><text x="449.9" y="260.05">0.11</text><text x="466.9" y="260.05" fill="#2c4a78">0.07</text><text x="483.9" y="260.05" fill="#2c4a78">0.01</text><text x="500.9" y="260.05" fill="#2c4a78">0.01</text><text x="279.9" y="270.55">0.34</text><text x="296.9" y="270.55">0.20</text><text x="313.9" y="270.55">0.18</text><text x="330.9" y="270.55">0.15</text><text x="347.9" y="270.55">0.12</text><text x="364.9" y="270.55" fill="#2c4a78">0.03</text><text x="381.9" y="270.55" fill="#2c4a78">0.01</text><text x="398.9" y="270.55">0.37</text><text x="415.9" y="270.55">0.19</text><text x="432.9" y="270.55">0.15</text><text x="449.9" y="270.55">0.14</text><text x="466.9" y="270.55">0.10</text><text x="483.9" y="270.55" fill="#2c4a78">0.03</text><text x="500.9" y="270.55" fill="#2c4a78">0.01</text><text x="279.9" y="281.05">0.52</text><text x="296.9" y="281.05">0.10</text><text x="313.9" y="281.05">0.09</text><text x="330.9" y="281.05">0.12</text><text x="347.9" y="281.05">0.10</text><text x="364.9" y="281.05" fill="#2c4a78">0.06</text><text x="381.9" y="281.05" fill="#2c4a78">0.02</text><text x="398.9" y="281.05">0.35</text><text x="415.9" y="281.05">0.18</text><text x="432.9" y="281.05">0.09</text><text x="449.9" y="281.05">0.10</text><text x="466.9" y="281.05">0.20</text><text x="483.9" y="281.05" fill="#2c4a78">0.06</text><text x="500.9" y="281.05" fill="#2c4a78">0.03</text></g>
<g font-size="7.3" fill="#111" stroke="#111" stroke-width="0.12"><text x="510.6" y="29.3">chr1</text><text x="510.6" y="39.8">chr2</text><text x="510.6" y="50.3">chr3</text><text x="510.6" y="60.8">chr4</text><text x="510.6" y="71.3">chr5</text><text x="510.6" y="81.8">chr6</text><text x="510.6" y="92.3">chr7</text><text x="510.6" y="102.8">chr8</text><text x="510.6" y="113.3">chr9</text><text x="510.6" y="123.8">chr10</text><text x="510.6" y="134.3">chr11</text><text x="510.6" y="144.8">chr12</text><text x="510.6" y="155.3">chr13</text><text x="510.6" y="165.8">chr14</text><text x="510.6" y="176.3">chr15</text><text x="510.6" y="186.8">chr16</text><text x="510.6" y="197.3">chr17</text><text x="510.6" y="207.8">chr18</text><text x="510.6" y="218.3">chr19</text><text x="510.6" y="228.8">chr20</text><text x="510.6" y="239.3">chr21</text><text x="510.6" y="249.8">chr22</text><text x="510.6" y="260.3">chr23</text><text x="510.6" y="270.8">chrX</text><text x="510.6" y="281.3">chrY</text></g>
<text x="510.4" y="19.5" font-size="6.6" font-weight="bold" fill="#111">Type</text>
<g font-size="6.9" text-anchor="end" fill="#2e2e2e" stroke="#2e2e2e" stroke-width="0.1"><text x="283.1" y="287.6" transform="rotate(-45 283.1 287.6)">0~200</text><text x="300.1" y="287.6" transform="rotate(-45 300.1 287.6)">200~500</text><text x="317.1" y="287.6" transform="rotate(-45 317.1 287.6)">500~1000</text><text x="334.1" y="287.6" transform="rotate(-45 334.1 287.6)">1000~3000</text><text x="351.1" y="287.6" transform="rotate(-45 351.1 287.6)">2000~5000</text><text x="368.1" y="287.6" transform="rotate(-45 368.1 287.6)">5000~10,000</text><text x="385.1" y="287.6" transform="rotate(-45 385.1 287.6)">&gt;10,000</text><text x="402.1" y="287.6" transform="rotate(-45 402.1 287.6)">0~200</text><text x="419.1" y="287.6" transform="rotate(-45 419.1 287.6)">200~500</text><text x="436.1" y="287.6" transform="rotate(-45 436.1 287.6)">500~1000</text><text x="453.1" y="287.6" transform="rotate(-45 453.1 287.6)">1000~3000</text><text x="470.1" y="287.6" transform="rotate(-45 470.1 287.6)">2000~5000</text><text x="487.1" y="287.6" transform="rotate(-45 487.1 287.6)">5000~10,000</text><text x="504.1" y="287.6" transform="rotate(-45 504.1 287.6)">&gt;10,000</text></g>
<defs><linearGradient id="cb" x1="0" y1="1" x2="0" y2="0"><stop offset="0" stop-color="#1c62b5"/><stop offset="0.17" stop-color="#7cb8df"/><stop offset="0.33" stop-color="#dff2f8"/><stop offset="0.5" stop-color="#ffffbf"/><stop offset="0.67" stop-color="#fee090"/><stop offset="0.83" stop-color="#fc8d59"/><stop offset="1" stop-color="#e0392b"/></linearGradient></defs>
<rect x="532" y="13.4" width="3.8" height="53.3" fill="url(#cb)"/>
<g font-size="6.6" fill="#2a2a2a" stroke="#2a2a2a" stroke-width="0.1"><text x="537.2" y="69">0</text><text x="537.2" y="60.12">0.1</text><text x="537.2" y="51.23">0.2</text><text x="537.2" y="42.35">0.3</text><text x="537.2" y="33.47">0.4</text><text x="537.2" y="24.58">0.5</text><text x="537.2" y="15.7">0.6</text></g>
</g>
<g id="B">
<rect x="36.8" y="328.19" width="2.1" height="42.01" fill="#1de38b"/><rect x="38.9" y="350.36" width="2.0" height="19.84" fill="#f628a8"/><rect x="40.9" y="308.97" width="2.1" height="61.23" fill="#3fc0f5"/><rect x="45.13" y="330.52" width="2.1" height="39.68" fill="#1de38b"/><rect x="47.23" y="349.74" width="2.0" height="20.46" fill="#f628a8"/><rect x="49.23" y="309.9" width="2.1" height="60.3" fill="#3fc0f5"/><rect x="53.46" y="326.64" width="2.1" height="43.56" fill="#1de38b"/><rect x="55.56" y="349.12" width="2.0" height="21.08" fill="#f628a8"/><rect x="57.56" y="305.1" width="2.1" height="65.1" fill="#3fc0f5"/><rect x="61.79" y="326.95" width="2.1" height="43.24" fill="#1de38b"/><rect x="63.89" y="349.12" width="2.0" height="21.08" fill="#f628a8"/><rect x="65.89" y="305.25" width="2.1" height="64.94" fill="#3fc0f5"/><rect x="70.12" y="326.95" width="2.1" height="43.24" fill="#1de38b"/><rect x="72.22" y="350.36" width="2.0" height="19.84" fill="#f628a8"/><rect x="74.22" y="307.12" width="2.1" height="63.09" fill="#3fc0f5"/><rect x="78.45" y="331.29" width="2.1" height="38.91" fill="#1de38b"/><rect x="80.55" y="350.36" width="2.0" height="19.84" fill="#f628a8"/><rect x="82.55" y="310.83" width="2.1" height="59.36" fill="#3fc0f5"/><rect x="86.78" y="333.77" width="2.1" height="36.43" fill="#1de38b"/><rect x="88.88" y="350.36" width="2.0" height="19.84" fill="#f628a8"/><rect x="90.88" y="313.94" width="2.1" height="56.27" fill="#3fc0f5"/><rect x="95.11" y="323.54" width="2.1" height="46.66" fill="#1de38b"/><rect x="97.21" y="344" width="2.0" height="26.2" fill="#f628a8"/><rect x="99.21" y="297.19" width="2.1" height="73.01" fill="#3fc0f5"/><rect x="103.44" y="330.06" width="2.1" height="40.14" fill="#1de38b"/><rect x="105.54" y="350.82" width="2.0" height="19.38" fill="#f628a8"/><rect x="107.54" y="310.37" width="2.1" height="59.83" fill="#3fc0f5"/><rect x="111.77" y="326.64" width="2.1" height="43.56" fill="#1de38b"/><rect x="113.87" y="350.82" width="2.0" height="19.38" fill="#f628a8"/><rect x="115.87" y="307.12" width="2.1" height="63.09" fill="#3fc0f5"/><rect x="120.1" y="338.43" width="2.1" height="31.78" fill="#1de38b"/><rect x="122.2" y="352.06" width="2.0" height="18.13" fill="#f628a8"/><rect x="124.2" y="319.82" width="2.1" height="50.38" fill="#3fc0f5"/><rect x="128.43" y="329.12" width="2.1" height="41.08" fill="#1de38b"/><rect x="130.53" y="349.74" width="2.0" height="20.46" fill="#f628a8"/><rect x="132.53" y="308.97" width="2.1" height="61.23" fill="#3fc0f5"/><rect x="136.76" y="332.07" width="2.1" height="38.13" fill="#1de38b"/><rect x="138.86" y="349.74" width="2.0" height="20.46" fill="#f628a8"/><rect x="140.86" y="311.45" width="2.1" height="58.74" fill="#3fc0f5"/><rect x="145.09" y="333.31" width="2.1" height="36.89" fill="#1de38b"/><rect x="147.19" y="350.36" width="2.0" height="19.84" fill="#f628a8"/><rect x="149.19" y="312.85" width="2.1" height="57.35" fill="#3fc0f5"/><rect x="153.42" y="335.79" width="2.1" height="34.41" fill="#1de38b"/><rect x="155.52" y="352.84" width="2.0" height="17.36" fill="#f628a8"/><rect x="157.52" y="318.43" width="2.1" height="51.77" fill="#3fc0f5"/><rect x="161.75" y="330.21" width="2.1" height="39.99" fill="#1de38b"/><rect x="163.85" y="351.13" width="2.0" height="19.07" fill="#f628a8"/><rect x="165.85" y="310.83" width="2.1" height="59.36" fill="#3fc0f5"/><rect x="170.08" y="330.52" width="2.1" height="39.68" fill="#1de38b"/><rect x="172.18" y="348.65" width="2.0" height="21.55" fill="#f628a8"/><rect x="174.18" y="308.97" width="2.1" height="61.23" fill="#3fc0f5"/><rect x="178.41" y="335.63" width="2.1" height="34.57" fill="#1de38b"/><rect x="180.51" y="352.53" width="2.0" height="17.67" fill="#f628a8"/><rect x="182.51" y="317.34" width="2.1" height="52.86" fill="#3fc0f5"/><rect x="186.74" y="338.89" width="2.1" height="31.31" fill="#1de38b"/><rect x="188.84" y="350.82" width="2.0" height="19.38" fill="#f628a8"/><rect x="190.84" y="318.74" width="2.1" height="51.46" fill="#3fc0f5"/><rect x="195.07" y="343.54" width="2.1" height="26.66" fill="#1de38b"/><rect x="197.17" y="352.06" width="2.0" height="18.13" fill="#f628a8"/><rect x="199.17" y="325.71" width="2.1" height="44.48" fill="#3fc0f5"/><rect x="203.4" y="339.66" width="2.1" height="30.54" fill="#1de38b"/><rect x="205.5" y="352.06" width="2.0" height="18.13" fill="#f628a8"/><rect x="207.5" y="321.06" width="2.1" height="49.13" fill="#3fc0f5"/><rect x="211.73" y="355.63" width="2.1" height="14.57" fill="#1de38b"/><rect x="213.83" y="358.26" width="2.0" height="11.94" fill="#f628a8"/><rect x="215.83" y="343.54" width="2.1" height="26.66" fill="#3fc0f5"/><rect x="220.06" y="340.9" width="2.1" height="29.29" fill="#1de38b"/><rect x="222.16" y="353.93" width="2.0" height="16.28" fill="#f628a8"/><rect x="224.16" y="324.47" width="2.1" height="45.73" fill="#3fc0f5"/><rect x="228.39" y="316.57" width="2.1" height="53.63" fill="#1de38b"/><rect x="230.49" y="348.19" width="2.0" height="22.01" fill="#f628a8"/><rect x="232.49" y="294.4" width="2.1" height="75.8" fill="#3fc0f5"/><rect x="236.72" y="303.86" width="2.1" height="66.34" fill="#1de38b"/><rect x="238.82" y="351.6" width="2.0" height="18.6" fill="#f628a8"/><rect x="240.82" y="284.64" width="2.1" height="85.56" fill="#3fc0f5"/>
<rect x="35" y="274.2" width="209.6" height="96" fill="none" stroke="#7a7a7a" stroke-width="0.9"/><path d="M32 370.2H35M32 339.2H35M32 308.2H35M32 277.2H35M39.9 370.2V372.5M48.23 370.2V372.5M56.56 370.2V372.5M64.89 370.2V372.5M73.22 370.2V372.5M81.55 370.2V372.5M89.88 370.2V372.5M98.21 370.2V372.5M106.54 370.2V372.5M114.87 370.2V372.5M123.2 370.2V372.5M131.53 370.2V372.5M139.86 370.2V372.5M148.19 370.2V372.5M156.52 370.2V372.5M164.85 370.2V372.5M173.18 370.2V372.5M181.51 370.2V372.5M189.84 370.2V372.5M198.17 370.2V372.5M206.5 370.2V372.5M214.83 370.2V372.5M223.16 370.2V372.5M231.49 370.2V372.5M239.82 370.2V372.5" stroke="#7a7a7a" stroke-width="0.8"/><g font-size="6.8" text-anchor="end" fill="#2a2a2a" stroke="#2a2a2a" stroke-width="0.15"><text x="30.3" y="372.65">0</text><text x="30.3" y="341.65">20</text><text x="30.3" y="310.65">40</text><text x="30.3" y="279.65">60</text></g><g font-size="6.6" text-anchor="middle" fill="#2a2a2a" stroke="#2a2a2a" stroke-width="0.15"><text x="39.9" y="379.7">1</text><text x="48.23" y="379.7">2</text><text x="56.56" y="379.7">3</text><text x="64.89" y="379.7">4</text><text x="73.22" y="379.7">5</text><text x="81.55" y="379.7">6</text><text x="89.88" y="379.7">7</text><text x="98.21" y="379.7">8</text><text x="106.54" y="379.7">9</text><text x="114.87" y="379.7">10</text><text x="123.2" y="379.7">11</text><text x="131.53" y="379.7">12</text><text x="139.86" y="379.7">13</text><text x="148.19" y="379.7">14</text><text x="156.52" y="379.7">15</text><text x="164.85" y="379.7">16</text><text x="173.18" y="379.7">17</text><text x="181.51" y="379.7">18</text><text x="189.84" y="379.7">19</text><text x="198.17" y="379.7">20</text><text x="206.5" y="379.7">21</text><text x="214.83" y="379.7">22</text><text x="223.16" y="379.7">23</text><text x="231.49" y="379.7">X</text><text x="239.82" y="379.7">Y</text></g><text x="139.8" y="388.6" font-size="7.8" text-anchor="middle" fill="#1a1a1a" stroke="#1a1a1a" stroke-width="0.15">Chromosome</text><text x="16.6" y="322.2" transform="rotate(-90 16.6 322.2)" font-size="7.9" text-anchor="middle" fill="#1a1a1a" stroke="#1a1a1a" stroke-width="0.15">Proportion (%)</text>
<rect x="65.7" y="277.8" width="10.7" height="2.6" fill="#1de38b"/>
<rect x="118.3" y="277.8" width="9.5" height="2.6" fill="#f628a8"/>
<rect x="171.2" y="277.8" width="9.7" height="2.6" fill="#3fc0f5"/>
<g font-size="6.7" fill="#1a1a1a" stroke="#1a1a1a" stroke-width="0.12"><text x="80.1" y="281.0">LINE</text><text x="132.3" y="281.0">SINE</text><text x="184.2" y="281.0">LINE+SINE</text></g>
</g>
<g id="C">
<rect x="37" y="443.56" width="2.7" height="44.64" fill="#1de38b"/><rect x="39.7" y="409.82" width="2.7" height="78.38" fill="#f628a8"/><rect x="45.38" y="458.91" width="2.7" height="29.29" fill="#1de38b"/><rect x="48.08" y="407" width="2.7" height="81.2" fill="#f628a8"/><rect x="53.76" y="462.75" width="2.7" height="25.45" fill="#1de38b"/><rect x="56.46" y="417.7" width="2.7" height="70.5" fill="#f628a8"/><rect x="62.14" y="463.96" width="2.7" height="24.24" fill="#1de38b"/><rect x="64.84" y="417.7" width="2.7" height="70.5" fill="#f628a8"/><rect x="70.52" y="461.44" width="2.7" height="26.77" fill="#1de38b"/><rect x="73.22" y="424.97" width="2.7" height="63.23" fill="#f628a8"/><rect x="78.9" y="455.07" width="2.7" height="33.13" fill="#1de38b"/><rect x="81.6" y="411.84" width="2.7" height="76.36" fill="#f628a8"/><rect x="87.28" y="461.03" width="2.7" height="27.17" fill="#1de38b"/><rect x="89.98" y="418.41" width="2.7" height="69.79" fill="#f628a8"/><rect x="95.66" y="461.03" width="2.7" height="27.17" fill="#1de38b"/><rect x="98.36" y="420.23" width="2.7" height="67.97" fill="#f628a8"/><rect x="104.04" y="461.03" width="2.7" height="27.17" fill="#1de38b"/><rect x="106.74" y="416.39" width="2.7" height="71.81" fill="#f628a8"/><rect x="112.42" y="460.53" width="2.7" height="27.67" fill="#1de38b"/><rect x="115.12" y="417.2" width="2.7" height="71" fill="#f628a8"/><rect x="120.8" y="462.75" width="2.7" height="25.45" fill="#1de38b"/><rect x="123.5" y="411.84" width="2.7" height="76.36" fill="#f628a8"/><rect x="129.18" y="459.92" width="2.7" height="28.28" fill="#1de38b"/><rect x="131.88" y="420.73" width="2.7" height="67.47" fill="#f628a8"/><rect x="137.56" y="460.93" width="2.7" height="27.27" fill="#1de38b"/><rect x="140.26" y="406.69" width="2.7" height="81.51" fill="#f628a8"/><rect x="145.94" y="433.36" width="2.7" height="54.84" fill="#1de38b"/><rect x="148.64" y="408.01" width="2.7" height="80.19" fill="#f628a8"/><rect x="154.32" y="455.78" width="2.7" height="32.42" fill="#1de38b"/><rect x="157.02" y="411.04" width="2.7" height="77.16" fill="#f628a8"/><rect x="162.7" y="456.79" width="2.7" height="31.41" fill="#1de38b"/><rect x="165.4" y="414.37" width="2.7" height="73.83" fill="#f628a8"/><rect x="171.08" y="458.3" width="2.7" height="29.9" fill="#1de38b"/><rect x="173.78" y="422.75" width="2.7" height="65.45" fill="#f628a8"/><rect x="179.46" y="451.84" width="2.7" height="36.36" fill="#1de38b"/><rect x="182.16" y="424.06" width="2.7" height="64.14" fill="#f628a8"/><rect x="187.84" y="452.85" width="2.7" height="35.35" fill="#1de38b"/><rect x="190.54" y="411.84" width="2.7" height="76.36" fill="#f628a8"/><rect x="196.22" y="449.52" width="2.7" height="38.68" fill="#1de38b"/><rect x="198.92" y="423.76" width="2.7" height="64.44" fill="#f628a8"/><rect x="204.6" y="460.53" width="2.7" height="27.67" fill="#1de38b"/><rect x="207.3" y="434.67" width="2.7" height="53.53" fill="#f628a8"/><rect x="212.98" y="431.44" width="2.7" height="56.76" fill="#1de38b"/><rect x="215.68" y="411.84" width="2.7" height="76.36" fill="#f628a8"/><rect x="221.36" y="424.57" width="2.7" height="63.63" fill="#1de38b"/><rect x="224.06" y="410.03" width="2.7" height="78.17" fill="#f628a8"/><rect x="229.74" y="454.57" width="2.7" height="33.63" fill="#1de38b"/><rect x="232.44" y="402.15" width="2.7" height="86.05" fill="#f628a8"/><rect x="238.12" y="470.93" width="2.7" height="17.27" fill="#1de38b"/><rect x="240.82" y="465.27" width="2.7" height="22.93" fill="#f628a8"/>
<rect x="34.9" y="392.3" width="210.1" height="95.9" fill="none" stroke="#7a7a7a" stroke-width="0.9"/><path d="M31.9 488.2H34.9M31.9 457.9H34.9M31.9 427.6H34.9M31.9 397.3H34.9M39.7 488.2V490.5M48.08 488.2V490.5M56.46 488.2V490.5M64.84 488.2V490.5M73.22 488.2V490.5M81.6 488.2V490.5M89.98 488.2V490.5M98.36 488.2V490.5M106.74 488.2V490.5M115.12 488.2V490.5M123.5 488.2V490.5M131.88 488.2V490.5M140.26 488.2V490.5M148.64 488.2V490.5M157.02 488.2V490.5M165.4 488.2V490.5M173.78 488.2V490.5M182.16 488.2V490.5M190.54 488.2V490.5M198.92 488.2V490.5M207.3 488.2V490.5M215.68 488.2V490.5M224.06 488.2V490.5M232.44 488.2V490.5M240.82 488.2V490.5" stroke="#7a7a7a" stroke-width="0.8"/><g font-size="7.5" text-anchor="end" fill="#2a2a2a" stroke="#2a2a2a" stroke-width="0.15"><text x="29.3" y="490.9">0</text><text x="29.3" y="460.6">30</text><text x="29.3" y="430.3">60</text><text x="29.3" y="400">90</text></g><text x="18.8" y="440.2" transform="rotate(-90 18.8 440.2)" font-size="8.6" text-anchor="middle" fill="#1a1a1a" stroke="#1a1a1a" stroke-width="0.15">Sd of count</text>
<rect x="76.4" y="396.4" width="13.2" height="2.8" fill="#1de38b"/>
<rect x="173.8" y="396.4" width="13.5" height="2.8" fill="#f628a8"/>
<g font-size="6.9" fill="#1a1a1a" stroke="#1a1a1a" stroke-width="0.12"><text x="94.2" y="400.2">LINE</text><text x="191.8" y="400.2">SINE</text></g>
<rect x="37" y="560.77" width="2.7" height="28.53" fill="#1de38b"/><rect x="39.7" y="563.82" width="2.7" height="25.47" fill="#f628a8"/><rect x="45.38" y="562.3" width="2.7" height="27" fill="#1de38b"/><rect x="48.08" y="559.95" width="2.7" height="29.35" fill="#f628a8"/><rect x="53.76" y="562.5" width="2.7" height="26.8" fill="#1de38b"/><rect x="56.46" y="565.56" width="2.7" height="23.74" fill="#f628a8"/><rect x="62.14" y="561.79" width="2.7" height="27.51" fill="#1de38b"/><rect x="64.84" y="564.84" width="2.7" height="24.46" fill="#f628a8"/><rect x="70.52" y="562.81" width="2.7" height="26.49" fill="#1de38b"/><rect x="73.22" y="563.01" width="2.7" height="26.29" fill="#f628a8"/><rect x="78.9" y="560.77" width="2.7" height="28.53" fill="#1de38b"/><rect x="81.6" y="565.05" width="2.7" height="24.25" fill="#f628a8"/><rect x="87.28" y="565.56" width="2.7" height="23.74" fill="#1de38b"/><rect x="89.98" y="561.28" width="2.7" height="28.02" fill="#f628a8"/><rect x="95.66" y="561.28" width="2.7" height="28.02" fill="#1de38b"/><rect x="98.36" y="567.39" width="2.7" height="21.91" fill="#f628a8"/><rect x="104.04" y="563.82" width="2.7" height="25.47" fill="#1de38b"/><rect x="106.74" y="563.82" width="2.7" height="25.47" fill="#f628a8"/><rect x="112.42" y="564.03" width="2.7" height="25.27" fill="#1de38b"/><rect x="115.12" y="564.33" width="2.7" height="24.97" fill="#f628a8"/><rect x="120.8" y="567.9" width="2.7" height="21.4" fill="#1de38b"/><rect x="123.5" y="560.26" width="2.7" height="29.04" fill="#f628a8"/><rect x="129.18" y="561.79" width="2.7" height="27.51" fill="#1de38b"/><rect x="131.88" y="567.6" width="2.7" height="21.7" fill="#f628a8"/><rect x="137.56" y="564.03" width="2.7" height="25.27" fill="#1de38b"/><rect x="140.26" y="560.77" width="2.7" height="28.53" fill="#f628a8"/><rect x="145.94" y="560.77" width="2.7" height="28.53" fill="#1de38b"/><rect x="148.64" y="555.67" width="2.7" height="33.63" fill="#f628a8"/><rect x="154.32" y="562.5" width="2.7" height="26.8" fill="#1de38b"/><rect x="157.02" y="558.22" width="2.7" height="31.08" fill="#f628a8"/><rect x="162.7" y="559.14" width="2.7" height="30.16" fill="#1de38b"/><rect x="165.4" y="565.05" width="2.7" height="24.25" fill="#f628a8"/><rect x="171.08" y="563.52" width="2.7" height="25.78" fill="#1de38b"/><rect x="173.78" y="567.6" width="2.7" height="21.7" fill="#f628a8"/><rect x="179.46" y="562.5" width="2.7" height="26.8" fill="#1de38b"/><rect x="182.16" y="554.04" width="2.7" height="35.26" fill="#f628a8"/><rect x="187.84" y="558.02" width="2.7" height="31.28" fill="#1de38b"/><rect x="190.54" y="557.41" width="2.7" height="31.89" fill="#f628a8"/><rect x="196.22" y="563.52" width="2.7" height="25.78" fill="#1de38b"/><rect x="198.92" y="549.56" width="2.7" height="39.74" fill="#f628a8"/><rect x="204.6" y="570.35" width="2.7" height="18.95" fill="#1de38b"/><rect x="207.3" y="567.09" width="2.7" height="22.21" fill="#f628a8"/><rect x="212.98" y="572.49" width="2.7" height="16.81" fill="#1de38b"/><rect x="215.68" y="505.74" width="2.7" height="83.56" fill="#f628a8"/><rect x="221.36" y="559.14" width="2.7" height="30.16" fill="#1de38b"/><rect x="224.06" y="554.04" width="2.7" height="35.26" fill="#f628a8"/><rect x="229.74" y="554.04" width="2.7" height="35.26" fill="#1de38b"/><rect x="232.44" y="561.99" width="2.7" height="27.31" fill="#f628a8"/><rect x="238.12" y="571.16" width="2.7" height="18.14" fill="#1de38b"/><rect x="240.82" y="578.09" width="2.7" height="11.21" fill="#f628a8"/>
<rect x="34.9" y="492.7" width="210.1" height="96.6" fill="none" stroke="#7a7a7a" stroke-width="0.9"/><path d="M31.9 589.3H34.9M31.9 558.73H34.9M31.9 528.16H34.9M31.9 497.59H34.9M39.7 589.3V591.6M48.08 589.3V591.6M56.46 589.3V591.6M64.84 589.3V591.6M73.22 589.3V591.6M81.6 589.3V591.6M89.98 589.3V591.6M98.36 589.3V591.6M106.74 589.3V591.6M115.12 589.3V591.6M123.5 589.3V591.6M131.88 589.3V591.6M140.26 589.3V591.6M148.64 589.3V591.6M157.02 589.3V591.6M165.4 589.3V591.6M173.78 589.3V591.6M182.16 589.3V591.6M190.54 589.3V591.6M198.92 589.3V591.6M207.3 589.3V591.6M215.68 589.3V591.6M224.06 589.3V591.6M232.44 589.3V591.6M240.82 589.3V591.6" stroke="#7a7a7a" stroke-width="0.8"/><g font-size="7.5" text-anchor="end" fill="#2a2a2a" stroke="#2a2a2a" stroke-width="0.15"><text x="29.3" y="592">0</text><text x="29.3" y="561.43">30</text><text x="29.3" y="530.86">60</text><text x="29.3" y="500.29">90</text></g><g font-size="6.6" text-anchor="middle" fill="#2a2a2a" stroke="#2a2a2a" stroke-width="0.15"><text x="39.7" y="598.8">1</text><text x="48.08" y="598.8">2</text><text x="56.46" y="598.8">3</text><text x="64.84" y="598.8">4</text><text x="73.22" y="598.8">5</text><text x="81.6" y="598.8">6</text><text x="89.98" y="598.8">7</text><text x="98.36" y="598.8">8</text><text x="106.74" y="598.8">9</text><text x="115.12" y="598.8">10</text><text x="123.5" y="598.8">11</text><text x="131.88" y="598.8">12</text><text x="140.26" y="598.8">13</text><text x="148.64" y="598.8">14</text><text x="157.02" y="598.8">15</text><text x="165.4" y="598.8">16</text><text x="173.78" y="598.8">17</text><text x="182.16" y="598.8">18</text><text x="190.54" y="598.8">19</text><text x="198.92" y="598.8">20</text><text x="207.3" y="598.8">21</text><text x="215.68" y="598.8">22</text><text x="224.06" y="598.8">23</text><text x="232.44" y="598.8">X</text><text x="240.82" y="598.8">Y</text></g><text x="139.95" y="609.4" font-size="8.5" text-anchor="middle" fill="#1a1a1a" stroke="#1a1a1a" stroke-width="0.15">Chromosome</text><text x="18.8" y="540.6" transform="rotate(-90 18.8 540.6)" font-size="8.6" text-anchor="middle" fill="#1a1a1a" stroke="#1a1a1a" stroke-width="0.15">Sd of content</text>
<rect x="76.4" y="497.2" width="13.2" height="2.8" fill="#1de38b"/>
<rect x="173.8" y="497.2" width="13.5" height="2.8" fill="#f628a8"/>
<g font-size="6.9" fill="#1a1a1a" stroke="#1a1a1a" stroke-width="0.12"><text x="94.2" y="501">LINE</text><text x="191.8" y="501">SINE</text></g>
</g>
<g font-size="15" fill="#111" stroke="#111" stroke-width="0.5">
<text x="11.4" y="23.7">A</text><text x="11.5" y="279.0">B</text><text x="10.8" y="392.6">C</text>
<text x="255.6" y="23.5">D</text><text x="256.9" y="331.6">E</text>
</g>
</svg>
</body></html>
